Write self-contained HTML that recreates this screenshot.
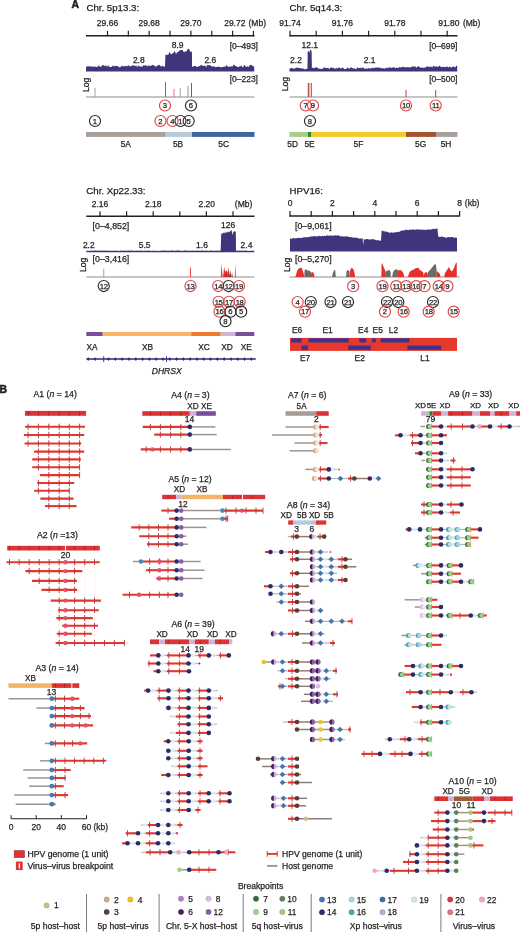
<!DOCTYPE html>
<html><head><meta charset="utf-8"><style>html,body{margin:0;padding:0;background:#fff;}svg{display:block;font-family:"Liberation Sans",Arial,Helvetica,sans-serif;}svg text{stroke:#231f20;stroke-width:0.25;}</style></head>
<body><svg width="520" height="932" viewBox="0 0 520 932" fill="#231f20">
<rect width="520" height="932" fill="#fff"/>
<text x="71.60" y="8.00" font-size="10.4" font-weight="bold" style="stroke-width:0.5px">A</text>
<text x="86.40" y="11.10" font-size="9.7">Chr. 5p13.3:</text>
<line x1="86.00" y1="35.80" x2="254.50" y2="35.80" stroke="#231f20" stroke-width="1.6"/>
<line x1="107.50" y1="30.80" x2="107.50" y2="36.40" stroke="#231f20" stroke-width="1.2"/>
<line x1="128.35" y1="30.80" x2="128.35" y2="36.40" stroke="#231f20" stroke-width="1.2"/>
<line x1="149.20" y1="30.80" x2="149.20" y2="36.40" stroke="#231f20" stroke-width="1.2"/>
<line x1="170.05" y1="30.80" x2="170.05" y2="36.40" stroke="#231f20" stroke-width="1.2"/>
<line x1="190.90" y1="30.80" x2="190.90" y2="36.40" stroke="#231f20" stroke-width="1.2"/>
<line x1="211.75" y1="30.80" x2="211.75" y2="36.40" stroke="#231f20" stroke-width="1.2"/>
<line x1="232.60" y1="30.80" x2="232.60" y2="36.40" stroke="#231f20" stroke-width="1.2"/>
<line x1="253.45" y1="30.80" x2="253.45" y2="36.40" stroke="#231f20" stroke-width="1.2"/>
<text x="107.50" y="26.20" font-size="8.5" text-anchor="middle">29.66</text>
<text x="149.20" y="26.20" font-size="8.5" text-anchor="middle">29.68</text>
<text x="190.90" y="26.20" font-size="8.5" text-anchor="middle">29.70</text>
<text x="234.80" y="26.20" font-size="8.5" text-anchor="middle">29.72</text>
<text x="248.50" y="26.20" font-size="8.5">(Mb)</text>
<text x="258.00" y="48.70" font-size="8.5" text-anchor="end">[0–493]</text>
<path d="M86.00,71.4 L86.00,66.46 L87.00,66.91 L88.00,65.61 L89.00,67.11 L90.00,65.91 L91.00,66.35 L92.00,67.15 L93.00,65.98 L94.00,67.20 L95.00,66.17 L96.00,67.12 L97.00,67.06 L98.00,66.20 L99.00,65.15 L100.00,66.98 L101.00,66.72 L102.00,65.67 L103.00,64.84 L104.00,65.80 L105.00,66.27 L106.00,64.76 L107.00,67.18 L108.00,65.07 L109.00,66.55 L110.00,66.92 L111.00,66.99 L112.00,66.50 L113.00,65.18 L114.00,66.83 L115.00,65.79 L116.00,65.64 L117.00,66.33 L118.00,65.88 L119.00,67.14 L120.00,67.15 L121.00,66.76 L122.00,65.53 L123.00,66.19 L124.00,66.48 L125.00,65.78 L126.00,66.12 L127.00,66.52 L128.00,65.23 L129.00,65.48 L130.00,66.67 L131.00,65.81 L132.00,65.93 L133.00,65.02 L134.00,65.40 L135.00,66.55 L136.00,64.75 L137.00,66.99 L138.00,66.21 L139.00,65.33 L140.00,66.90 L141.00,66.03 L142.00,67.20 L143.00,65.56 L144.00,65.31 L145.00,65.81 L146.00,65.02 L147.00,66.48 L148.00,65.49 L149.00,65.75 L150.00,65.79 L151.00,66.11 L152.00,65.12 L153.00,64.84 L154.00,66.07 L155.00,65.57 L156.00,67.14 L157.00,65.48 L158.00,65.62 L159.00,64.72 L160.00,65.16 L161.00,66.56 L162.00,66.30 L163.00,65.56 L164.00,67.24 L165.00,66.10 L165.40,55.50 L165.60,54.79 L166.90,54.85 L168.20,54.94 L169.50,51.81 L170.80,54.33 L172.10,53.68 L173.40,52.92 L174.70,50.75 L176.00,53.91 L177.30,52.21 L178.60,51.63 L179.90,50.07 L181.20,50.19 L182.50,49.84 L183.80,52.15 L185.10,51.42 L186.40,51.50 L187.70,49.13 L189.00,48.67 L190.30,51.90 L191.60,51.64 L191.90,50.50 L192.10,66.00 L192.20,66.70 L193.20,66.69 L194.20,66.04 L195.20,65.77 L196.20,66.62 L197.20,67.29 L198.20,66.21 L199.20,66.34 L200.20,65.83 L201.20,64.82 L202.20,65.50 L203.20,65.96 L204.20,65.69 L205.20,65.54 L206.20,67.16 L207.20,64.96 L208.20,65.27 L209.20,65.03 L210.20,65.23 L211.20,66.28 L212.20,66.26 L213.20,67.03 L214.20,65.65 L215.20,67.14 L216.20,67.12 L217.20,66.76 L218.20,66.88 L219.20,66.42 L220.20,67.16 L221.20,67.30 L222.20,66.91 L223.20,67.04 L224.20,66.35 L225.20,67.23 L226.20,65.03 L227.20,65.70 L228.20,66.91 L229.20,66.64 L230.20,66.40 L231.20,66.35 L232.20,66.98 L233.20,65.09 L234.20,64.72 L235.20,66.09 L236.20,66.04 L237.20,67.08 L238.20,67.03 L239.20,66.41 L240.20,66.61 L241.20,65.14 L242.20,66.88 L243.20,67.24 L244.20,64.83 L245.20,65.93 L246.20,66.92 L247.20,65.89 L248.20,67.23 L249.20,65.93 L250.20,64.76 L251.20,65.06 L252.20,65.49 L253.20,66.62 L254.20,66.35 L254.20,71.4 Z" fill="#3f357c"/>
<text x="138.80" y="62.50" font-size="8.5" text-anchor="middle">2.8</text>
<text x="177.70" y="47.70" font-size="8.5" text-anchor="middle">8.9</text>
<text x="210.30" y="62.50" font-size="8.5" text-anchor="middle">2.6</text>
<text x="258.00" y="82.00" font-size="8.5" text-anchor="end">[0–223]</text>
<text x="0.00" y="0.00" font-size="8.7" transform="translate(88.5,92.1) rotate(-90)">Log</text>
<line x1="86.00" y1="97.00" x2="254.50" y2="97.00" stroke="#8c8c8c" stroke-width="1.0"/>
<line x1="95.00" y1="88.00" x2="95.00" y2="97.00" stroke="#9a9a9a" stroke-width="0.9"/>
<line x1="165.50" y1="82.00" x2="165.50" y2="97.00" stroke="#e2312d" stroke-width="0.9"/>
<line x1="174.00" y1="89.00" x2="174.00" y2="97.00" stroke="#e86a6a" stroke-width="0.9"/>
<line x1="180.20" y1="88.00" x2="180.20" y2="97.00" stroke="#9a9a9a" stroke-width="0.9"/>
<line x1="188.00" y1="86.00" x2="188.00" y2="97.00" stroke="#8a8a8a" stroke-width="0.9"/>
<line x1="191.50" y1="83.00" x2="191.50" y2="97.00" stroke="#555" stroke-width="0.9"/>
<circle cx="165.00" cy="105.50" r="5.55" fill="none" stroke="#de4646" stroke-width="1.15"/>
<text x="165.00" y="108.25" font-size="7.7" text-anchor="middle">3</text>
<circle cx="191.00" cy="105.50" r="5.55" fill="none" stroke="#2a2a2a" stroke-width="1.15"/>
<text x="191.00" y="108.25" font-size="7.7" text-anchor="middle">6</text>
<circle cx="95.00" cy="121.00" r="5.55" fill="none" stroke="#2a2a2a" stroke-width="1.15"/>
<text x="95.00" y="123.75" font-size="7.7" text-anchor="middle">1</text>
<circle cx="160.50" cy="121.00" r="5.55" fill="none" stroke="#de4646" stroke-width="1.15"/>
<text x="160.50" y="123.75" font-size="7.7" text-anchor="middle">2</text>
<circle cx="172.50" cy="121.00" r="5.55" fill="none" stroke="#de4646" stroke-width="1.15"/>
<text x="172.50" y="123.75" font-size="7.7" text-anchor="middle">4</text>
<circle cx="180.50" cy="121.00" r="5.55" fill="none" stroke="#2a2a2a" stroke-width="1.15"/>
<text x="180.50" y="123.75" font-size="7.7" text-anchor="middle">1</text>
<circle cx="188.70" cy="121.00" r="5.55" fill="none" stroke="#2a2a2a" stroke-width="1.15"/>
<text x="188.70" y="123.75" font-size="7.7" text-anchor="middle">5</text>
<rect x="86.00" y="132.00" width="79.70" height="4.90" fill="#a89f9a"/>
<rect x="165.70" y="132.00" width="26.30" height="4.90" fill="#b9c9d8"/>
<rect x="192.00" y="132.00" width="62.50" height="4.90" fill="#41649e"/>
<text x="125.80" y="147.20" font-size="8.4" text-anchor="middle">5A</text>
<text x="178.00" y="147.20" font-size="8.4" text-anchor="middle">5B</text>
<text x="223.60" y="147.20" font-size="8.4" text-anchor="middle">5C</text>
<text x="289.50" y="11.10" font-size="9.7">Chr. 5q14.3:</text>
<line x1="289.50" y1="35.80" x2="457.50" y2="35.80" stroke="#231f20" stroke-width="1.6"/>
<line x1="290.00" y1="30.80" x2="290.00" y2="36.40" stroke="#231f20" stroke-width="1.2"/>
<line x1="316.20" y1="30.80" x2="316.20" y2="36.40" stroke="#231f20" stroke-width="1.2"/>
<line x1="342.40" y1="30.80" x2="342.40" y2="36.40" stroke="#231f20" stroke-width="1.2"/>
<line x1="368.60" y1="30.80" x2="368.60" y2="36.40" stroke="#231f20" stroke-width="1.2"/>
<line x1="394.80" y1="30.80" x2="394.80" y2="36.40" stroke="#231f20" stroke-width="1.2"/>
<line x1="421.00" y1="30.80" x2="421.00" y2="36.40" stroke="#231f20" stroke-width="1.2"/>
<line x1="447.20" y1="30.80" x2="447.20" y2="36.40" stroke="#231f20" stroke-width="1.2"/>
<text x="290.00" y="26.20" font-size="8.5" text-anchor="middle">91.74</text>
<text x="342.40" y="26.20" font-size="8.5" text-anchor="middle">91.76</text>
<text x="394.80" y="26.20" font-size="8.5" text-anchor="middle">91.78</text>
<text x="448.90" y="26.20" font-size="8.5" text-anchor="middle">91.80</text>
<text x="462.90" y="26.20" font-size="8.5">(Mb)</text>
<text x="457.50" y="48.70" font-size="8.5" text-anchor="end">[0–699]</text>
<path d="M289.50,71.4 L289.50,68.93 L290.50,67.96 L291.50,68.35 L292.50,67.95 L293.50,68.67 L294.50,68.84 L295.50,67.90 L296.50,67.62 L297.50,67.84 L298.50,67.91 L299.50,67.89 L300.50,68.02 L301.50,68.84 L302.50,68.37 L303.50,68.63 L304.50,69.15 L305.50,69.16 L306.50,68.75 L307.50,68.79 L307.70,52.00 L308.30,50.90 L309.20,51.50 L309.60,53.00 L310.10,50.00 L310.80,49.70 L311.60,51.00 L311.90,68.50 L312.20,67.91 L313.20,67.39 L314.20,68.41 L315.20,67.43 L316.20,67.32 L317.20,67.39 L318.20,68.57 L319.20,68.86 L320.20,68.85 L321.20,68.91 L322.20,68.89 L323.20,68.05 L324.20,67.50 L325.20,67.62 L326.20,68.34 L327.20,67.99 L328.20,67.70 L329.20,69.13 L330.20,67.98 L331.20,67.48 L332.20,67.74 L333.20,67.80 L334.20,68.34 L335.20,68.94 L336.20,67.72 L337.20,68.63 L338.20,67.70 L339.20,67.36 L340.20,68.51 L341.20,68.50 L342.20,67.41 L343.20,67.85 L344.20,68.96 L345.20,69.05 L346.20,69.00 L347.20,67.49 L348.20,67.69 L349.20,69.01 L350.20,67.65 L351.20,67.34 L352.20,67.99 L353.20,68.60 L354.20,68.20 L355.20,69.04 L356.20,69.27 L357.20,67.36 L358.20,68.00 L359.20,68.25 L360.20,67.43 L361.20,68.41 L362.20,67.51 L363.20,67.58 L364.20,68.79 L365.20,68.69 L366.20,68.59 L367.20,68.67 L368.20,67.96 L369.20,68.60 L370.20,68.26 L371.20,68.81 L372.20,67.24 L373.20,68.33 L374.20,68.10 L375.20,67.83 L376.20,67.17 L377.20,68.11 L378.20,67.10 L379.20,67.91 L380.20,67.83 L381.20,67.83 L382.20,68.82 L383.20,67.96 L384.20,68.45 L385.20,68.79 L386.20,67.18 L387.20,68.41 L388.20,67.79 L389.20,67.27 L390.20,67.58 L391.20,68.02 L392.20,67.62 L393.20,67.53 L394.20,67.05 L395.20,68.38 L396.20,67.46 L397.20,68.06 L398.20,67.98 L399.20,66.97 L400.20,67.48 L401.20,67.35 L402.20,66.94 L403.20,66.61 L404.20,67.53 L405.20,67.17 L406.20,67.36 L407.20,67.33 L408.20,66.95 L409.20,67.41 L410.20,67.23 L411.20,67.32 L412.20,66.37 L413.20,66.84 L414.20,66.46 L415.20,66.31 L416.20,67.66 L417.20,67.04 L418.20,66.25 L419.20,66.44 L420.20,67.82 L421.20,67.83 L422.20,67.17 L423.20,67.89 L424.20,67.53 L425.20,67.85 L426.20,66.64 L427.20,66.39 L428.20,66.14 L429.20,67.61 L430.20,66.46 L431.20,66.56 L432.20,67.57 L433.20,66.07 L434.20,65.88 L435.20,67.36 L436.20,65.87 L437.20,66.96 L438.20,66.76 L439.20,65.74 L440.20,66.04 L441.20,67.38 L442.20,66.84 L443.20,66.67 L444.20,67.02 L445.20,67.31 L446.20,67.06 L447.20,66.26 L448.20,67.66 L449.20,66.59 L450.20,66.82 L451.20,67.66 L452.20,67.04 L453.20,66.45 L454.20,66.68 L455.20,67.57 L456.20,65.73 L457.20,66.12 L457.20,71.4 Z" fill="#3f357c"/>
<text x="296.00" y="62.50" font-size="8.5" text-anchor="middle">2.2</text>
<text x="309.70" y="47.70" font-size="8.5" text-anchor="middle">12.1</text>
<text x="369.70" y="62.50" font-size="8.5" text-anchor="middle">2.1</text>
<text x="457.50" y="82.20" font-size="8.5" text-anchor="end">[0–500]</text>
<text x="0.00" y="0.00" font-size="8.7" transform="translate(287.7,91.3) rotate(-90)">Log</text>
<line x1="289.50" y1="97.00" x2="457.50" y2="97.00" stroke="#8c8c8c" stroke-width="1.0"/>
<line x1="308.60" y1="83.00" x2="308.60" y2="97.00" stroke="#b85048" stroke-width="1.6"/>
<line x1="311.30" y1="83.00" x2="311.30" y2="97.00" stroke="#d83a3a" stroke-width="1.1"/>
<line x1="406.00" y1="90.00" x2="406.00" y2="97.00" stroke="#e2312d" stroke-width="1.0"/>
<line x1="435.70" y1="90.00" x2="435.70" y2="97.00" stroke="#e2312d" stroke-width="1.0"/>
<circle cx="305.75" cy="105.50" r="5.55" fill="none" stroke="#de4646" stroke-width="1.15"/>
<text x="305.75" y="108.25" font-size="7.7" text-anchor="middle">7</text>
<circle cx="313.00" cy="105.50" r="5.55" fill="none" stroke="#de4646" stroke-width="1.15"/>
<text x="313.00" y="108.25" font-size="7.7" text-anchor="middle">9</text>
<circle cx="406.00" cy="105.50" r="5.55" fill="none" stroke="#de4646" stroke-width="1.15"/>
<text x="406.00" y="108.25" font-size="7.7" text-anchor="middle" letter-spacing="-0.35">10</text>
<circle cx="435.70" cy="105.50" r="5.55" fill="none" stroke="#de4646" stroke-width="1.15"/>
<text x="435.70" y="108.25" font-size="7.7" text-anchor="middle" letter-spacing="-0.35">11</text>
<circle cx="310.00" cy="121.00" r="5.55" fill="none" stroke="#2a2a2a" stroke-width="1.15"/>
<text x="310.00" y="123.75" font-size="7.7" text-anchor="middle">8</text>
<rect x="289.50" y="132.00" width="18.40" height="4.90" fill="#a9cf86"/>
<rect x="307.90" y="132.00" width="3.50" height="4.90" fill="#2f8a2f"/>
<rect x="311.40" y="132.00" width="94.60" height="4.90" fill="#f4cb2c"/>
<rect x="406.00" y="132.00" width="30.00" height="4.90" fill="#a4532c"/>
<rect x="436.00" y="132.00" width="21.50" height="4.90" fill="#a89f9a"/>
<text x="292.70" y="147.20" font-size="8.4" text-anchor="middle">5D</text>
<text x="309.50" y="147.20" font-size="8.4" text-anchor="middle">5E</text>
<text x="358.50" y="147.20" font-size="8.4" text-anchor="middle">5F</text>
<text x="420.70" y="147.20" font-size="8.4" text-anchor="middle">5G</text>
<text x="446.00" y="147.20" font-size="8.4" text-anchor="middle">5H</text>
<text x="86.30" y="194.00" font-size="9.7">Chr. Xp22.33:</text>
<line x1="86.30" y1="216.30" x2="254.50" y2="216.30" stroke="#231f20" stroke-width="1.6"/>
<line x1="100.00" y1="211.30" x2="100.00" y2="216.90" stroke="#231f20" stroke-width="1.2"/>
<line x1="126.60" y1="211.30" x2="126.60" y2="216.90" stroke="#231f20" stroke-width="1.2"/>
<line x1="153.20" y1="211.30" x2="153.20" y2="216.90" stroke="#231f20" stroke-width="1.2"/>
<line x1="179.80" y1="211.30" x2="179.80" y2="216.90" stroke="#231f20" stroke-width="1.2"/>
<line x1="206.40" y1="211.30" x2="206.40" y2="216.90" stroke="#231f20" stroke-width="1.2"/>
<line x1="233.00" y1="211.30" x2="233.00" y2="216.90" stroke="#231f20" stroke-width="1.2"/>
<text x="100.00" y="206.70" font-size="8.5" text-anchor="middle">2.16</text>
<text x="153.20" y="206.70" font-size="8.5" text-anchor="middle">2.18</text>
<text x="206.80" y="206.70" font-size="8.5" text-anchor="middle">2.20</text>
<text x="234.80" y="206.70" font-size="8.5">(Mb)</text>
<text x="92.60" y="229.30" font-size="8.8">[0–4,852]</text>
<path d="M86.30,252.2 L86.30,250.41 L87.00,250.85 L87.70,250.77 L88.40,250.88 L89.10,250.51 L89.80,250.76 L90.50,250.84 L91.20,250.69 L91.90,250.44 L92.60,250.49 L93.30,250.77 L94.00,250.83 L94.70,250.44 L95.40,250.61 L96.10,250.55 L96.80,250.86 L97.50,250.87 L98.20,250.56 L98.90,250.69 L99.60,250.86 L100.30,250.43 L101.00,250.58 L101.70,250.50 L102.40,250.86 L103.10,250.47 L103.80,250.87 L104.50,250.47 L105.20,250.67 L105.90,250.73 L106.60,250.62 L107.30,250.44 L108.00,250.77 L108.70,250.84 L109.40,250.64 L110.10,250.78 L110.80,250.85 L111.50,250.82 L112.20,250.87 L112.90,250.80 L113.60,250.74 L114.30,250.75 L115.00,250.52 L115.70,250.76 L116.40,250.65 L117.10,250.81 L117.80,250.73 L118.50,250.89 L119.20,250.77 L119.90,250.89 L120.60,250.53 L121.30,250.62 L122.00,250.81 L122.70,250.66 L123.40,250.43 L124.10,250.85 L124.80,250.49 L125.50,250.68 L126.20,250.65 L126.90,250.48 L127.60,250.70 L128.30,250.65 L129.00,250.56 L129.70,250.41 L130.40,250.73 L131.10,250.48 L131.80,250.55 L132.50,250.58 L133.20,250.70 L133.90,250.73 L134.60,250.87 L135.30,250.84 L136.00,250.86 L136.70,250.53 L137.40,250.77 L138.10,250.82 L138.80,250.86 L139.50,250.48 L140.20,250.46 L140.90,250.56 L141.60,250.76 L142.30,250.78 L143.00,250.75 L143.70,250.67 L144.40,250.82 L145.10,250.68 L145.80,250.77 L146.50,250.42 L147.20,250.41 L147.90,250.63 L148.60,250.78 L149.30,250.42 L150.00,250.75 L150.70,250.72 L151.40,250.90 L152.10,250.71 L152.80,250.66 L153.50,250.65 L154.20,250.80 L154.90,250.65 L155.60,250.90 L156.30,250.77 L157.00,250.86 L157.70,250.70 L158.40,250.88 L159.10,250.89 L159.80,250.75 L160.50,250.78 L161.20,250.61 L161.90,250.64 L162.60,250.52 L163.30,250.57 L164.00,250.54 L164.70,250.46 L165.40,250.71 L166.10,250.74 L166.80,250.41 L167.50,250.83 L168.20,250.54 L168.90,250.58 L169.60,250.88 L170.30,250.48 L171.00,250.45 L171.70,250.59 L172.40,250.53 L173.10,250.49 L173.80,250.83 L174.50,250.64 L175.20,250.65 L175.90,250.48 L176.60,250.50 L177.30,250.49 L178.00,250.61 L178.70,250.45 L179.40,250.56 L180.10,250.55 L180.80,250.79 L181.50,250.88 L182.20,250.83 L182.90,250.72 L183.60,250.85 L184.30,250.48 L185.00,250.62 L185.70,250.59 L186.40,250.59 L187.10,250.56 L187.80,250.66 L188.50,250.90 L189.20,250.50 L189.90,250.53 L190.60,250.65 L191.30,250.63 L192.00,250.57 L192.70,250.87 L193.40,250.53 L194.10,250.77 L194.80,250.86 L195.50,250.77 L196.20,250.54 L196.90,250.80 L197.60,250.53 L198.30,250.41 L199.00,250.65 L199.70,250.71 L200.40,250.66 L201.10,250.56 L201.80,250.52 L202.50,250.59 L203.20,250.58 L203.90,250.86 L204.60,250.83 L205.30,250.77 L206.00,250.53 L206.70,250.75 L207.40,250.62 L208.10,250.89 L208.80,250.87 L209.50,250.77 L210.20,250.56 L210.90,250.55 L211.60,250.56 L212.30,250.75 L213.00,250.64 L213.70,250.67 L214.40,250.67 L215.10,250.84 L215.80,250.45 L216.50,250.80 L217.20,250.41 L217.90,250.43 L218.60,250.89 L219.30,250.67 L220.00,250.49 L220.70,250.42 L221.20,234.00 L221.80,233.20 L222.60,233.80 L223.40,232.60 L224.20,233.40 L225.00,232.00 L225.80,233.00 L226.60,232.40 L227.40,231.60 L228.20,232.80 L229.00,231.20 L229.80,232.00 L230.60,231.00 L231.40,229.80 L232.00,232.00 L232.70,235.20 L233.30,232.00 L234.20,231.30 L235.00,231.60 L235.80,231.80 L236.00,250.68 L236.70,250.77 L237.40,250.80 L238.10,250.43 L238.80,250.79 L239.50,250.61 L240.20,250.83 L240.90,250.64 L241.60,250.42 L242.30,250.83 L243.00,250.49 L243.70,250.65 L244.40,250.46 L245.10,250.55 L245.80,250.78 L246.50,250.45 L247.20,250.66 L247.90,250.89 L248.60,250.90 L249.30,250.65 L250.00,250.67 L250.70,250.75 L251.40,250.83 L252.10,250.73 L252.80,250.74 L253.50,250.48 L254.20,250.90 L254.20,252.2 Z" fill="#3f357c"/>
<text x="88.80" y="247.50" font-size="8.5" text-anchor="middle">2.2</text>
<text x="144.60" y="247.50" font-size="8.5" text-anchor="middle">5.5</text>
<text x="202.00" y="247.50" font-size="8.5" text-anchor="middle">1.6</text>
<text x="228.20" y="228.20" font-size="8.5" text-anchor="middle">126</text>
<text x="246.50" y="247.50" font-size="8.5" text-anchor="middle">2.4</text>
<text x="92.60" y="262.30" font-size="8.8">[0–3,416]</text>
<text x="0.00" y="0.00" font-size="8.7" transform="translate(86.0,272.1) rotate(-90)">Log</text>
<line x1="86.30" y1="277.00" x2="254.50" y2="277.00" stroke="#8c8c8c" stroke-width="1.0"/>
<line x1="103.75" y1="268.70" x2="103.75" y2="277.00" stroke="#9a9a9a" stroke-width="0.9"/>
<line x1="190.50" y1="267.50" x2="190.50" y2="277.00" stroke="#e2312d" stroke-width="0.9"/>
<path d="M220.80,277.00 L221.50,263.00 L222.60,277.00Z" fill="#e2312d"/>
<path d="M223.00,277.00 L224.20,267.00 L226.00,277.00Z" fill="#e2312d"/>
<path d="M224.60,277.00 L225.50,271.00 L226.50,270.50 L227.50,272.00 L228.00,277.00Z" fill="#e41e1e"/>
<path d="M227.50,277.00 L228.50,267.30 L229.80,277.00Z" fill="#b03030"/>
<path d="M229.40,277.00 L230.20,270.00 L231.10,277.00Z" fill="#6a2a2a"/>
<path d="M231.30,277.00 L232.00,272.00 L232.80,277.00Z" fill="#e2312d"/>
<path d="M234.70,277.00 L235.40,263.80 L236.20,277.00Z" fill="#e86060"/>
<circle cx="103.75" cy="286.00" r="5.55" fill="none" stroke="#2a2a2a" stroke-width="1.15"/>
<text x="103.75" y="288.75" font-size="7.7" text-anchor="middle" letter-spacing="-0.35">12</text>
<circle cx="190.50" cy="286.00" r="5.55" fill="none" stroke="#de4646" stroke-width="1.15"/>
<text x="190.50" y="288.75" font-size="7.7" text-anchor="middle" letter-spacing="-0.35">13</text>
<circle cx="218.20" cy="286.00" r="5.55" fill="none" stroke="#de4646" stroke-width="1.15"/>
<text x="218.20" y="288.75" font-size="7.7" text-anchor="middle" letter-spacing="-0.35">14</text>
<circle cx="228.60" cy="286.00" r="5.55" fill="none" stroke="#2a2a2a" stroke-width="1.15"/>
<text x="228.60" y="288.75" font-size="7.7" text-anchor="middle" letter-spacing="-0.35">12</text>
<circle cx="239.00" cy="286.00" r="5.55" fill="none" stroke="#de4646" stroke-width="1.15"/>
<text x="239.00" y="288.75" font-size="7.7" text-anchor="middle" letter-spacing="-0.35">19</text>
<circle cx="218.60" cy="301.80" r="5.55" fill="none" stroke="#de4646" stroke-width="1.15"/>
<text x="218.60" y="304.55" font-size="7.7" text-anchor="middle" letter-spacing="-0.35">15</text>
<circle cx="229.00" cy="301.80" r="5.55" fill="none" stroke="#de4646" stroke-width="1.15"/>
<text x="229.00" y="304.55" font-size="7.7" text-anchor="middle" letter-spacing="-0.35">17</text>
<circle cx="239.60" cy="301.80" r="5.55" fill="none" stroke="#de4646" stroke-width="1.15"/>
<text x="239.60" y="304.55" font-size="7.7" text-anchor="middle" letter-spacing="-0.35">18</text>
<circle cx="219.50" cy="311.70" r="5.55" fill="none" stroke="#de4646" stroke-width="1.15"/>
<text x="219.50" y="314.45" font-size="7.7" text-anchor="middle" letter-spacing="-0.35">16</text>
<circle cx="230.50" cy="311.70" r="5.55" fill="none" stroke="#2a2a2a" stroke-width="1.15"/>
<text x="230.50" y="314.45" font-size="7.7" text-anchor="middle">6</text>
<circle cx="241.20" cy="311.70" r="5.55" fill="none" stroke="#2a2a2a" stroke-width="1.15"/>
<text x="241.20" y="314.45" font-size="7.7" text-anchor="middle">5</text>
<circle cx="225.50" cy="321.20" r="5.55" fill="none" stroke="#2a2a2a" stroke-width="1.15"/>
<text x="225.50" y="323.95" font-size="7.7" text-anchor="middle">8</text>
<rect x="86.30" y="332.00" width="16.40" height="4.00" fill="#7c4c9c"/>
<rect x="102.70" y="332.00" width="88.50" height="4.00" fill="#f6b466"/>
<rect x="191.20" y="332.00" width="29.50" height="4.00" fill="#ee7c2c"/>
<rect x="220.70" y="332.00" width="14.70" height="4.00" fill="#cdb5d8"/>
<rect x="235.40" y="332.00" width="18.90" height="4.00" fill="#7c4c9c"/>
<text x="92.00" y="349.80" font-size="8.4" text-anchor="middle">XA</text>
<text x="147.50" y="349.80" font-size="8.4" text-anchor="middle">XB</text>
<text x="204.00" y="349.80" font-size="8.4" text-anchor="middle">XC</text>
<text x="227.00" y="349.80" font-size="8.4" text-anchor="middle">XD</text>
<text x="246.30" y="349.80" font-size="8.4" text-anchor="middle">XE</text>
<line x1="86.50" y1="359.10" x2="255.80" y2="359.10" stroke="#2d2a7c" stroke-width="1.5"/>
<path d="M86.60,359.1 L88.30,357.30 L89.50,359.1 L88.30,360.90Z" fill="#2d2a7c"/>
<path d="M93.40,359.1 L95.10,357.30 L96.30,359.1 L95.10,360.90Z" fill="#2d2a7c"/>
<path d="M107.00,359.1 L108.70,357.30 L109.90,359.1 L108.70,360.90Z" fill="#2d2a7c"/>
<path d="M113.80,359.1 L115.50,357.30 L116.70,359.1 L115.50,360.90Z" fill="#2d2a7c"/>
<path d="M120.60,359.1 L122.30,357.30 L123.50,359.1 L122.30,360.90Z" fill="#2d2a7c"/>
<path d="M127.40,359.1 L129.10,357.30 L130.30,359.1 L129.10,360.90Z" fill="#2d2a7c"/>
<path d="M134.20,359.1 L135.90,357.30 L137.10,359.1 L135.90,360.90Z" fill="#2d2a7c"/>
<path d="M141.00,359.1 L142.70,357.30 L143.90,359.1 L142.70,360.90Z" fill="#2d2a7c"/>
<path d="M147.80,359.1 L149.50,357.30 L150.70,359.1 L149.50,360.90Z" fill="#2d2a7c"/>
<path d="M154.60,359.1 L156.30,357.30 L157.50,359.1 L156.30,360.90Z" fill="#2d2a7c"/>
<path d="M161.40,359.1 L163.10,357.30 L164.30,359.1 L163.10,360.90Z" fill="#2d2a7c"/>
<path d="M168.20,359.1 L169.90,357.30 L171.10,359.1 L169.90,360.90Z" fill="#2d2a7c"/>
<path d="M175.00,359.1 L176.70,357.30 L177.90,359.1 L176.70,360.90Z" fill="#2d2a7c"/>
<path d="M181.80,359.1 L183.50,357.30 L184.70,359.1 L183.50,360.90Z" fill="#2d2a7c"/>
<path d="M188.60,359.1 L190.30,357.30 L191.50,359.1 L190.30,360.90Z" fill="#2d2a7c"/>
<path d="M195.40,359.1 L197.10,357.30 L198.30,359.1 L197.10,360.90Z" fill="#2d2a7c"/>
<path d="M202.20,359.1 L203.90,357.30 L205.10,359.1 L203.90,360.90Z" fill="#2d2a7c"/>
<path d="M209.00,359.1 L210.70,357.30 L211.90,359.1 L210.70,360.90Z" fill="#2d2a7c"/>
<path d="M215.80,359.1 L217.50,357.30 L218.70,359.1 L217.50,360.90Z" fill="#2d2a7c"/>
<path d="M222.60,359.1 L224.30,357.30 L225.50,359.1 L224.30,360.90Z" fill="#2d2a7c"/>
<path d="M229.40,359.1 L231.10,357.30 L232.30,359.1 L231.10,360.90Z" fill="#2d2a7c"/>
<path d="M236.20,359.1 L237.90,357.30 L239.10,359.1 L237.90,360.90Z" fill="#2d2a7c"/>
<path d="M243.00,359.1 L244.70,357.30 L245.90,359.1 L244.70,360.90Z" fill="#2d2a7c"/>
<path d="M249.80,359.1 L251.50,357.30 L252.70,359.1 L251.50,360.90Z" fill="#2d2a7c"/>
<line x1="103.70" y1="356.20" x2="103.70" y2="362.00" stroke="#2d2a7c" stroke-width="0.9"/>
<line x1="166.50" y1="356.20" x2="166.50" y2="362.00" stroke="#2d2a7c" stroke-width="0.9"/>
<text x="151.70" y="373.50" font-size="8.6" font-style="italic">DHRSX</text>
<text x="289.50" y="194.00" font-size="9.7">HPV16:</text>
<line x1="289.50" y1="216.00" x2="459.60" y2="216.00" stroke="#231f20" stroke-width="1.6"/>
<line x1="290.00" y1="211.00" x2="290.00" y2="216.60" stroke="#231f20" stroke-width="1.2"/>
<line x1="311.20" y1="211.00" x2="311.20" y2="216.60" stroke="#231f20" stroke-width="1.2"/>
<line x1="332.40" y1="211.00" x2="332.40" y2="216.60" stroke="#231f20" stroke-width="1.2"/>
<line x1="353.60" y1="211.00" x2="353.60" y2="216.60" stroke="#231f20" stroke-width="1.2"/>
<line x1="374.80" y1="211.00" x2="374.80" y2="216.60" stroke="#231f20" stroke-width="1.2"/>
<line x1="396.00" y1="211.00" x2="396.00" y2="216.60" stroke="#231f20" stroke-width="1.2"/>
<line x1="417.20" y1="211.00" x2="417.20" y2="216.60" stroke="#231f20" stroke-width="1.2"/>
<line x1="438.40" y1="211.00" x2="438.40" y2="216.60" stroke="#231f20" stroke-width="1.2"/>
<line x1="459.60" y1="211.00" x2="459.60" y2="216.60" stroke="#231f20" stroke-width="1.2"/>
<text x="290.00" y="206.40" font-size="8.5" text-anchor="middle">0</text>
<text x="332.40" y="206.40" font-size="8.5" text-anchor="middle">2</text>
<text x="374.80" y="206.40" font-size="8.5" text-anchor="middle">4</text>
<text x="417.20" y="206.40" font-size="8.5" text-anchor="middle">6</text>
<text x="459.50" y="206.40" font-size="8.5" text-anchor="middle">8</text>
<text x="464.80" y="206.40" font-size="8.5">(kb)</text>
<text x="295.00" y="229.30" font-size="8.8">[0–9,061]</text>
<path d="M290.00,251.6 L290.00,238.60 L290.83,238.45 L291.67,238.94 L292.50,238.21 L293.33,238.30 L294.17,238.06 L295.00,238.47 L295.83,238.32 L296.67,238.22 L297.50,237.65 L298.33,237.90 L299.17,237.99 L300.00,237.86 L300.83,237.90 L301.67,237.99 L302.50,237.87 L303.33,237.20 L304.17,237.55 L305.00,236.95 L305.83,237.42 L306.67,237.32 L307.50,237.04 L308.33,237.21 L309.17,236.98 L310.00,236.44 L310.83,236.43 L311.67,236.42 L312.50,236.50 L313.33,236.20 L314.17,236.11 L315.00,236.36 L315.83,236.16 L316.67,236.63 L317.50,236.01 L318.33,236.17 L319.17,235.86 L320.00,235.88 L320.83,236.14 L321.67,236.29 L322.50,235.56 L323.33,236.16 L324.17,235.86 L325.00,235.93 L325.83,235.93 L326.67,235.54 L327.50,235.32 L328.33,235.86 L329.17,235.51 L330.00,235.76 L330.83,235.52 L331.67,235.62 L332.50,235.77 L333.33,235.74 L334.17,235.67 L335.00,235.08 L335.83,235.49 L336.67,235.79 L337.50,235.32 L338.33,235.34 L339.17,235.86 L340.00,236.19 L340.83,236.23 L341.67,236.39 L342.50,236.28 L343.33,236.56 L344.17,236.53 L345.00,236.59 L345.83,236.43 L346.67,236.26 L347.50,236.45 L348.33,236.80 L349.17,236.89 L350.00,236.88 L350.83,237.12 L351.67,237.28 L352.50,237.63 L353.33,237.58 L354.17,237.15 L355.00,237.95 L355.83,237.77 L356.67,237.80 L357.50,237.73 L358.33,238.38 L359.17,238.46 L360.00,238.60 L360.87,238.55 L361.73,238.58 L362.60,238.24 L363.20,245.32 L363.80,238.80 L364.66,239.52 L365.52,239.55 L366.38,239.05 L367.25,238.94 L368.11,239.31 L368.97,239.26 L369.83,239.77 L370.69,239.49 L371.55,239.10 L372.42,239.22 L373.28,239.24 L374.14,239.18 L375.00,239.80 L375.86,240.13 L376.71,240.31 L377.57,240.22 L378.43,240.31 L379.29,240.32 L380.14,240.71 L381.00,240.98 L381.60,230.39 L382.44,230.83 L383.28,230.96 L384.12,231.57 L384.96,231.17 L385.80,231.81 L386.64,231.46 L387.48,231.88 L388.32,232.36 L389.16,232.70 L390.00,232.80 L390.88,232.43 L391.75,232.32 L392.62,232.72 L393.50,232.69 L394.38,232.27 L395.25,232.16 L396.12,232.25 L397.00,232.32 L397.80,231.81 L398.60,232.07 L399.40,231.63 L400.20,231.29 L401.00,230.68 L401.80,230.72 L402.60,230.32 L403.40,230.44 L404.20,230.42 L405.00,230.20 L405.83,229.58 L406.67,229.74 L407.50,230.00 L408.33,230.18 L409.17,229.75 L410.00,229.56 L410.83,229.71 L411.67,229.79 L412.50,229.42 L413.33,229.16 L414.17,229.67 L415.00,229.77 L415.83,229.56 L416.67,229.53 L417.50,229.35 L418.33,229.77 L419.17,229.33 L420.00,229.41 L420.83,229.63 L421.67,229.90 L422.50,229.32 L423.33,229.88 L424.17,229.51 L425.00,230.02 L425.88,229.95 L426.75,229.44 L427.62,229.74 L428.50,229.14 L429.38,229.43 L430.25,229.60 L431.12,229.50 L432.00,229.27 L432.90,228.95 L433.80,228.61 L434.70,229.13 L435.60,228.82 L436.50,228.85 L437.40,228.12 L438.20,236.49 L439.05,236.73 L439.90,236.90 L440.75,236.81 L441.60,236.58 L442.45,236.77 L443.30,237.06 L444.15,237.03 L445.00,237.25 L445.88,237.65 L446.75,237.68 L447.62,236.99 L448.50,237.05 L449.38,237.54 L450.25,236.94 L451.12,237.08 L452.00,237.00 L452.83,237.15 L453.67,237.40 L454.50,237.65 L455.33,237.54 L456.17,237.60 L457.00,238.00 L457.00,251.6 Z" fill="#3f357c"/>
<text x="295.00" y="262.30" font-size="8.8">[0–5,270]</text>
<text x="0.00" y="0.00" font-size="8.7" transform="translate(289.5,272.1) rotate(-90)">Log</text>
<line x1="289.50" y1="277.00" x2="459.60" y2="277.00" stroke="#8c8c8c" stroke-width="1.0"/>
<path d="M295.40,277.00 L296.50,273.00 L297.50,270.00 L299.00,268.50 L300.50,267.60 L301.50,268.00 L302.50,270.00 L303.50,273.00 L304.30,277.00Z" fill="#e2312d"/>
<path d="M304.30,277.00 L304.60,270.00 L305.50,269.20 L307.00,270.20 L308.50,270.50 L310.00,271.00 L311.50,273.00 L312.50,277.00Z" fill="#6f6a64"/>
<path d="M310.90,277.00 L311.50,272.50 L313.00,272.00 L314.00,274.00 L314.60,277.00Z" fill="#e2312d"/>
<path d="M332.10,277.00 L332.80,273.00 L334.00,270.50 L335.20,269.70 L335.80,277.00Z" fill="#6f6a64"/>
<path d="M346.00,277.00 L346.60,271.00 L348.00,270.00 L349.30,271.00 L349.50,277.00Z" fill="#6f6a64"/>
<path d="M349.20,277.00 L350.00,271.00 L351.00,268.50 L352.00,267.70 L353.50,269.50 L354.50,273.00 L355.20,277.00Z" fill="#e2312d"/>
<path d="M381.30,277.00 L381.60,264.00 L382.00,263.00 L383.00,265.50 L384.50,269.00 L385.60,271.50 L386.00,277.00Z" fill="#e2312d"/>
<path d="M385.50,277.00 L385.70,271.50 L387.50,270.50 L389.50,270.00 L390.60,272.00 L390.80,277.00Z" fill="#6f6a64"/>
<path d="M392.20,277.00 L393.00,272.00 L394.50,270.00 L396.50,269.20 L398.10,270.00 L398.30,277.00Z" fill="#6f6a64"/>
<path d="M398.00,277.00 L398.20,270.50 L400.00,270.00 L402.00,271.00 L403.50,273.50 L404.20,277.00Z" fill="#e2312d"/>
<path d="M408.00,277.00 L409.00,273.00 L411.00,270.50 L413.00,270.00 L415.00,268.50 L417.00,268.00 L418.50,267.50 L419.50,270.00 L421.00,270.50 L423.30,272.50 L424.00,277.00Z" fill="#e2312d"/>
<path d="M423.50,277.00 L424.50,273.00 L426.00,272.00 L427.50,273.00 L428.00,277.00Z" fill="#e2312d"/>
<path d="M427.40,277.00 L428.00,272.00 L430.00,270.00 L432.00,267.50 L434.00,265.00 L435.00,263.70 L436.00,265.00 L436.60,270.00 L436.80,277.00Z" fill="#6f6a64"/>
<path d="M436.60,277.00 L436.80,271.00 L438.50,272.50 L440.00,274.00 L440.50,277.00Z" fill="#e2312d"/>
<path d="M444.10,277.00 L445.00,273.00 L447.00,270.00 L449.00,267.00 L450.50,270.00 L452.00,271.50 L454.00,268.00 L456.00,262.50 L456.80,263.00 L456.80,277.00Z" fill="#e2312d"/>
<circle cx="353.20" cy="286.20" r="5.55" fill="none" stroke="#de4646" stroke-width="1.15"/>
<text x="353.20" y="288.95" font-size="7.7" text-anchor="middle">3</text>
<circle cx="382.50" cy="286.20" r="5.55" fill="none" stroke="#de4646" stroke-width="1.15"/>
<text x="382.50" y="288.95" font-size="7.7" text-anchor="middle" letter-spacing="-0.35">19</text>
<circle cx="396.20" cy="286.20" r="5.55" fill="none" stroke="#de4646" stroke-width="1.15"/>
<text x="396.20" y="288.95" font-size="7.7" text-anchor="middle" letter-spacing="-0.35">11</text>
<circle cx="406.20" cy="286.20" r="5.55" fill="none" stroke="#de4646" stroke-width="1.15"/>
<text x="406.20" y="288.95" font-size="7.7" text-anchor="middle" letter-spacing="-0.35">13</text>
<circle cx="416.20" cy="286.20" r="5.55" fill="none" stroke="#de4646" stroke-width="1.15"/>
<text x="416.20" y="288.95" font-size="7.7" text-anchor="middle" letter-spacing="-0.35">10</text>
<circle cx="424.50" cy="286.20" r="5.55" fill="none" stroke="#de4646" stroke-width="1.15"/>
<text x="424.50" y="288.95" font-size="7.7" text-anchor="middle">7</text>
<circle cx="438.70" cy="286.20" r="5.55" fill="none" stroke="#de4646" stroke-width="1.15"/>
<text x="438.70" y="288.95" font-size="7.7" text-anchor="middle" letter-spacing="-0.35">14</text>
<circle cx="447.50" cy="286.20" r="5.55" fill="none" stroke="#de4646" stroke-width="1.15"/>
<text x="447.50" y="288.95" font-size="7.7" text-anchor="middle">9</text>
<circle cx="297.60" cy="302.00" r="5.55" fill="none" stroke="#de4646" stroke-width="1.15"/>
<text x="297.60" y="304.75" font-size="7.7" text-anchor="middle">4</text>
<circle cx="310.80" cy="302.00" r="5.55" fill="none" stroke="#2a2a2a" stroke-width="1.15"/>
<text x="310.80" y="304.75" font-size="7.7" text-anchor="middle" letter-spacing="-0.35">20</text>
<circle cx="330.50" cy="302.00" r="5.55" fill="none" stroke="#2a2a2a" stroke-width="1.15"/>
<text x="330.50" y="304.75" font-size="7.7" text-anchor="middle" letter-spacing="-0.35">21</text>
<circle cx="348.00" cy="302.00" r="5.55" fill="none" stroke="#2a2a2a" stroke-width="1.15"/>
<text x="348.00" y="304.75" font-size="7.7" text-anchor="middle" letter-spacing="-0.35">21</text>
<circle cx="387.00" cy="302.00" r="5.55" fill="none" stroke="#2a2a2a" stroke-width="1.15"/>
<text x="387.00" y="304.75" font-size="7.7" text-anchor="middle" letter-spacing="-0.35">22</text>
<circle cx="398.30" cy="302.00" r="5.55" fill="none" stroke="#2a2a2a" stroke-width="1.15"/>
<text x="398.30" y="304.75" font-size="7.7" text-anchor="middle" letter-spacing="-0.35">20</text>
<circle cx="433.00" cy="302.00" r="5.55" fill="none" stroke="#2a2a2a" stroke-width="1.15"/>
<text x="433.00" y="304.75" font-size="7.7" text-anchor="middle" letter-spacing="-0.35">22</text>
<circle cx="305.00" cy="311.70" r="5.55" fill="none" stroke="#de4646" stroke-width="1.15"/>
<text x="305.00" y="314.45" font-size="7.7" text-anchor="middle" letter-spacing="-0.35">17</text>
<circle cx="385.00" cy="311.70" r="5.55" fill="none" stroke="#de4646" stroke-width="1.15"/>
<text x="385.00" y="314.45" font-size="7.7" text-anchor="middle">2</text>
<circle cx="403.70" cy="311.70" r="5.55" fill="none" stroke="#de4646" stroke-width="1.15"/>
<text x="403.70" y="314.45" font-size="7.7" text-anchor="middle" letter-spacing="-0.35">16</text>
<circle cx="428.70" cy="311.70" r="5.55" fill="none" stroke="#de4646" stroke-width="1.15"/>
<text x="428.70" y="314.45" font-size="7.7" text-anchor="middle" letter-spacing="-0.35">18</text>
<circle cx="453.70" cy="311.70" r="5.55" fill="none" stroke="#de4646" stroke-width="1.15"/>
<text x="453.70" y="314.45" font-size="7.7" text-anchor="middle" letter-spacing="-0.35">15</text>
<rect x="290.00" y="337.90" width="167.00" height="13.00" fill="#e6392c"/>
<rect x="291.00" y="338.30" width="10.50" height="4.20" fill="#40328a"/>
<rect x="308.50" y="338.30" width="40.30" height="4.20" fill="#40328a"/>
<rect x="359.20" y="338.30" width="7.00" height="4.20" fill="#40328a"/>
<rect x="372.00" y="338.30" width="3.80" height="4.20" fill="#40328a"/>
<rect x="380.60" y="338.30" width="28.80" height="4.20" fill="#40328a"/>
<rect x="301.50" y="345.50" width="6.40" height="4.40" fill="#40328a"/>
<rect x="348.30" y="345.50" width="22.50" height="4.40" fill="#40328a"/>
<rect x="407.50" y="345.50" width="33.70" height="4.40" fill="#40328a"/>
<text x="297.00" y="333.30" font-size="8.4" text-anchor="middle">E6</text>
<text x="327.50" y="333.30" font-size="8.4" text-anchor="middle">E1</text>
<text x="363.20" y="333.30" font-size="8.4" text-anchor="middle">E4</text>
<text x="377.70" y="333.30" font-size="8.4" text-anchor="middle">E5</text>
<text x="393.50" y="333.30" font-size="8.4" text-anchor="middle">L2</text>
<text x="305.00" y="361.00" font-size="8.4" text-anchor="middle">E7</text>
<text x="359.70" y="361.00" font-size="8.4" text-anchor="middle">E2</text>
<text x="425.00" y="361.00" font-size="8.4" text-anchor="middle">L1</text>
<text x="-0.60" y="392.90" font-size="10.4" font-weight="bold" style="stroke-width:0.5px">B</text>
<text x="55.20" y="397.30" font-size="8.7" text-anchor="middle">A1 (<tspan font-style="italic">n</tspan> = 14)</text>
<rect x="25.00" y="410.90" width="61.10" height="4.90" fill="#dc3434"/>
<line x1="28.40" y1="411.10" x2="28.40" y2="415.60" stroke="#a01c1c" stroke-width="0.7"/>
<line x1="38.50" y1="411.10" x2="38.50" y2="415.60" stroke="#a01c1c" stroke-width="0.7"/>
<line x1="48.70" y1="411.10" x2="48.70" y2="415.60" stroke="#a01c1c" stroke-width="0.7"/>
<line x1="59.10" y1="411.10" x2="59.10" y2="415.60" stroke="#a01c1c" stroke-width="0.7"/>
<line x1="69.30" y1="411.10" x2="69.30" y2="415.60" stroke="#a01c1c" stroke-width="0.7"/>
<line x1="79.50" y1="411.10" x2="79.50" y2="415.60" stroke="#a01c1c" stroke-width="0.7"/>
<line x1="28.10" y1="423.80" x2="28.10" y2="446.50" stroke="#f2d2d7" stroke-width="0.6" stroke-dasharray="1.2 1.2"/>
<line x1="38.40" y1="423.80" x2="38.40" y2="493.80" stroke="#f2d2d7" stroke-width="0.6" stroke-dasharray="1.2 1.2"/>
<line x1="48.80" y1="423.80" x2="48.80" y2="509.10" stroke="#f2d2d7" stroke-width="0.6" stroke-dasharray="1.2 1.2"/>
<line x1="59.20" y1="423.80" x2="59.20" y2="509.10" stroke="#f2d2d7" stroke-width="0.6" stroke-dasharray="1.2 1.2"/>
<line x1="69.30" y1="423.80" x2="69.30" y2="509.10" stroke="#f2d2d7" stroke-width="0.6" stroke-dasharray="1.2 1.2"/>
<line x1="79.60" y1="423.80" x2="79.60" y2="478.10" stroke="#f2d2d7" stroke-width="0.6" stroke-dasharray="1.2 1.2"/>
<line x1="25.00" y1="426.80" x2="85.00" y2="426.80" stroke="#df382c" stroke-width="2.1"/>
<line x1="28.10" y1="423.70" x2="28.10" y2="429.90" stroke="#b8323f" stroke-width="0.9"/>
<line x1="38.40" y1="423.70" x2="38.40" y2="429.90" stroke="#b8323f" stroke-width="0.9"/>
<line x1="48.80" y1="423.70" x2="48.80" y2="429.90" stroke="#b8323f" stroke-width="0.9"/>
<line x1="59.20" y1="423.70" x2="59.20" y2="429.90" stroke="#b8323f" stroke-width="0.9"/>
<line x1="69.30" y1="423.70" x2="69.30" y2="429.90" stroke="#b8323f" stroke-width="0.9"/>
<line x1="79.60" y1="423.70" x2="79.60" y2="429.90" stroke="#b8323f" stroke-width="0.9"/>
<line x1="23.90" y1="435.00" x2="84.20" y2="435.00" stroke="#df382c" stroke-width="2.1"/>
<line x1="28.10" y1="431.90" x2="28.10" y2="438.10" stroke="#b8323f" stroke-width="0.9"/>
<line x1="38.40" y1="431.90" x2="38.40" y2="438.10" stroke="#b8323f" stroke-width="0.9"/>
<line x1="48.80" y1="431.90" x2="48.80" y2="438.10" stroke="#b8323f" stroke-width="0.9"/>
<line x1="59.20" y1="431.90" x2="59.20" y2="438.10" stroke="#b8323f" stroke-width="0.9"/>
<line x1="69.30" y1="431.90" x2="69.30" y2="438.10" stroke="#b8323f" stroke-width="0.9"/>
<line x1="79.60" y1="431.90" x2="79.60" y2="438.10" stroke="#b8323f" stroke-width="0.9"/>
<line x1="24.50" y1="443.50" x2="81.20" y2="443.50" stroke="#df382c" stroke-width="2.1"/>
<line x1="28.10" y1="440.40" x2="28.10" y2="446.60" stroke="#b8323f" stroke-width="0.9"/>
<line x1="38.40" y1="440.40" x2="38.40" y2="446.60" stroke="#b8323f" stroke-width="0.9"/>
<line x1="48.80" y1="440.40" x2="48.80" y2="446.60" stroke="#b8323f" stroke-width="0.9"/>
<line x1="59.20" y1="440.40" x2="59.20" y2="446.60" stroke="#b8323f" stroke-width="0.9"/>
<line x1="69.30" y1="440.40" x2="69.30" y2="446.60" stroke="#b8323f" stroke-width="0.9"/>
<line x1="79.60" y1="440.40" x2="79.60" y2="446.60" stroke="#b8323f" stroke-width="0.9"/>
<line x1="34.20" y1="451.60" x2="84.20" y2="451.60" stroke="#df382c" stroke-width="2.1"/>
<line x1="38.40" y1="448.50" x2="38.40" y2="454.70" stroke="#b8323f" stroke-width="0.9"/>
<line x1="48.80" y1="448.50" x2="48.80" y2="454.70" stroke="#b8323f" stroke-width="0.9"/>
<line x1="59.20" y1="448.50" x2="59.20" y2="454.70" stroke="#b8323f" stroke-width="0.9"/>
<line x1="69.30" y1="448.50" x2="69.30" y2="454.70" stroke="#b8323f" stroke-width="0.9"/>
<line x1="79.60" y1="448.50" x2="79.60" y2="454.70" stroke="#b8323f" stroke-width="0.9"/>
<line x1="32.20" y1="459.40" x2="80.80" y2="459.40" stroke="#df382c" stroke-width="2.1"/>
<line x1="38.40" y1="456.30" x2="38.40" y2="462.50" stroke="#b8323f" stroke-width="0.9"/>
<line x1="48.80" y1="456.30" x2="48.80" y2="462.50" stroke="#b8323f" stroke-width="0.9"/>
<line x1="59.20" y1="456.30" x2="59.20" y2="462.50" stroke="#b8323f" stroke-width="0.9"/>
<line x1="69.30" y1="456.30" x2="69.30" y2="462.50" stroke="#b8323f" stroke-width="0.9"/>
<line x1="79.60" y1="456.30" x2="79.60" y2="462.50" stroke="#b8323f" stroke-width="0.9"/>
<line x1="32.20" y1="467.20" x2="79.60" y2="467.20" stroke="#df382c" stroke-width="2.1"/>
<line x1="38.40" y1="464.10" x2="38.40" y2="470.30" stroke="#b8323f" stroke-width="0.9"/>
<line x1="48.80" y1="464.10" x2="48.80" y2="470.30" stroke="#b8323f" stroke-width="0.9"/>
<line x1="59.20" y1="464.10" x2="59.20" y2="470.30" stroke="#b8323f" stroke-width="0.9"/>
<line x1="69.30" y1="464.10" x2="69.30" y2="470.30" stroke="#b8323f" stroke-width="0.9"/>
<line x1="79.60" y1="464.10" x2="79.60" y2="470.30" stroke="#b8323f" stroke-width="0.9"/>
<line x1="39.90" y1="475.10" x2="79.60" y2="475.10" stroke="#df382c" stroke-width="2.1"/>
<line x1="48.80" y1="472.00" x2="48.80" y2="478.20" stroke="#b8323f" stroke-width="0.9"/>
<line x1="59.20" y1="472.00" x2="59.20" y2="478.20" stroke="#b8323f" stroke-width="0.9"/>
<line x1="69.30" y1="472.00" x2="69.30" y2="478.20" stroke="#b8323f" stroke-width="0.9"/>
<line x1="79.60" y1="472.00" x2="79.60" y2="478.20" stroke="#b8323f" stroke-width="0.9"/>
<line x1="37.30" y1="483.00" x2="74.20" y2="483.00" stroke="#df382c" stroke-width="2.1"/>
<line x1="38.40" y1="479.90" x2="38.40" y2="486.10" stroke="#b8323f" stroke-width="0.9"/>
<line x1="48.80" y1="479.90" x2="48.80" y2="486.10" stroke="#b8323f" stroke-width="0.9"/>
<line x1="59.20" y1="479.90" x2="59.20" y2="486.10" stroke="#b8323f" stroke-width="0.9"/>
<line x1="69.30" y1="479.90" x2="69.30" y2="486.10" stroke="#b8323f" stroke-width="0.9"/>
<line x1="34.20" y1="490.80" x2="69.60" y2="490.80" stroke="#df382c" stroke-width="2.1"/>
<line x1="38.40" y1="487.70" x2="38.40" y2="493.90" stroke="#b8323f" stroke-width="0.9"/>
<line x1="48.80" y1="487.70" x2="48.80" y2="493.90" stroke="#b8323f" stroke-width="0.9"/>
<line x1="59.20" y1="487.70" x2="59.20" y2="493.90" stroke="#b8323f" stroke-width="0.9"/>
<line x1="69.30" y1="487.70" x2="69.30" y2="493.90" stroke="#b8323f" stroke-width="0.9"/>
<line x1="40.40" y1="498.60" x2="73.50" y2="498.60" stroke="#df382c" stroke-width="2.1"/>
<line x1="48.80" y1="495.50" x2="48.80" y2="501.70" stroke="#b8323f" stroke-width="0.9"/>
<line x1="59.20" y1="495.50" x2="59.20" y2="501.70" stroke="#b8323f" stroke-width="0.9"/>
<line x1="69.30" y1="495.50" x2="69.30" y2="501.70" stroke="#b8323f" stroke-width="0.9"/>
<line x1="45.00" y1="506.10" x2="76.50" y2="506.10" stroke="#df382c" stroke-width="2.1"/>
<line x1="48.80" y1="503.00" x2="48.80" y2="509.20" stroke="#b8323f" stroke-width="0.9"/>
<line x1="59.20" y1="503.00" x2="59.20" y2="509.20" stroke="#b8323f" stroke-width="0.9"/>
<line x1="69.30" y1="503.00" x2="69.30" y2="509.20" stroke="#b8323f" stroke-width="0.9"/>
<text x="57.50" y="538.00" font-size="8.7" text-anchor="middle">A2 (<tspan font-style="italic">n</tspan> =13)</text>
<rect x="7.20" y="545.80" width="57.80" height="4.70" fill="#dc3434"/>
<rect x="65.90" y="545.80" width="33.90" height="4.70" fill="#dc3434"/>
<line x1="9.50" y1="546.00" x2="9.50" y2="550.30" stroke="#a01c1c" stroke-width="0.7"/>
<line x1="19.20" y1="546.00" x2="19.20" y2="550.30" stroke="#a01c1c" stroke-width="0.7"/>
<line x1="29.20" y1="546.00" x2="29.20" y2="550.30" stroke="#a01c1c" stroke-width="0.7"/>
<line x1="39.20" y1="546.00" x2="39.20" y2="550.30" stroke="#a01c1c" stroke-width="0.7"/>
<line x1="49.20" y1="546.00" x2="49.20" y2="550.30" stroke="#a01c1c" stroke-width="0.7"/>
<line x1="59.20" y1="546.00" x2="59.20" y2="550.30" stroke="#a01c1c" stroke-width="0.7"/>
<line x1="74.60" y1="546.00" x2="74.60" y2="550.30" stroke="#a01c1c" stroke-width="0.7"/>
<line x1="84.70" y1="546.00" x2="84.70" y2="550.30" stroke="#a01c1c" stroke-width="0.7"/>
<line x1="94.50" y1="546.00" x2="94.50" y2="550.30" stroke="#a01c1c" stroke-width="0.7"/>
<text x="65.50" y="557.60" font-size="8.5" text-anchor="middle">20</text>
<line x1="29.20" y1="559.20" x2="29.20" y2="574.10" stroke="#f2d2d7" stroke-width="0.6" stroke-dasharray="1.2 1.2"/>
<line x1="39.20" y1="559.20" x2="39.20" y2="583.90" stroke="#f2d2d7" stroke-width="0.6" stroke-dasharray="1.2 1.2"/>
<line x1="49.20" y1="559.20" x2="49.20" y2="592.90" stroke="#f2d2d7" stroke-width="0.6" stroke-dasharray="1.2 1.2"/>
<line x1="59.20" y1="559.20" x2="59.20" y2="646.00" stroke="#f2d2d7" stroke-width="0.6" stroke-dasharray="1.2 1.2"/>
<line x1="74.60" y1="559.20" x2="74.60" y2="646.00" stroke="#f2d2d7" stroke-width="0.6" stroke-dasharray="1.2 1.2"/>
<line x1="84.70" y1="559.20" x2="84.70" y2="646.00" stroke="#f2d2d7" stroke-width="0.6" stroke-dasharray="1.2 1.2"/>
<line x1="94.50" y1="559.20" x2="94.50" y2="646.00" stroke="#f2d2d7" stroke-width="0.6" stroke-dasharray="1.2 1.2"/>
<line x1="6.50" y1="562.20" x2="99.70" y2="562.20" stroke="#df382c" stroke-width="2.1"/>
<line x1="9.50" y1="559.10" x2="9.50" y2="565.30" stroke="#b8323f" stroke-width="0.9"/>
<line x1="19.20" y1="559.10" x2="19.20" y2="565.30" stroke="#b8323f" stroke-width="0.9"/>
<line x1="29.20" y1="559.10" x2="29.20" y2="565.30" stroke="#b8323f" stroke-width="0.9"/>
<line x1="39.20" y1="559.10" x2="39.20" y2="565.30" stroke="#b8323f" stroke-width="0.9"/>
<line x1="49.20" y1="559.10" x2="49.20" y2="565.30" stroke="#b8323f" stroke-width="0.9"/>
<line x1="59.20" y1="559.10" x2="59.20" y2="565.30" stroke="#b8323f" stroke-width="0.9"/>
<line x1="74.60" y1="559.10" x2="74.60" y2="565.30" stroke="#b8323f" stroke-width="0.9"/>
<line x1="84.70" y1="559.10" x2="84.70" y2="565.30" stroke="#b8323f" stroke-width="0.9"/>
<line x1="94.50" y1="559.10" x2="94.50" y2="565.30" stroke="#b8323f" stroke-width="0.9"/>
<circle cx="65.50" cy="562.20" r="2.2" fill="#e2506a"/>
<line x1="25.40" y1="571.10" x2="82.40" y2="571.10" stroke="#df382c" stroke-width="2.1"/>
<line x1="29.20" y1="568.00" x2="29.20" y2="574.20" stroke="#b8323f" stroke-width="0.9"/>
<line x1="39.20" y1="568.00" x2="39.20" y2="574.20" stroke="#b8323f" stroke-width="0.9"/>
<line x1="49.20" y1="568.00" x2="49.20" y2="574.20" stroke="#b8323f" stroke-width="0.9"/>
<line x1="59.20" y1="568.00" x2="59.20" y2="574.20" stroke="#b8323f" stroke-width="0.9"/>
<line x1="74.60" y1="568.00" x2="74.60" y2="574.20" stroke="#b8323f" stroke-width="0.9"/>
<circle cx="65.50" cy="571.10" r="2.2" fill="#e2506a"/>
<line x1="32.00" y1="580.90" x2="76.90" y2="580.90" stroke="#df382c" stroke-width="2.1"/>
<line x1="39.20" y1="577.80" x2="39.20" y2="584.00" stroke="#b8323f" stroke-width="0.9"/>
<line x1="49.20" y1="577.80" x2="49.20" y2="584.00" stroke="#b8323f" stroke-width="0.9"/>
<line x1="59.20" y1="577.80" x2="59.20" y2="584.00" stroke="#b8323f" stroke-width="0.9"/>
<line x1="74.60" y1="577.80" x2="74.60" y2="584.00" stroke="#b8323f" stroke-width="0.9"/>
<circle cx="65.50" cy="580.90" r="2.2" fill="#e2506a"/>
<line x1="41.40" y1="589.90" x2="77.20" y2="589.90" stroke="#df382c" stroke-width="2.1"/>
<line x1="49.20" y1="586.80" x2="49.20" y2="593.00" stroke="#b8323f" stroke-width="0.9"/>
<line x1="59.20" y1="586.80" x2="59.20" y2="593.00" stroke="#b8323f" stroke-width="0.9"/>
<line x1="74.60" y1="586.80" x2="74.60" y2="593.00" stroke="#b8323f" stroke-width="0.9"/>
<circle cx="65.50" cy="589.90" r="2.2" fill="#e2506a"/>
<line x1="50.70" y1="600.60" x2="100.90" y2="600.60" stroke="#df382c" stroke-width="2.1"/>
<line x1="59.20" y1="597.50" x2="59.20" y2="603.70" stroke="#b8323f" stroke-width="0.9"/>
<line x1="74.60" y1="597.50" x2="74.60" y2="603.70" stroke="#b8323f" stroke-width="0.9"/>
<line x1="84.70" y1="597.50" x2="84.70" y2="603.70" stroke="#b8323f" stroke-width="0.9"/>
<line x1="94.50" y1="597.50" x2="94.50" y2="603.70" stroke="#b8323f" stroke-width="0.9"/>
<circle cx="65.50" cy="600.60" r="2.2" fill="#e2506a"/>
<line x1="58.20" y1="610.20" x2="98.80" y2="610.20" stroke="#df382c" stroke-width="2.1"/>
<line x1="59.20" y1="607.10" x2="59.20" y2="613.30" stroke="#b8323f" stroke-width="0.9"/>
<line x1="74.60" y1="607.10" x2="74.60" y2="613.30" stroke="#b8323f" stroke-width="0.9"/>
<line x1="84.70" y1="607.10" x2="84.70" y2="613.30" stroke="#b8323f" stroke-width="0.9"/>
<line x1="94.50" y1="607.10" x2="94.50" y2="613.30" stroke="#b8323f" stroke-width="0.9"/>
<circle cx="65.50" cy="610.20" r="2.2" fill="#e2506a"/>
<line x1="56.40" y1="618.10" x2="92.80" y2="618.10" stroke="#df382c" stroke-width="2.1"/>
<line x1="59.20" y1="615.00" x2="59.20" y2="621.20" stroke="#b8323f" stroke-width="0.9"/>
<line x1="74.60" y1="615.00" x2="74.60" y2="621.20" stroke="#b8323f" stroke-width="0.9"/>
<line x1="84.70" y1="615.00" x2="84.70" y2="621.20" stroke="#b8323f" stroke-width="0.9"/>
<circle cx="65.50" cy="618.10" r="2.2" fill="#e2506a"/>
<line x1="62.20" y1="625.80" x2="98.00" y2="625.80" stroke="#df382c" stroke-width="2.1"/>
<line x1="74.60" y1="622.70" x2="74.60" y2="628.90" stroke="#b8323f" stroke-width="0.9"/>
<line x1="84.70" y1="622.70" x2="84.70" y2="628.90" stroke="#b8323f" stroke-width="0.9"/>
<line x1="94.50" y1="622.70" x2="94.50" y2="628.90" stroke="#b8323f" stroke-width="0.9"/>
<circle cx="65.50" cy="625.80" r="2.2" fill="#e2506a"/>
<line x1="56.80" y1="633.70" x2="91.90" y2="633.70" stroke="#df382c" stroke-width="2.1"/>
<line x1="59.20" y1="630.60" x2="59.20" y2="636.80" stroke="#b8323f" stroke-width="0.9"/>
<line x1="74.60" y1="630.60" x2="74.60" y2="636.80" stroke="#b8323f" stroke-width="0.9"/>
<line x1="84.70" y1="630.60" x2="84.70" y2="636.80" stroke="#b8323f" stroke-width="0.9"/>
<circle cx="65.50" cy="633.70" r="2.2" fill="#e2506a"/>
<line x1="55.60" y1="643.00" x2="124.80" y2="643.00" stroke="#df382c" stroke-width="2.1"/>
<line x1="59.20" y1="639.90" x2="59.20" y2="646.10" stroke="#b8323f" stroke-width="0.9"/>
<line x1="74.60" y1="639.90" x2="74.60" y2="646.10" stroke="#b8323f" stroke-width="0.9"/>
<line x1="84.70" y1="639.90" x2="84.70" y2="646.10" stroke="#b8323f" stroke-width="0.9"/>
<line x1="94.50" y1="639.90" x2="94.50" y2="646.10" stroke="#b8323f" stroke-width="0.9"/>
<line x1="104.50" y1="639.90" x2="104.50" y2="646.10" stroke="#b8323f" stroke-width="0.9"/>
<line x1="114.40" y1="639.90" x2="114.40" y2="646.10" stroke="#b8323f" stroke-width="0.9"/>
<line x1="124.40" y1="639.90" x2="124.40" y2="646.10" stroke="#b8323f" stroke-width="0.9"/>
<circle cx="65.50" cy="643.00" r="2.2" fill="#e2506a"/>
<text x="57.10" y="670.60" font-size="8.7" text-anchor="middle">A3 (<tspan font-style="italic">n</tspan> = 14)</text>
<text x="30.50" y="680.70" font-size="8.2" text-anchor="middle">XB</text>
<rect x="8.50" y="683.30" width="43.30" height="4.60" fill="#f3b46a"/>
<rect x="51.80" y="683.30" width="19.60" height="4.60" fill="#dc3434"/>
<rect x="72.30" y="683.30" width="7.00" height="4.60" fill="#dc3434"/>
<line x1="55.40" y1="683.50" x2="55.40" y2="687.70" stroke="#a01c1c" stroke-width="0.7"/>
<line x1="64.50" y1="683.50" x2="64.50" y2="687.70" stroke="#a01c1c" stroke-width="0.7"/>
<text x="51.60" y="694.80" font-size="8.5" text-anchor="middle">13</text>
<line x1="8.50" y1="698.70" x2="51.80" y2="698.70" stroke="#9d9590" stroke-width="1.5"/>
<line x1="51.80" y1="698.70" x2="79.30" y2="698.70" stroke="#df382c" stroke-width="2.1"/>
<line x1="55.40" y1="695.60" x2="55.40" y2="701.80" stroke="#b8323f" stroke-width="0.9"/>
<line x1="64.50" y1="695.60" x2="64.50" y2="701.80" stroke="#b8323f" stroke-width="0.9"/>
<circle cx="72.30" cy="698.70" r="2.2" fill="#e2506a"/>
<circle cx="51.80" cy="698.70" r="2.4" fill="#3d7fb0"/>
<line x1="36.40" y1="708.10" x2="51.80" y2="708.10" stroke="#9d9590" stroke-width="1.5"/>
<line x1="51.80" y1="708.10" x2="84.60" y2="708.10" stroke="#df382c" stroke-width="2.1"/>
<line x1="55.40" y1="705.00" x2="55.40" y2="711.20" stroke="#b8323f" stroke-width="0.9"/>
<line x1="64.50" y1="705.00" x2="64.50" y2="711.20" stroke="#b8323f" stroke-width="0.9"/>
<line x1="80.40" y1="705.00" x2="80.40" y2="711.20" stroke="#b8323f" stroke-width="0.9"/>
<circle cx="72.30" cy="708.10" r="2.2" fill="#e2506a"/>
<circle cx="51.80" cy="708.10" r="2.4" fill="#3d7fb0"/>
<line x1="51.80" y1="716.10" x2="91.00" y2="716.10" stroke="#df382c" stroke-width="2.1"/>
<line x1="55.40" y1="713.00" x2="55.40" y2="719.20" stroke="#b8323f" stroke-width="0.9"/>
<line x1="64.50" y1="713.00" x2="64.50" y2="719.20" stroke="#b8323f" stroke-width="0.9"/>
<line x1="80.40" y1="713.00" x2="80.40" y2="719.20" stroke="#b8323f" stroke-width="0.9"/>
<line x1="89.00" y1="713.00" x2="89.00" y2="719.20" stroke="#b8323f" stroke-width="0.9"/>
<circle cx="72.30" cy="716.10" r="2.2" fill="#e2506a"/>
<circle cx="51.80" cy="716.10" r="2.4" fill="#3d7fb0"/>
<line x1="51.80" y1="725.40" x2="93.00" y2="725.40" stroke="#df382c" stroke-width="2.1"/>
<line x1="55.40" y1="722.30" x2="55.40" y2="728.50" stroke="#b8323f" stroke-width="0.9"/>
<line x1="64.50" y1="722.30" x2="64.50" y2="728.50" stroke="#b8323f" stroke-width="0.9"/>
<line x1="79.50" y1="722.30" x2="79.50" y2="728.50" stroke="#b8323f" stroke-width="0.9"/>
<circle cx="72.30" cy="725.40" r="2.2" fill="#e2506a"/>
<circle cx="85.70" cy="725.40" r="2.2" fill="#e2506a"/>
<circle cx="51.80" cy="725.40" r="2.4" fill="#3d7fb0"/>
<line x1="44.80" y1="743.40" x2="51.80" y2="743.40" stroke="#9d9590" stroke-width="1.5"/>
<line x1="51.80" y1="743.40" x2="87.20" y2="743.40" stroke="#df382c" stroke-width="2.1"/>
<line x1="55.40" y1="740.30" x2="55.40" y2="746.50" stroke="#b8323f" stroke-width="0.9"/>
<line x1="64.50" y1="740.30" x2="64.50" y2="746.50" stroke="#b8323f" stroke-width="0.9"/>
<line x1="72.50" y1="740.30" x2="72.50" y2="746.50" stroke="#b8323f" stroke-width="0.9"/>
<circle cx="80.40" cy="743.40" r="2.2" fill="#e2506a"/>
<circle cx="51.80" cy="743.40" r="2.4" fill="#3d7fb0"/>
<line x1="40.00" y1="760.80" x2="51.80" y2="760.80" stroke="#9d9590" stroke-width="1.5"/>
<line x1="51.80" y1="760.80" x2="106.20" y2="760.80" stroke="#df382c" stroke-width="2.1"/>
<line x1="55.40" y1="757.70" x2="55.40" y2="763.90" stroke="#b8323f" stroke-width="0.9"/>
<line x1="65.00" y1="757.70" x2="65.00" y2="763.90" stroke="#b8323f" stroke-width="0.9"/>
<line x1="74.60" y1="757.70" x2="74.60" y2="763.90" stroke="#b8323f" stroke-width="0.9"/>
<line x1="84.20" y1="757.70" x2="84.20" y2="763.90" stroke="#b8323f" stroke-width="0.9"/>
<line x1="93.80" y1="757.70" x2="93.80" y2="763.90" stroke="#b8323f" stroke-width="0.9"/>
<line x1="103.40" y1="757.70" x2="103.40" y2="763.90" stroke="#b8323f" stroke-width="0.9"/>
<circle cx="51.80" cy="760.80" r="2.4" fill="#3d7fb0"/>
<line x1="23.20" y1="770.00" x2="51.80" y2="770.00" stroke="#9d9590" stroke-width="1.5"/>
<line x1="51.80" y1="770.00" x2="70.70" y2="770.00" stroke="#df382c" stroke-width="2.1"/>
<line x1="55.40" y1="766.90" x2="55.40" y2="773.10" stroke="#b8323f" stroke-width="0.9"/>
<line x1="65.00" y1="766.90" x2="65.00" y2="773.10" stroke="#b8323f" stroke-width="0.9"/>
<circle cx="51.80" cy="770.00" r="2.4" fill="#3d7fb0"/>
<line x1="27.50" y1="778.00" x2="51.80" y2="778.00" stroke="#9d9590" stroke-width="1.5"/>
<line x1="51.80" y1="778.00" x2="65.70" y2="778.00" stroke="#df382c" stroke-width="2.1"/>
<line x1="55.40" y1="774.90" x2="55.40" y2="781.10" stroke="#b8323f" stroke-width="0.9"/>
<line x1="65.00" y1="774.90" x2="65.00" y2="781.10" stroke="#b8323f" stroke-width="0.9"/>
<circle cx="51.80" cy="778.00" r="2.4" fill="#3d7fb0"/>
<line x1="29.20" y1="786.20" x2="51.80" y2="786.20" stroke="#9d9590" stroke-width="1.5"/>
<line x1="51.80" y1="786.20" x2="63.70" y2="786.20" stroke="#df382c" stroke-width="2.1"/>
<line x1="55.40" y1="783.10" x2="55.40" y2="789.30" stroke="#b8323f" stroke-width="0.9"/>
<circle cx="51.80" cy="786.20" r="2.4" fill="#3d7fb0"/>
<line x1="14.30" y1="795.10" x2="51.80" y2="795.10" stroke="#9d9590" stroke-width="1.5"/>
<line x1="51.80" y1="795.10" x2="68.10" y2="795.10" stroke="#df382c" stroke-width="2.1"/>
<line x1="55.40" y1="792.00" x2="55.40" y2="798.20" stroke="#b8323f" stroke-width="0.9"/>
<line x1="65.00" y1="792.00" x2="65.00" y2="798.20" stroke="#b8323f" stroke-width="0.9"/>
<circle cx="51.80" cy="795.10" r="2.4" fill="#3d7fb0"/>
<line x1="15.70" y1="804.20" x2="51.80" y2="804.20" stroke="#9d9590" stroke-width="1.5"/>
<line x1="51.80" y1="804.20" x2="55.40" y2="804.20" stroke="#df382c" stroke-width="2.1"/>
<circle cx="51.80" cy="804.20" r="2.4" fill="#3d7fb0"/>
<line x1="11.10" y1="818.80" x2="86.50" y2="818.80" stroke="#231f20" stroke-width="1.1"/>
<line x1="11.10" y1="815.20" x2="11.10" y2="818.80" stroke="#231f20" stroke-width="1.0"/>
<line x1="36.20" y1="815.20" x2="36.20" y2="818.80" stroke="#231f20" stroke-width="1.0"/>
<line x1="61.30" y1="815.20" x2="61.30" y2="818.80" stroke="#231f20" stroke-width="1.0"/>
<line x1="86.50" y1="815.20" x2="86.50" y2="818.80" stroke="#231f20" stroke-width="1.0"/>
<text x="11.10" y="830.40" font-size="8.5" text-anchor="middle">0</text>
<text x="36.20" y="830.40" font-size="8.5" text-anchor="middle">20</text>
<text x="61.30" y="830.40" font-size="8.5" text-anchor="middle">40</text>
<text x="86.50" y="830.40" font-size="8.5" text-anchor="middle">60</text>
<text x="93.40" y="830.40" font-size="8.5">(kb)</text>
<rect x="14.2" y="850.7" width="10.2" height="6.8" fill="#dc3434" stroke="#9a2a2a" stroke-width="0.6"/>
<text x="27.40" y="857.40" font-size="8.7">HPV genome (1 unit)</text>
<rect x="15.90" y="861.60" width="6.80" height="8.40" fill="#dc3434"/>
<line x1="19.30" y1="863.20" x2="19.30" y2="868.60" stroke="#fff" stroke-width="1.3"/>
<text x="27.40" y="869.40" font-size="8.7">Virus–virus breakpoint</text>
<text x="190.40" y="397.50" font-size="8.7" text-anchor="middle">A4 (<tspan font-style="italic">n</tspan> = 3)</text>
<text x="192.90" y="408.70" font-size="8.2" text-anchor="middle">XD</text>
<text x="206.40" y="408.70" font-size="8.2" text-anchor="middle">XE</text>
<rect x="142.30" y="411.20" width="47.50" height="4.60" fill="#dc3434"/>
<rect x="189.80" y="411.20" width="6.40" height="4.60" fill="#cdb5d8"/>
<rect x="196.20" y="411.20" width="19.60" height="4.60" fill="#7c4c9c"/>
<line x1="150.40" y1="411.40" x2="150.40" y2="415.60" stroke="#a01c1c" stroke-width="0.7"/>
<line x1="160.40" y1="411.40" x2="160.40" y2="415.60" stroke="#a01c1c" stroke-width="0.7"/>
<line x1="170.60" y1="411.40" x2="170.60" y2="415.60" stroke="#a01c1c" stroke-width="0.7"/>
<line x1="180.80" y1="411.40" x2="180.80" y2="415.60" stroke="#a01c1c" stroke-width="0.7"/>
<text x="189.50" y="422.20" font-size="8.5" text-anchor="middle">14</text>
<line x1="142.70" y1="426.90" x2="189.80" y2="426.90" stroke="#df382c" stroke-width="2.1"/>
<line x1="189.80" y1="426.90" x2="215.40" y2="426.90" stroke="#9d9590" stroke-width="1.5"/>
<line x1="150.40" y1="423.80" x2="150.40" y2="430.00" stroke="#b8323f" stroke-width="0.9"/>
<line x1="160.40" y1="423.80" x2="160.40" y2="430.00" stroke="#b8323f" stroke-width="0.9"/>
<line x1="170.60" y1="423.80" x2="170.60" y2="430.00" stroke="#b8323f" stroke-width="0.9"/>
<line x1="180.80" y1="423.80" x2="180.80" y2="430.00" stroke="#b8323f" stroke-width="0.9"/>
<circle cx="189.80" cy="426.90" r="2.3" fill="#2a2d68"/>
<line x1="154.20" y1="434.60" x2="189.80" y2="434.60" stroke="#df382c" stroke-width="2.1"/>
<line x1="189.80" y1="434.60" x2="216.70" y2="434.60" stroke="#9d9590" stroke-width="1.5"/>
<line x1="160.40" y1="431.50" x2="160.40" y2="437.70" stroke="#b8323f" stroke-width="0.9"/>
<line x1="170.60" y1="431.50" x2="170.60" y2="437.70" stroke="#b8323f" stroke-width="0.9"/>
<line x1="180.80" y1="431.50" x2="180.80" y2="437.70" stroke="#b8323f" stroke-width="0.9"/>
<circle cx="189.80" cy="434.60" r="2.3" fill="#2a2d68"/>
<line x1="140.80" y1="449.40" x2="189.80" y2="449.40" stroke="#df382c" stroke-width="2.1"/>
<line x1="189.80" y1="449.40" x2="230.80" y2="449.40" stroke="#9d9590" stroke-width="1.5"/>
<line x1="146.20" y1="446.30" x2="146.20" y2="452.50" stroke="#b8323f" stroke-width="0.9"/>
<line x1="160.40" y1="446.30" x2="160.40" y2="452.50" stroke="#b8323f" stroke-width="0.9"/>
<line x1="170.60" y1="446.30" x2="170.60" y2="452.50" stroke="#b8323f" stroke-width="0.9"/>
<line x1="180.80" y1="446.30" x2="180.80" y2="452.50" stroke="#b8323f" stroke-width="0.9"/>
<circle cx="152.30" cy="449.40" r="2.2" fill="#e2506a"/>
<circle cx="189.80" cy="449.40" r="2.3" fill="#2a2d68"/>
<text x="190.00" y="482.00" font-size="8.7" text-anchor="middle">A5 (<tspan font-style="italic">n</tspan> = 12)</text>
<text x="179.40" y="492.40" font-size="8.2" text-anchor="middle">XD</text>
<text x="201.90" y="492.40" font-size="8.2" text-anchor="middle">XB</text>
<rect x="162.20" y="494.80" width="14.00" height="4.40" fill="#dc3434"/>
<rect x="176.20" y="494.80" width="5.30" height="4.40" fill="#cdb5d8"/>
<rect x="181.50" y="494.80" width="41.50" height="4.40" fill="#f3b46a"/>
<rect x="223.00" y="494.80" width="19.00" height="4.40" fill="#dc3434"/>
<rect x="243.00" y="494.80" width="22.20" height="4.40" fill="#dc3434"/>
<line x1="168.00" y1="495.00" x2="168.00" y2="499.00" stroke="#a01c1c" stroke-width="0.7"/>
<line x1="232.50" y1="495.00" x2="232.50" y2="499.00" stroke="#a01c1c" stroke-width="0.7"/>
<line x1="252.50" y1="495.00" x2="252.50" y2="499.00" stroke="#a01c1c" stroke-width="0.7"/>
<text x="183.00" y="507.20" font-size="8.5" text-anchor="middle">12</text>
<line x1="161.30" y1="510.60" x2="176.70" y2="510.60" stroke="#df382c" stroke-width="2.1"/>
<line x1="181.20" y1="510.60" x2="222.50" y2="510.60" stroke="#9d9590" stroke-width="1.5"/>
<line x1="222.50" y1="510.60" x2="263.00" y2="510.60" stroke="#df382c" stroke-width="2.1"/>
<line x1="168.00" y1="507.50" x2="168.00" y2="513.70" stroke="#b8323f" stroke-width="0.9"/>
<line x1="226.00" y1="507.50" x2="226.00" y2="513.70" stroke="#b8323f" stroke-width="0.9"/>
<line x1="236.00" y1="507.50" x2="236.00" y2="513.70" stroke="#b8323f" stroke-width="0.9"/>
<line x1="246.00" y1="507.50" x2="246.00" y2="513.70" stroke="#b8323f" stroke-width="0.9"/>
<line x1="256.00" y1="507.50" x2="256.00" y2="513.70" stroke="#b8323f" stroke-width="0.9"/>
<line x1="263.00" y1="507.50" x2="263.00" y2="513.70" stroke="#b8323f" stroke-width="0.9"/>
<circle cx="242.00" cy="510.60" r="2.2" fill="#e2506a"/>
<circle cx="222.50" cy="510.60" r="2.3" fill="#4a8ab0"/>
<circle cx="176.70" cy="510.60" r="2.3" fill="#2a2d68"/>
<circle cx="181.20" cy="510.60" r="2.3" fill="#8d5aa6"/>
<line x1="169.00" y1="518.70" x2="176.70" y2="518.70" stroke="#df382c" stroke-width="2.1"/>
<line x1="181.20" y1="518.70" x2="222.50" y2="518.70" stroke="#9d9590" stroke-width="1.5"/>
<line x1="222.50" y1="518.70" x2="227.70" y2="518.70" stroke="#df382c" stroke-width="2.1"/>
<line x1="226.00" y1="515.60" x2="226.00" y2="521.80" stroke="#b8323f" stroke-width="0.9"/>
<line x1="227.70" y1="515.60" x2="227.70" y2="521.80" stroke="#b8323f" stroke-width="0.9"/>
<circle cx="222.50" cy="518.70" r="2.3" fill="#4a8ab0"/>
<circle cx="176.70" cy="518.70" r="2.3" fill="#2a2d68"/>
<circle cx="181.20" cy="518.70" r="2.3" fill="#8d5aa6"/>
<line x1="131.20" y1="527.40" x2="176.70" y2="527.40" stroke="#df382c" stroke-width="2.1"/>
<line x1="181.20" y1="527.40" x2="206.50" y2="527.40" stroke="#9d9590" stroke-width="1.5"/>
<line x1="139.20" y1="524.30" x2="139.20" y2="530.50" stroke="#b8323f" stroke-width="0.9"/>
<line x1="148.80" y1="524.30" x2="148.80" y2="530.50" stroke="#b8323f" stroke-width="0.9"/>
<line x1="158.50" y1="524.30" x2="158.50" y2="530.50" stroke="#b8323f" stroke-width="0.9"/>
<line x1="168.00" y1="524.30" x2="168.00" y2="530.50" stroke="#b8323f" stroke-width="0.9"/>
<circle cx="176.70" cy="527.40" r="2.3" fill="#2a2d68"/>
<circle cx="181.20" cy="527.40" r="2.3" fill="#8d5aa6"/>
<line x1="139.20" y1="536.20" x2="176.70" y2="536.20" stroke="#df382c" stroke-width="2.1"/>
<line x1="181.20" y1="536.20" x2="186.30" y2="536.20" stroke="#9d9590" stroke-width="1.5"/>
<line x1="148.80" y1="533.10" x2="148.80" y2="539.30" stroke="#b8323f" stroke-width="0.9"/>
<line x1="158.50" y1="533.10" x2="158.50" y2="539.30" stroke="#b8323f" stroke-width="0.9"/>
<line x1="168.00" y1="533.10" x2="168.00" y2="539.30" stroke="#b8323f" stroke-width="0.9"/>
<circle cx="176.70" cy="536.20" r="2.3" fill="#2a2d68"/>
<circle cx="181.20" cy="536.20" r="2.3" fill="#8d5aa6"/>
<line x1="147.00" y1="544.20" x2="176.70" y2="544.20" stroke="#df382c" stroke-width="2.1"/>
<line x1="181.20" y1="544.20" x2="188.30" y2="544.20" stroke="#9d9590" stroke-width="1.5"/>
<line x1="148.80" y1="541.10" x2="148.80" y2="547.30" stroke="#b8323f" stroke-width="0.9"/>
<line x1="158.50" y1="541.10" x2="158.50" y2="547.30" stroke="#b8323f" stroke-width="0.9"/>
<line x1="168.00" y1="541.10" x2="168.00" y2="547.30" stroke="#b8323f" stroke-width="0.9"/>
<circle cx="176.70" cy="544.20" r="2.3" fill="#2a2d68"/>
<circle cx="181.20" cy="544.20" r="2.3" fill="#8d5aa6"/>
<line x1="133.00" y1="561.50" x2="141.00" y2="561.50" stroke="#9d9590" stroke-width="1.5"/>
<line x1="141.00" y1="561.50" x2="176.70" y2="561.50" stroke="#df382c" stroke-width="2.1"/>
<line x1="181.20" y1="561.50" x2="200.60" y2="561.50" stroke="#9d9590" stroke-width="1.5"/>
<line x1="149.60" y1="558.40" x2="149.60" y2="564.60" stroke="#b8323f" stroke-width="0.9"/>
<line x1="159.40" y1="558.40" x2="159.40" y2="564.60" stroke="#b8323f" stroke-width="0.9"/>
<line x1="168.00" y1="558.40" x2="168.00" y2="564.60" stroke="#b8323f" stroke-width="0.9"/>
<circle cx="159.40" cy="561.50" r="2.2" fill="#e2506a"/>
<circle cx="141.00" cy="561.50" r="2.3" fill="#4a8ab0"/>
<circle cx="176.70" cy="561.50" r="2.3" fill="#2a2d68"/>
<circle cx="181.20" cy="561.50" r="2.3" fill="#8d5aa6"/>
<line x1="146.00" y1="570.20" x2="176.70" y2="570.20" stroke="#df382c" stroke-width="2.1"/>
<line x1="181.20" y1="570.20" x2="204.60" y2="570.20" stroke="#9d9590" stroke-width="1.5"/>
<line x1="149.60" y1="567.10" x2="149.60" y2="573.30" stroke="#b8323f" stroke-width="0.9"/>
<line x1="168.00" y1="567.10" x2="168.00" y2="573.30" stroke="#b8323f" stroke-width="0.9"/>
<circle cx="159.40" cy="570.20" r="2.2" fill="#e2506a"/>
<circle cx="176.70" cy="570.20" r="2.3" fill="#2a2d68"/>
<circle cx="181.20" cy="570.20" r="2.3" fill="#8d5aa6"/>
<line x1="156.30" y1="578.50" x2="176.70" y2="578.50" stroke="#df382c" stroke-width="2.1"/>
<line x1="181.20" y1="578.50" x2="202.50" y2="578.50" stroke="#9d9590" stroke-width="1.5"/>
<line x1="168.00" y1="575.40" x2="168.00" y2="581.60" stroke="#b8323f" stroke-width="0.9"/>
<circle cx="159.20" cy="578.50" r="2.2" fill="#e2506a"/>
<circle cx="176.70" cy="578.50" r="2.3" fill="#2a2d68"/>
<circle cx="181.20" cy="578.50" r="2.3" fill="#8d5aa6"/>
<line x1="122.50" y1="594.80" x2="176.70" y2="594.80" stroke="#df382c" stroke-width="2.1"/>
<line x1="129.50" y1="591.70" x2="129.50" y2="597.90" stroke="#b8323f" stroke-width="0.9"/>
<line x1="149.60" y1="591.70" x2="149.60" y2="597.90" stroke="#b8323f" stroke-width="0.9"/>
<line x1="159.40" y1="591.70" x2="159.40" y2="597.90" stroke="#b8323f" stroke-width="0.9"/>
<line x1="168.00" y1="591.70" x2="168.00" y2="597.90" stroke="#b8323f" stroke-width="0.9"/>
<circle cx="139.00" cy="594.80" r="2.2" fill="#e2506a"/>
<circle cx="176.70" cy="594.80" r="2.3" fill="#2a2d68"/>
<circle cx="181.20" cy="594.80" r="2.3" fill="#8d5aa6"/>
<text x="193.00" y="627.00" font-size="8.7" text-anchor="middle">A6 (<tspan font-style="italic">n</tspan> = 39)</text>
<text x="162.10" y="636.90" font-size="8.2" text-anchor="middle">XD</text>
<text x="192.40" y="636.90" font-size="8.2" text-anchor="middle">XD</text>
<text x="212.60" y="636.90" font-size="8.2" text-anchor="middle">XD</text>
<text x="230.90" y="636.90" font-size="8.2" text-anchor="middle">XD</text>
<rect x="150.00" y="639.40" width="9.20" height="4.80" fill="#dc3434"/>
<rect x="159.20" y="639.40" width="5.80" height="4.80" fill="#cdb5d8"/>
<rect x="165.00" y="639.40" width="24.00" height="4.80" fill="#dc3434"/>
<rect x="189.00" y="639.40" width="5.80" height="4.80" fill="#cdb5d8"/>
<rect x="194.80" y="639.40" width="14.00" height="4.80" fill="#dc3434"/>
<rect x="208.80" y="639.40" width="6.20" height="4.80" fill="#cdb5d8"/>
<rect x="215.00" y="639.40" width="14.40" height="4.80" fill="#dc3434"/>
<rect x="229.40" y="639.40" width="2.90" height="4.80" fill="#cdb5d8"/>
<line x1="168.80" y1="639.60" x2="168.80" y2="644.00" stroke="#a01c1c" stroke-width="0.7"/>
<line x1="179.40" y1="639.60" x2="179.40" y2="644.00" stroke="#a01c1c" stroke-width="0.7"/>
<line x1="200.00" y1="639.60" x2="200.00" y2="644.00" stroke="#a01c1c" stroke-width="0.7"/>
<line x1="220.40" y1="639.60" x2="220.40" y2="644.00" stroke="#a01c1c" stroke-width="0.7"/>
<text x="185.20" y="651.50" font-size="8.5" text-anchor="middle">14</text>
<text x="199.20" y="651.50" font-size="8.5" text-anchor="middle">19</text>
<line x1="150.00" y1="655.40" x2="158.30" y2="655.40" stroke="#df382c" stroke-width="2.1"/>
<line x1="158.30" y1="655.40" x2="166.90" y2="655.40" stroke="#b9b6b4" stroke-width="1.2"/>
<line x1="166.90" y1="655.40" x2="188.50" y2="655.40" stroke="#df382c" stroke-width="2.1"/>
<line x1="188.50" y1="655.40" x2="197.70" y2="655.40" stroke="#b9b6b4" stroke-width="1.2"/>
<line x1="197.70" y1="655.40" x2="208.80" y2="655.40" stroke="#df382c" stroke-width="2.1"/>
<line x1="208.80" y1="655.40" x2="218.80" y2="655.40" stroke="#b9b6b4" stroke-width="1.2"/>
<line x1="218.80" y1="655.40" x2="228.80" y2="655.40" stroke="#df382c" stroke-width="2.1"/>
<circle cx="162.60" cy="655.40" r="1.8" fill="#dcecf1"/>
<circle cx="193.10" cy="655.40" r="1.8" fill="#dcecf1"/>
<circle cx="213.80" cy="655.40" r="1.8" fill="#dcecf1"/>
<line x1="168.80" y1="652.30" x2="168.80" y2="658.50" stroke="#b8323f" stroke-width="0.9"/>
<line x1="179.40" y1="652.30" x2="179.40" y2="658.50" stroke="#b8323f" stroke-width="0.9"/>
<line x1="200.00" y1="652.30" x2="200.00" y2="658.50" stroke="#b8323f" stroke-width="0.9"/>
<line x1="220.40" y1="652.30" x2="220.40" y2="658.50" stroke="#b8323f" stroke-width="0.9"/>
<circle cx="158.30" cy="655.40" r="2.3" fill="#2a2d68"/>
<circle cx="188.50" cy="655.40" r="2.3" fill="#2a2d68"/>
<circle cx="208.80" cy="655.40" r="2.3" fill="#2a2d68"/>
<circle cx="228.80" cy="655.40" r="2.3" fill="#2a2d68"/>
<line x1="147.70" y1="663.50" x2="158.30" y2="663.50" stroke="#df382c" stroke-width="2.1"/>
<line x1="158.30" y1="663.50" x2="166.90" y2="663.50" stroke="#b9b6b4" stroke-width="1.2"/>
<line x1="166.90" y1="663.50" x2="188.50" y2="663.50" stroke="#df382c" stroke-width="2.1"/>
<line x1="188.50" y1="663.50" x2="198.70" y2="663.50" stroke="#b9b6b4" stroke-width="1.2"/>
<circle cx="162.60" cy="663.50" r="1.8" fill="#dcecf1"/>
<circle cx="193.60" cy="663.50" r="1.8" fill="#dcecf1"/>
<line x1="149.00" y1="660.40" x2="149.00" y2="666.60" stroke="#b8323f" stroke-width="0.9"/>
<line x1="168.80" y1="660.40" x2="168.80" y2="666.60" stroke="#b8323f" stroke-width="0.9"/>
<line x1="179.40" y1="660.40" x2="179.40" y2="666.60" stroke="#b8323f" stroke-width="0.9"/>
<circle cx="158.30" cy="663.50" r="2.3" fill="#2a2d68"/>
<circle cx="188.50" cy="663.50" r="2.3" fill="#2a2d68"/>
<circle cx="199.50" cy="663.50" r="0.9" fill="#553333"/>
<line x1="153.50" y1="671.20" x2="158.30" y2="671.20" stroke="#df382c" stroke-width="2.1"/>
<line x1="158.30" y1="671.20" x2="166.90" y2="671.20" stroke="#b9b6b4" stroke-width="1.2"/>
<line x1="166.90" y1="671.20" x2="189.00" y2="671.20" stroke="#df382c" stroke-width="2.1"/>
<circle cx="162.60" cy="671.20" r="1.8" fill="#dcecf1"/>
<line x1="168.80" y1="668.10" x2="168.80" y2="674.30" stroke="#b8323f" stroke-width="0.9"/>
<line x1="179.40" y1="668.10" x2="179.40" y2="674.30" stroke="#b8323f" stroke-width="0.9"/>
<circle cx="158.30" cy="671.20" r="2.3" fill="#2a2d68"/>
<circle cx="189.00" cy="671.20" r="2.3" fill="#2a2d68"/>
<line x1="144.20" y1="690.60" x2="148.10" y2="690.60" stroke="#df382c" stroke-width="2.1"/>
<line x1="148.10" y1="690.60" x2="157.30" y2="690.60" stroke="#b9b6b4" stroke-width="1.2"/>
<line x1="157.30" y1="690.60" x2="168.50" y2="690.60" stroke="#df382c" stroke-width="2.1"/>
<line x1="168.50" y1="690.60" x2="177.50" y2="690.60" stroke="#b9b6b4" stroke-width="1.2"/>
<line x1="177.50" y1="690.60" x2="188.50" y2="690.60" stroke="#df382c" stroke-width="2.1"/>
<line x1="188.50" y1="690.60" x2="198.00" y2="690.60" stroke="#b9b6b4" stroke-width="1.2"/>
<line x1="198.00" y1="690.60" x2="208.80" y2="690.60" stroke="#df382c" stroke-width="2.1"/>
<line x1="208.80" y1="690.60" x2="217.90" y2="690.60" stroke="#b9b6b4" stroke-width="1.2"/>
<circle cx="152.70" cy="690.60" r="1.8" fill="#dcecf1"/>
<circle cx="173.00" cy="690.60" r="1.8" fill="#dcecf1"/>
<circle cx="193.25" cy="690.60" r="1.8" fill="#dcecf1"/>
<circle cx="213.35" cy="690.60" r="1.8" fill="#dcecf1"/>
<line x1="159.20" y1="687.50" x2="159.20" y2="693.70" stroke="#b8323f" stroke-width="0.9"/>
<line x1="179.40" y1="687.50" x2="179.40" y2="693.70" stroke="#b8323f" stroke-width="0.9"/>
<line x1="199.60" y1="687.50" x2="199.60" y2="693.70" stroke="#b8323f" stroke-width="0.9"/>
<circle cx="148.10" cy="690.60" r="2.3" fill="#2a2d68"/>
<circle cx="168.50" cy="690.60" r="2.3" fill="#2a2d68"/>
<circle cx="188.50" cy="690.60" r="2.3" fill="#2a2d68"/>
<circle cx="208.80" cy="690.60" r="2.3" fill="#2a2d68"/>
<line x1="157.30" y1="698.30" x2="168.50" y2="698.30" stroke="#df382c" stroke-width="2.1"/>
<line x1="168.50" y1="698.30" x2="177.50" y2="698.30" stroke="#b9b6b4" stroke-width="1.2"/>
<line x1="177.50" y1="698.30" x2="188.50" y2="698.30" stroke="#df382c" stroke-width="2.1"/>
<line x1="188.50" y1="698.30" x2="198.00" y2="698.30" stroke="#b9b6b4" stroke-width="1.2"/>
<line x1="198.00" y1="698.30" x2="208.80" y2="698.30" stroke="#df382c" stroke-width="2.1"/>
<line x1="208.80" y1="698.30" x2="217.00" y2="698.30" stroke="#b9b6b4" stroke-width="1.2"/>
<line x1="217.80" y1="698.30" x2="223.00" y2="698.30" stroke="#df382c" stroke-width="2.1"/>
<circle cx="173.00" cy="698.30" r="1.8" fill="#dcecf1"/>
<circle cx="193.25" cy="698.30" r="1.8" fill="#dcecf1"/>
<circle cx="212.90" cy="698.30" r="1.8" fill="#dcecf1"/>
<line x1="159.20" y1="695.20" x2="159.20" y2="701.40" stroke="#b8323f" stroke-width="0.9"/>
<line x1="179.40" y1="695.20" x2="179.40" y2="701.40" stroke="#b8323f" stroke-width="0.9"/>
<line x1="199.60" y1="695.20" x2="199.60" y2="701.40" stroke="#b8323f" stroke-width="0.9"/>
<line x1="220.40" y1="695.20" x2="220.40" y2="701.40" stroke="#b8323f" stroke-width="0.9"/>
<circle cx="168.50" cy="698.30" r="2.3" fill="#2a2d68"/>
<circle cx="188.50" cy="698.30" r="2.3" fill="#2a2d68"/>
<circle cx="208.80" cy="698.30" r="2.3" fill="#2a2d68"/>
<line x1="165.00" y1="707.90" x2="177.50" y2="707.90" stroke="#b9b6b4" stroke-width="1.2"/>
<line x1="177.50" y1="707.90" x2="188.50" y2="707.90" stroke="#df382c" stroke-width="2.1"/>
<line x1="188.50" y1="707.90" x2="198.00" y2="707.90" stroke="#b9b6b4" stroke-width="1.2"/>
<line x1="198.00" y1="707.90" x2="208.80" y2="707.90" stroke="#df382c" stroke-width="2.1"/>
<line x1="208.80" y1="707.90" x2="217.00" y2="707.90" stroke="#b9b6b4" stroke-width="1.2"/>
<circle cx="171.25" cy="707.90" r="1.8" fill="#dcecf1"/>
<circle cx="193.25" cy="707.90" r="1.8" fill="#dcecf1"/>
<circle cx="212.90" cy="707.90" r="1.8" fill="#dcecf1"/>
<line x1="179.40" y1="704.80" x2="179.40" y2="711.00" stroke="#b8323f" stroke-width="0.9"/>
<line x1="199.60" y1="704.80" x2="199.60" y2="711.00" stroke="#b8323f" stroke-width="0.9"/>
<circle cx="168.50" cy="707.90" r="2.3" fill="#2a2d68"/>
<circle cx="188.50" cy="707.90" r="2.3" fill="#2a2d68"/>
<circle cx="208.80" cy="707.90" r="2.3" fill="#2a2d68"/>
<line x1="169.80" y1="716.50" x2="176.00" y2="716.50" stroke="#b9b6b4" stroke-width="1.2"/>
<line x1="176.00" y1="716.50" x2="188.50" y2="716.50" stroke="#df382c" stroke-width="2.1"/>
<line x1="188.50" y1="716.50" x2="198.00" y2="716.50" stroke="#b9b6b4" stroke-width="1.2"/>
<line x1="198.00" y1="716.50" x2="208.80" y2="716.50" stroke="#df382c" stroke-width="2.1"/>
<circle cx="172.90" cy="716.50" r="1.8" fill="#dcecf1"/>
<circle cx="193.25" cy="716.50" r="1.8" fill="#dcecf1"/>
<line x1="179.40" y1="713.40" x2="179.40" y2="719.60" stroke="#b8323f" stroke-width="0.9"/>
<line x1="199.60" y1="713.40" x2="199.60" y2="719.60" stroke="#b8323f" stroke-width="0.9"/>
<circle cx="188.50" cy="716.50" r="2.3" fill="#2a2d68"/>
<circle cx="208.80" cy="716.50" r="2.3" fill="#2a2d68"/>
<line x1="177.50" y1="724.20" x2="188.50" y2="724.20" stroke="#df382c" stroke-width="2.1"/>
<line x1="188.50" y1="724.20" x2="198.00" y2="724.20" stroke="#b9b6b4" stroke-width="1.2"/>
<line x1="198.00" y1="724.20" x2="208.80" y2="724.20" stroke="#df382c" stroke-width="2.1"/>
<line x1="208.80" y1="724.20" x2="217.00" y2="724.20" stroke="#b9b6b4" stroke-width="1.2"/>
<circle cx="193.25" cy="724.20" r="1.8" fill="#dcecf1"/>
<circle cx="212.90" cy="724.20" r="1.8" fill="#dcecf1"/>
<line x1="179.40" y1="721.10" x2="179.40" y2="727.30" stroke="#b8323f" stroke-width="0.9"/>
<line x1="199.60" y1="721.10" x2="199.60" y2="727.30" stroke="#b8323f" stroke-width="0.9"/>
<circle cx="188.50" cy="724.20" r="2.3" fill="#2a2d68"/>
<circle cx="208.80" cy="724.20" r="2.3" fill="#2a2d68"/>
<line x1="169.80" y1="732.90" x2="176.00" y2="732.90" stroke="#b9b6b4" stroke-width="1.2"/>
<line x1="176.00" y1="732.90" x2="188.50" y2="732.90" stroke="#df382c" stroke-width="2.1"/>
<line x1="188.50" y1="732.90" x2="198.00" y2="732.90" stroke="#b9b6b4" stroke-width="1.2"/>
<line x1="198.00" y1="732.90" x2="208.80" y2="732.90" stroke="#df382c" stroke-width="2.1"/>
<circle cx="172.90" cy="732.90" r="1.8" fill="#dcecf1"/>
<circle cx="193.25" cy="732.90" r="1.8" fill="#dcecf1"/>
<line x1="179.40" y1="729.80" x2="179.40" y2="736.00" stroke="#b8323f" stroke-width="0.9"/>
<line x1="199.60" y1="729.80" x2="199.60" y2="736.00" stroke="#b8323f" stroke-width="0.9"/>
<circle cx="188.50" cy="732.90" r="2.3" fill="#2a2d68"/>
<circle cx="208.80" cy="732.90" r="2.3" fill="#2a2d68"/>
<line x1="163.70" y1="741.30" x2="168.30" y2="741.30" stroke="#df382c" stroke-width="2.1"/>
<line x1="168.30" y1="741.30" x2="177.50" y2="741.30" stroke="#b9b6b4" stroke-width="1.2"/>
<line x1="177.50" y1="741.30" x2="188.70" y2="741.30" stroke="#df382c" stroke-width="2.1"/>
<line x1="188.70" y1="741.30" x2="198.00" y2="741.30" stroke="#b9b6b4" stroke-width="1.2"/>
<line x1="197.40" y1="741.30" x2="202.60" y2="741.30" stroke="#df382c" stroke-width="2.1"/>
<circle cx="172.90" cy="741.30" r="1.8" fill="#dcecf1"/>
<circle cx="193.35" cy="741.30" r="1.8" fill="#dcecf1"/>
<line x1="179.40" y1="738.20" x2="179.40" y2="744.40" stroke="#b8323f" stroke-width="0.9"/>
<line x1="200.00" y1="738.20" x2="200.00" y2="744.40" stroke="#b8323f" stroke-width="0.9"/>
<circle cx="168.30" cy="741.30" r="2.3" fill="#2a2d68"/>
<circle cx="188.70" cy="741.30" r="2.3" fill="#2a2d68"/>
<line x1="168.30" y1="750.80" x2="177.50" y2="750.80" stroke="#b9b6b4" stroke-width="1.2"/>
<line x1="177.50" y1="750.80" x2="188.70" y2="750.80" stroke="#df382c" stroke-width="2.1"/>
<line x1="188.70" y1="750.80" x2="198.00" y2="750.80" stroke="#b9b6b4" stroke-width="1.2"/>
<line x1="197.40" y1="750.80" x2="202.60" y2="750.80" stroke="#df382c" stroke-width="2.1"/>
<circle cx="172.90" cy="750.80" r="1.8" fill="#dcecf1"/>
<circle cx="193.35" cy="750.80" r="1.8" fill="#dcecf1"/>
<line x1="179.40" y1="747.70" x2="179.40" y2="753.90" stroke="#b8323f" stroke-width="0.9"/>
<line x1="200.00" y1="747.70" x2="200.00" y2="753.90" stroke="#b8323f" stroke-width="0.9"/>
<circle cx="168.30" cy="750.80" r="2.3" fill="#2a2d68"/>
<circle cx="188.70" cy="750.80" r="2.3" fill="#2a2d68"/>
<line x1="168.30" y1="758.30" x2="177.50" y2="758.30" stroke="#b9b6b4" stroke-width="1.2"/>
<line x1="177.50" y1="758.30" x2="188.70" y2="758.30" stroke="#df382c" stroke-width="2.1"/>
<line x1="188.70" y1="758.30" x2="198.00" y2="758.30" stroke="#b9b6b4" stroke-width="1.2"/>
<line x1="197.40" y1="758.30" x2="202.60" y2="758.30" stroke="#df382c" stroke-width="2.1"/>
<circle cx="172.90" cy="758.30" r="1.8" fill="#dcecf1"/>
<circle cx="193.35" cy="758.30" r="1.8" fill="#dcecf1"/>
<line x1="179.40" y1="755.20" x2="179.40" y2="761.40" stroke="#b8323f" stroke-width="0.9"/>
<line x1="200.00" y1="755.20" x2="200.00" y2="761.40" stroke="#b8323f" stroke-width="0.9"/>
<circle cx="168.30" cy="758.30" r="2.3" fill="#2a2d68"/>
<circle cx="188.70" cy="758.30" r="2.3" fill="#2a2d68"/>
<line x1="171.20" y1="766.30" x2="177.50" y2="766.30" stroke="#b9b6b4" stroke-width="1.2"/>
<line x1="177.50" y1="766.30" x2="188.70" y2="766.30" stroke="#df382c" stroke-width="2.1"/>
<line x1="188.70" y1="766.30" x2="198.00" y2="766.30" stroke="#b9b6b4" stroke-width="1.2"/>
<line x1="198.00" y1="766.30" x2="207.50" y2="766.30" stroke="#df382c" stroke-width="2.1"/>
<circle cx="174.35" cy="766.30" r="1.8" fill="#dcecf1"/>
<circle cx="193.35" cy="766.30" r="1.8" fill="#dcecf1"/>
<line x1="179.40" y1="763.20" x2="179.40" y2="769.40" stroke="#b8323f" stroke-width="0.9"/>
<line x1="200.00" y1="763.20" x2="200.00" y2="769.40" stroke="#b8323f" stroke-width="0.9"/>
<circle cx="188.70" cy="766.30" r="2.3" fill="#2a2d68"/>
<line x1="161.20" y1="775.00" x2="168.30" y2="775.00" stroke="#df382c" stroke-width="2.1"/>
<line x1="168.30" y1="775.00" x2="177.50" y2="775.00" stroke="#b9b6b4" stroke-width="1.2"/>
<line x1="177.50" y1="775.00" x2="188.70" y2="775.00" stroke="#df382c" stroke-width="2.1"/>
<line x1="188.70" y1="775.00" x2="198.00" y2="775.00" stroke="#b9b6b4" stroke-width="1.2"/>
<line x1="197.40" y1="775.00" x2="202.60" y2="775.00" stroke="#df382c" stroke-width="2.1"/>
<circle cx="172.90" cy="775.00" r="1.8" fill="#dcecf1"/>
<circle cx="193.35" cy="775.00" r="1.8" fill="#dcecf1"/>
<line x1="179.40" y1="771.90" x2="179.40" y2="778.10" stroke="#b8323f" stroke-width="0.9"/>
<line x1="200.00" y1="771.90" x2="200.00" y2="778.10" stroke="#b8323f" stroke-width="0.9"/>
<circle cx="168.30" cy="775.00" r="2.3" fill="#2a2d68"/>
<circle cx="188.70" cy="775.00" r="2.3" fill="#2a2d68"/>
<line x1="160.00" y1="793.30" x2="168.30" y2="793.30" stroke="#b9b6b4" stroke-width="1.2"/>
<line x1="168.30" y1="793.30" x2="177.50" y2="793.30" stroke="#b9b6b4" stroke-width="1.2"/>
<line x1="177.50" y1="793.30" x2="188.70" y2="793.30" stroke="#df382c" stroke-width="2.1"/>
<line x1="188.70" y1="793.30" x2="198.00" y2="793.30" stroke="#b9b6b4" stroke-width="1.2"/>
<line x1="198.00" y1="793.30" x2="208.70" y2="793.30" stroke="#df382c" stroke-width="2.1"/>
<line x1="208.70" y1="793.30" x2="218.50" y2="793.30" stroke="#b9b6b4" stroke-width="1.2"/>
<line x1="218.50" y1="793.30" x2="229.50" y2="793.30" stroke="#df382c" stroke-width="2.1"/>
<circle cx="164.15" cy="793.30" r="1.8" fill="#dcecf1"/>
<circle cx="172.90" cy="793.30" r="1.8" fill="#dcecf1"/>
<circle cx="193.35" cy="793.30" r="1.8" fill="#dcecf1"/>
<circle cx="213.60" cy="793.30" r="1.8" fill="#dcecf1"/>
<line x1="179.40" y1="790.20" x2="179.40" y2="796.40" stroke="#b8323f" stroke-width="0.9"/>
<line x1="200.00" y1="790.20" x2="200.00" y2="796.40" stroke="#b8323f" stroke-width="0.9"/>
<line x1="220.00" y1="790.20" x2="220.00" y2="796.40" stroke="#b8323f" stroke-width="0.9"/>
<circle cx="168.30" cy="793.30" r="2.3" fill="#2a2d68"/>
<circle cx="188.70" cy="793.30" r="2.3" fill="#2a2d68"/>
<circle cx="208.70" cy="793.30" r="2.3" fill="#2a2d68"/>
<circle cx="229.50" cy="793.30" r="2.3" fill="#2a2d68"/>
<line x1="160.00" y1="801.30" x2="168.30" y2="801.30" stroke="#b9b6b4" stroke-width="1.2"/>
<line x1="168.30" y1="801.30" x2="177.50" y2="801.30" stroke="#b9b6b4" stroke-width="1.2"/>
<line x1="177.50" y1="801.30" x2="188.70" y2="801.30" stroke="#df382c" stroke-width="2.1"/>
<line x1="188.70" y1="801.30" x2="198.00" y2="801.30" stroke="#b9b6b4" stroke-width="1.2"/>
<line x1="198.00" y1="801.30" x2="208.70" y2="801.30" stroke="#df382c" stroke-width="2.1"/>
<line x1="208.70" y1="801.30" x2="218.50" y2="801.30" stroke="#b9b6b4" stroke-width="1.2"/>
<line x1="218.50" y1="801.30" x2="229.50" y2="801.30" stroke="#df382c" stroke-width="2.1"/>
<circle cx="164.15" cy="801.30" r="1.8" fill="#dcecf1"/>
<circle cx="172.90" cy="801.30" r="1.8" fill="#dcecf1"/>
<circle cx="193.35" cy="801.30" r="1.8" fill="#dcecf1"/>
<circle cx="213.60" cy="801.30" r="1.8" fill="#dcecf1"/>
<line x1="179.40" y1="798.20" x2="179.40" y2="804.40" stroke="#b8323f" stroke-width="0.9"/>
<line x1="200.00" y1="798.20" x2="200.00" y2="804.40" stroke="#b8323f" stroke-width="0.9"/>
<line x1="220.00" y1="798.20" x2="220.00" y2="804.40" stroke="#b8323f" stroke-width="0.9"/>
<circle cx="168.30" cy="801.30" r="2.3" fill="#2a2d68"/>
<circle cx="188.70" cy="801.30" r="2.3" fill="#2a2d68"/>
<circle cx="208.70" cy="801.30" r="2.3" fill="#2a2d68"/>
<circle cx="229.50" cy="801.30" r="2.3" fill="#2a2d68"/>
<line x1="160.00" y1="810.00" x2="168.30" y2="810.00" stroke="#b9b6b4" stroke-width="1.2"/>
<line x1="168.30" y1="810.00" x2="177.50" y2="810.00" stroke="#b9b6b4" stroke-width="1.2"/>
<line x1="177.50" y1="810.00" x2="188.70" y2="810.00" stroke="#df382c" stroke-width="2.1"/>
<line x1="188.70" y1="810.00" x2="197.00" y2="810.00" stroke="#b9b6b4" stroke-width="1.2"/>
<line x1="195.40" y1="810.00" x2="200.60" y2="810.00" stroke="#df382c" stroke-width="2.1"/>
<circle cx="164.15" cy="810.00" r="1.8" fill="#dcecf1"/>
<circle cx="172.90" cy="810.00" r="1.8" fill="#dcecf1"/>
<circle cx="192.85" cy="810.00" r="1.8" fill="#dcecf1"/>
<line x1="179.40" y1="806.90" x2="179.40" y2="813.10" stroke="#b8323f" stroke-width="0.9"/>
<line x1="198.00" y1="806.90" x2="198.00" y2="813.10" stroke="#b8323f" stroke-width="0.9"/>
<circle cx="168.30" cy="810.00" r="2.3" fill="#2a2d68"/>
<circle cx="188.70" cy="810.00" r="2.3" fill="#2a2d68"/>
<line x1="141.20" y1="825.00" x2="148.00" y2="825.00" stroke="#b9b6b4" stroke-width="1.2"/>
<line x1="148.00" y1="825.00" x2="158.00" y2="825.00" stroke="#df382c" stroke-width="2.1"/>
<line x1="158.00" y1="825.00" x2="168.30" y2="825.00" stroke="#b9b6b4" stroke-width="1.2"/>
<line x1="168.30" y1="825.00" x2="178.00" y2="825.00" stroke="#b9b6b4" stroke-width="1.2"/>
<line x1="177.40" y1="825.00" x2="182.60" y2="825.00" stroke="#df382c" stroke-width="2.1"/>
<circle cx="144.60" cy="825.00" r="1.8" fill="#dcecf1"/>
<circle cx="163.15" cy="825.00" r="1.8" fill="#dcecf1"/>
<circle cx="173.15" cy="825.00" r="1.8" fill="#dcecf1"/>
<line x1="149.60" y1="821.90" x2="149.60" y2="828.10" stroke="#b8323f" stroke-width="0.9"/>
<line x1="180.00" y1="821.90" x2="180.00" y2="828.10" stroke="#b8323f" stroke-width="0.9"/>
<circle cx="158.00" cy="825.00" r="2.3" fill="#2a2d68"/>
<circle cx="168.30" cy="825.00" r="2.3" fill="#2a2d68"/>
<line x1="125.50" y1="833.30" x2="138.00" y2="833.30" stroke="#df382c" stroke-width="2.1"/>
<line x1="138.00" y1="833.30" x2="146.00" y2="833.30" stroke="#b9b6b4" stroke-width="1.2"/>
<line x1="146.00" y1="833.30" x2="158.00" y2="833.30" stroke="#df382c" stroke-width="2.1"/>
<line x1="158.00" y1="833.30" x2="168.30" y2="833.30" stroke="#b9b6b4" stroke-width="1.2"/>
<line x1="168.30" y1="833.30" x2="176.00" y2="833.30" stroke="#b9b6b4" stroke-width="1.2"/>
<line x1="176.00" y1="833.30" x2="178.00" y2="833.30" stroke="#df382c" stroke-width="2.1"/>
<circle cx="142.00" cy="833.30" r="1.8" fill="#dcecf1"/>
<circle cx="163.15" cy="833.30" r="1.8" fill="#dcecf1"/>
<circle cx="172.15" cy="833.30" r="1.8" fill="#dcecf1"/>
<line x1="127.50" y1="830.20" x2="127.50" y2="836.40" stroke="#b8323f" stroke-width="0.9"/>
<line x1="149.60" y1="830.20" x2="149.60" y2="836.40" stroke="#b8323f" stroke-width="0.9"/>
<circle cx="138.00" cy="833.30" r="2.3" fill="#2a2d68"/>
<circle cx="158.00" cy="833.30" r="2.3" fill="#2a2d68"/>
<circle cx="168.30" cy="833.30" r="2.3" fill="#2a2d68"/>
<line x1="122.00" y1="843.30" x2="127.50" y2="843.30" stroke="#df382c" stroke-width="2.1"/>
<line x1="127.50" y1="843.30" x2="138.00" y2="843.30" stroke="#b9b6b4" stroke-width="1.2"/>
<line x1="138.00" y1="843.30" x2="146.00" y2="843.30" stroke="#b9b6b4" stroke-width="1.2"/>
<line x1="146.00" y1="843.30" x2="158.00" y2="843.30" stroke="#df382c" stroke-width="2.1"/>
<line x1="158.00" y1="843.30" x2="168.30" y2="843.30" stroke="#b9b6b4" stroke-width="1.2"/>
<line x1="168.30" y1="843.30" x2="175.00" y2="843.30" stroke="#b9b6b4" stroke-width="1.2"/>
<circle cx="132.75" cy="843.30" r="1.8" fill="#dcecf1"/>
<circle cx="142.00" cy="843.30" r="1.8" fill="#dcecf1"/>
<circle cx="163.15" cy="843.30" r="1.8" fill="#dcecf1"/>
<circle cx="171.65" cy="843.30" r="1.8" fill="#dcecf1"/>
<line x1="149.60" y1="840.20" x2="149.60" y2="846.40" stroke="#b8323f" stroke-width="0.9"/>
<circle cx="127.50" cy="843.30" r="2.3" fill="#2a2d68"/>
<circle cx="138.00" cy="843.30" r="2.3" fill="#2a2d68"/>
<circle cx="158.00" cy="843.30" r="2.3" fill="#2a2d68"/>
<circle cx="168.30" cy="843.30" r="2.3" fill="#2a2d68"/>
<line x1="141.50" y1="852.30" x2="146.00" y2="852.30" stroke="#b9b6b4" stroke-width="1.2"/>
<line x1="146.00" y1="852.30" x2="170.20" y2="852.30" stroke="#df382c" stroke-width="2.1"/>
<line x1="170.20" y1="852.30" x2="189.20" y2="852.30" stroke="#b9b6b4" stroke-width="1.2"/>
<line x1="189.20" y1="852.30" x2="218.50" y2="852.30" stroke="#df382c" stroke-width="2.1"/>
<line x1="218.50" y1="852.30" x2="235.40" y2="852.30" stroke="#df382c" stroke-width="2.1"/>
<circle cx="179.70" cy="852.30" r="1.8" fill="#dcecf1"/>
<line x1="150.00" y1="849.20" x2="150.00" y2="855.40" stroke="#b8323f" stroke-width="0.9"/>
<line x1="160.00" y1="849.20" x2="160.00" y2="855.40" stroke="#b8323f" stroke-width="0.9"/>
<line x1="199.00" y1="849.20" x2="199.00" y2="855.40" stroke="#b8323f" stroke-width="0.9"/>
<line x1="209.00" y1="849.20" x2="209.00" y2="855.40" stroke="#b8323f" stroke-width="0.9"/>
<line x1="228.00" y1="849.20" x2="228.00" y2="855.40" stroke="#b8323f" stroke-width="0.9"/>
<rect x="176.70" y="850.10" width="3.60" height="4.40" fill="#f4a9b0"/>
<rect x="224.40" y="850.10" width="3.60" height="4.40" fill="#f4a9b0"/>
<circle cx="170.20" cy="852.30" r="2.3" fill="#2a2d68"/>
<circle cx="189.20" cy="852.30" r="2.3" fill="#2a2d68"/>
<circle cx="218.50" cy="852.30" r="2.3" fill="#2a2d68"/>
<line x1="179.40" y1="869.80" x2="189.20" y2="869.80" stroke="#9d9590" stroke-width="1.5"/>
<line x1="189.20" y1="869.80" x2="216.30" y2="869.80" stroke="#df382c" stroke-width="2.1"/>
<line x1="199.00" y1="866.70" x2="199.00" y2="872.90" stroke="#b8323f" stroke-width="0.9"/>
<line x1="209.00" y1="866.70" x2="209.00" y2="872.90" stroke="#b8323f" stroke-width="0.9"/>
<circle cx="179.40" cy="869.80" r="2.3" fill="#99d28c"/>
<circle cx="189.20" cy="869.80" r="2.3" fill="#2a2d68"/>
<text x="307.30" y="397.50" font-size="8.7" text-anchor="middle">A7 (<tspan font-style="italic">n</tspan> = 6)</text>
<text x="301.60" y="408.70" font-size="8.2" text-anchor="middle">5A</text>
<rect x="285.50" y="411.20" width="30.70" height="4.60" fill="#a89d96"/>
<rect x="316.20" y="411.20" width="12.50" height="4.60" fill="#dc3434"/>
<text x="316.30" y="422.20" font-size="8.5" text-anchor="middle">2</text>
<line x1="285.50" y1="427.00" x2="316.20" y2="427.00" stroke="#9d9590" stroke-width="1.5"/>
<line x1="316.20" y1="427.00" x2="328.70" y2="427.00" stroke="#df382c" stroke-width="2.1"/>
<line x1="320.20" y1="423.90" x2="320.20" y2="430.10" stroke="#b8323f" stroke-width="0.9"/>
<circle cx="315.50" cy="427.00" r="2.5" fill="#d5a982"/>
<circle cx="317.20" cy="427.00" r="2.2" fill="#f3e2d6"/>
<line x1="272.00" y1="435.00" x2="316.20" y2="435.00" stroke="#9d9590" stroke-width="1.5"/>
<line x1="316.20" y1="435.00" x2="322.00" y2="435.00" stroke="#df382c" stroke-width="2.1"/>
<line x1="320.20" y1="431.90" x2="320.20" y2="438.10" stroke="#b8323f" stroke-width="0.9"/>
<circle cx="315.50" cy="435.00" r="2.5" fill="#d5a982"/>
<circle cx="317.20" cy="435.00" r="2.2" fill="#f3e2d6"/>
<line x1="294.50" y1="443.00" x2="316.20" y2="443.00" stroke="#9d9590" stroke-width="1.5"/>
<line x1="316.20" y1="443.00" x2="327.50" y2="443.00" stroke="#df382c" stroke-width="2.1"/>
<line x1="320.20" y1="439.90" x2="320.20" y2="446.10" stroke="#b8323f" stroke-width="0.9"/>
<circle cx="315.50" cy="443.00" r="2.5" fill="#d5a982"/>
<circle cx="317.20" cy="443.00" r="2.2" fill="#f3e2d6"/>
<line x1="289.50" y1="450.80" x2="316.20" y2="450.80" stroke="#9d9590" stroke-width="1.5"/>
<circle cx="315.50" cy="450.80" r="2.5" fill="#d5a982"/>
<circle cx="317.20" cy="450.80" r="2.2" fill="#f3e2d6"/>
<line x1="305.40" y1="469.40" x2="316.00" y2="469.40" stroke="#9d9590" stroke-width="1.5"/>
<line x1="316.00" y1="469.40" x2="328.80" y2="469.40" stroke="#df382c" stroke-width="2.1"/>
<line x1="328.80" y1="469.40" x2="337.00" y2="469.40" stroke="#b9b6b4" stroke-width="1.2"/>
<circle cx="332.90" cy="469.40" r="1.8" fill="#dcecf1"/>
<line x1="320.40" y1="466.30" x2="320.40" y2="472.50" stroke="#b8323f" stroke-width="0.9"/>
<circle cx="339.00" cy="469.40" r="1.0" fill="#e05050"/>
<circle cx="315.30" cy="469.40" r="2.5" fill="#d5a982"/>
<circle cx="317.00" cy="469.40" r="2.2" fill="#f3e2d6"/>
<circle cx="328.80" cy="469.40" r="2.3" fill="#2a2d68"/>
<line x1="315.00" y1="478.50" x2="328.80" y2="478.50" stroke="#df382c" stroke-width="2.1"/>
<line x1="328.80" y1="478.50" x2="350.00" y2="478.50" stroke="#b9b6b4" stroke-width="1.2"/>
<line x1="348.00" y1="478.50" x2="354.40" y2="478.50" stroke="#df382c" stroke-width="2.1"/>
<line x1="354.40" y1="478.50" x2="369.80" y2="478.50" stroke="#8e7d76" stroke-width="1.5"/>
<line x1="369.80" y1="478.50" x2="378.50" y2="478.50" stroke="#b9b6b4" stroke-width="1.2"/>
<circle cx="339.40" cy="478.50" r="1.8" fill="#dcecf1"/>
<circle cx="374.15" cy="478.50" r="1.8" fill="#dcecf1"/>
<line x1="320.40" y1="475.40" x2="320.40" y2="481.60" stroke="#b8323f" stroke-width="0.9"/>
<line x1="350.60" y1="475.40" x2="350.60" y2="481.60" stroke="#b8323f" stroke-width="0.9"/>
<circle cx="314.30" cy="478.50" r="2.5" fill="#d5a982"/>
<circle cx="316.00" cy="478.50" r="2.2" fill="#f3e2d6"/>
<circle cx="328.80" cy="478.50" r="2.3" fill="#2a2d68"/>
<path d="M337.60,478.50 L340.40,475.70 L343.20,478.50 L340.40,481.30Z" fill="#4474aa"/>
<circle cx="354.40" cy="478.50" r="2.3" fill="#5a3d33"/>
<circle cx="369.80" cy="478.50" r="2.3" fill="#4b1d5c"/>
<path d="M375.70,478.50 L378.50,475.70 L381.30,478.50 L378.50,481.30Z" fill="#4474aa"/>
<text x="308.50" y="507.50" font-size="8.7" text-anchor="middle">A8 (<tspan font-style="italic">n</tspan> = 34)</text>
<text x="286.30" y="517.60" font-size="8.2" text-anchor="middle">XD</text>
<text x="301.90" y="517.60" font-size="8.2" text-anchor="middle">5B</text>
<text x="314.60" y="517.60" font-size="8.2" text-anchor="middle">XD</text>
<text x="328.80" y="517.60" font-size="8.2" text-anchor="middle">5B</text>
<rect x="288.20" y="520.40" width="4.80" height="4.30" fill="#dc3434"/>
<rect x="293.00" y="520.40" width="3.00" height="4.30" fill="#cdb5d8"/>
<rect x="296.00" y="520.40" width="17.00" height="4.30" fill="#b3cde0"/>
<rect x="313.00" y="520.40" width="3.00" height="4.30" fill="#cdb5d8"/>
<rect x="316.00" y="520.40" width="10.20" height="4.30" fill="#dc3434"/>
<text x="296.60" y="532.20" font-size="8.5" text-anchor="middle">3</text>
<text x="311.80" y="532.20" font-size="8.5" text-anchor="middle">6</text>
<line x1="287.70" y1="536.60" x2="292.50" y2="536.60" stroke="#b9b6b4" stroke-width="1.2"/>
<line x1="290.80" y1="536.60" x2="296.00" y2="536.60" stroke="#df382c" stroke-width="2.1"/>
<line x1="297.00" y1="536.60" x2="311.80" y2="536.60" stroke="#8e7d76" stroke-width="1.5"/>
<line x1="311.80" y1="536.60" x2="318.00" y2="536.60" stroke="#b9b6b4" stroke-width="1.2"/>
<line x1="317.40" y1="536.60" x2="322.60" y2="536.60" stroke="#df382c" stroke-width="2.1"/>
<circle cx="314.90" cy="536.60" r="1.8" fill="#dcecf1"/>
<line x1="293.40" y1="533.50" x2="293.40" y2="539.70" stroke="#b8323f" stroke-width="0.9"/>
<line x1="320.00" y1="533.50" x2="320.00" y2="539.70" stroke="#b8323f" stroke-width="0.9"/>
<circle cx="296.90" cy="536.60" r="2.3" fill="#5a3d33"/>
<path d="M311.80,533.90 A2.7,2.7 0 0 1 311.80,539.30Z" fill="#c4b2d6"/>
<path d="M311.80,533.90 A2.7,2.7 0 0 0 311.80,539.30Z" fill="#4b1d5c"/>
<circle cx="324.20" cy="536.60" r="2.3" fill="#5a3d33"/>
<line x1="265.00" y1="552.00" x2="270.50" y2="552.00" stroke="#df382c" stroke-width="2.1"/>
<line x1="270.50" y1="552.00" x2="288.00" y2="552.00" stroke="#b9b6b4" stroke-width="1.2"/>
<line x1="288.00" y1="552.00" x2="297.00" y2="552.00" stroke="#df382c" stroke-width="2.1"/>
<line x1="297.00" y1="552.00" x2="312.50" y2="552.00" stroke="#8e7d76" stroke-width="1.5"/>
<line x1="312.50" y1="552.00" x2="328.00" y2="552.00" stroke="#b9b6b4" stroke-width="1.2"/>
<circle cx="279.25" cy="552.00" r="1.8" fill="#dcecf1"/>
<circle cx="320.25" cy="552.00" r="1.8" fill="#dcecf1"/>
<line x1="292.50" y1="548.90" x2="292.50" y2="555.10" stroke="#b8323f" stroke-width="0.9"/>
<circle cx="330.50" cy="552.00" r="1.0" fill="#e05050"/>
<circle cx="270.50" cy="552.00" r="2.3" fill="#2a2d68"/>
<circle cx="281.30" cy="552.00" r="2.3" fill="#2a2d68"/>
<circle cx="297.00" cy="552.00" r="2.3" fill="#5a3d33"/>
<path d="M312.50,549.30 A2.7,2.7 0 0 1 312.50,554.70Z" fill="#c4b2d6"/>
<path d="M312.50,549.30 A2.7,2.7 0 0 0 312.50,554.70Z" fill="#4b1d5c"/>
<path d="M317.70,552.00 L320.50,549.20 L323.30,552.00 L320.50,554.80Z" fill="#4474aa"/>
<line x1="289.90" y1="559.30" x2="295.10" y2="559.30" stroke="#df382c" stroke-width="2.1"/>
<line x1="297.00" y1="559.30" x2="312.50" y2="559.30" stroke="#8e7d76" stroke-width="1.5"/>
<line x1="312.50" y1="559.30" x2="338.00" y2="559.30" stroke="#b9b6b4" stroke-width="1.2"/>
<line x1="338.00" y1="559.30" x2="345.50" y2="559.30" stroke="#df382c" stroke-width="2.1"/>
<line x1="345.50" y1="559.30" x2="352.00" y2="559.30" stroke="#8e7d76" stroke-width="1.5"/>
<circle cx="325.25" cy="559.30" r="1.8" fill="#dcecf1"/>
<line x1="292.50" y1="556.20" x2="292.50" y2="562.40" stroke="#b8323f" stroke-width="0.9"/>
<line x1="342.00" y1="556.20" x2="342.00" y2="562.40" stroke="#b8323f" stroke-width="0.9"/>
<circle cx="297.00" cy="559.30" r="2.3" fill="#5a3d33"/>
<path d="M312.50,556.60 A2.7,2.7 0 0 1 312.50,562.00Z" fill="#c4b2d6"/>
<path d="M312.50,556.60 A2.7,2.7 0 0 0 312.50,562.00Z" fill="#4b1d5c"/>
<path d="M317.70,559.30 L320.50,556.50 L323.30,559.30 L320.50,562.10Z" fill="#4474aa"/>
<path d="M328.50,559.30 L331.30,556.50 L334.10,559.30 L331.30,562.10Z" fill="#4474aa"/>
<circle cx="345.50" cy="559.30" r="2.3" fill="#5a3d33"/>
<line x1="312.50" y1="566.80" x2="338.00" y2="566.80" stroke="#b9b6b4" stroke-width="1.2"/>
<line x1="338.00" y1="566.80" x2="345.50" y2="566.80" stroke="#df382c" stroke-width="2.1"/>
<line x1="345.50" y1="566.80" x2="356.30" y2="566.80" stroke="#8e7d76" stroke-width="1.5"/>
<circle cx="325.25" cy="566.80" r="1.8" fill="#dcecf1"/>
<line x1="342.00" y1="563.70" x2="342.00" y2="569.90" stroke="#b8323f" stroke-width="0.9"/>
<path d="M312.50,564.10 A2.7,2.7 0 0 1 312.50,569.50Z" fill="#c4b2d6"/>
<path d="M312.50,564.10 A2.7,2.7 0 0 0 312.50,569.50Z" fill="#4b1d5c"/>
<path d="M317.70,566.80 L320.50,564.00 L323.30,566.80 L320.50,569.60Z" fill="#4474aa"/>
<path d="M328.50,566.80 L331.30,564.00 L334.10,566.80 L331.30,569.60Z" fill="#4474aa"/>
<circle cx="345.50" cy="566.80" r="2.3" fill="#5a3d33"/>
<line x1="289.90" y1="573.30" x2="295.10" y2="573.30" stroke="#df382c" stroke-width="2.1"/>
<line x1="297.00" y1="573.30" x2="312.50" y2="573.30" stroke="#8e7d76" stroke-width="1.5"/>
<line x1="312.50" y1="573.30" x2="337.00" y2="573.30" stroke="#b9b6b4" stroke-width="1.2"/>
<circle cx="324.75" cy="573.30" r="1.8" fill="#dcecf1"/>
<line x1="292.50" y1="570.20" x2="292.50" y2="576.40" stroke="#b8323f" stroke-width="0.9"/>
<circle cx="297.00" cy="573.30" r="2.3" fill="#5a3d33"/>
<path d="M312.50,570.60 A2.7,2.7 0 0 1 312.50,576.00Z" fill="#c4b2d6"/>
<path d="M312.50,570.60 A2.7,2.7 0 0 0 312.50,576.00Z" fill="#4b1d5c"/>
<path d="M317.70,573.30 L320.50,570.50 L323.30,573.30 L320.50,576.10Z" fill="#4474aa"/>
<path d="M328.50,573.30 L331.30,570.50 L334.10,573.30 L331.30,576.10Z" fill="#4474aa"/>
<line x1="312.50" y1="580.00" x2="338.00" y2="580.00" stroke="#b9b6b4" stroke-width="1.2"/>
<line x1="338.00" y1="580.00" x2="345.50" y2="580.00" stroke="#df382c" stroke-width="2.1"/>
<circle cx="325.25" cy="580.00" r="1.8" fill="#dcecf1"/>
<line x1="342.00" y1="576.90" x2="342.00" y2="583.10" stroke="#b8323f" stroke-width="0.9"/>
<path d="M312.50,577.30 A2.7,2.7 0 0 1 312.50,582.70Z" fill="#c4b2d6"/>
<path d="M312.50,577.30 A2.7,2.7 0 0 0 312.50,582.70Z" fill="#4b1d5c"/>
<path d="M317.70,580.00 L320.50,577.20 L323.30,580.00 L320.50,582.80Z" fill="#4474aa"/>
<path d="M328.50,580.00 L331.30,577.20 L334.10,580.00 L331.30,582.80Z" fill="#4474aa"/>
<circle cx="345.50" cy="580.00" r="2.3" fill="#5a3d33"/>
<line x1="264.00" y1="586.30" x2="270.50" y2="586.30" stroke="#df382c" stroke-width="2.1"/>
<line x1="270.50" y1="586.30" x2="288.00" y2="586.30" stroke="#b9b6b4" stroke-width="1.2"/>
<line x1="288.00" y1="586.30" x2="297.00" y2="586.30" stroke="#df382c" stroke-width="2.1"/>
<line x1="297.00" y1="586.30" x2="309.00" y2="586.30" stroke="#8e7d76" stroke-width="1.5"/>
<circle cx="279.25" cy="586.30" r="1.8" fill="#dcecf1"/>
<line x1="292.50" y1="583.20" x2="292.50" y2="589.40" stroke="#b8323f" stroke-width="0.9"/>
<circle cx="270.50" cy="586.30" r="2.3" fill="#2a2d68"/>
<path d="M278.50,586.30 L281.30,583.50 L284.10,586.30 L281.30,589.10Z" fill="#4474aa"/>
<circle cx="297.00" cy="586.30" r="2.3" fill="#5a3d33"/>
<line x1="270.50" y1="593.80" x2="288.00" y2="593.80" stroke="#b9b6b4" stroke-width="1.2"/>
<line x1="288.00" y1="593.80" x2="297.00" y2="593.80" stroke="#df382c" stroke-width="2.1"/>
<line x1="297.00" y1="593.80" x2="301.00" y2="593.80" stroke="#8e7d76" stroke-width="1.5"/>
<circle cx="279.25" cy="593.80" r="1.8" fill="#dcecf1"/>
<line x1="292.50" y1="590.70" x2="292.50" y2="596.90" stroke="#b8323f" stroke-width="0.9"/>
<circle cx="270.50" cy="593.80" r="2.3" fill="#2a2d68"/>
<path d="M278.50,593.80 L281.30,591.00 L284.10,593.80 L281.30,596.60Z" fill="#4474aa"/>
<circle cx="297.00" cy="593.80" r="2.3" fill="#5a3d33"/>
<line x1="276.00" y1="602.00" x2="288.00" y2="602.00" stroke="#b9b6b4" stroke-width="1.2"/>
<line x1="288.00" y1="602.00" x2="297.00" y2="602.00" stroke="#df382c" stroke-width="2.1"/>
<line x1="297.00" y1="602.00" x2="312.50" y2="602.00" stroke="#8e7d76" stroke-width="1.5"/>
<circle cx="282.00" cy="602.00" r="1.8" fill="#dcecf1"/>
<line x1="292.50" y1="598.90" x2="292.50" y2="605.10" stroke="#b8323f" stroke-width="0.9"/>
<path d="M278.50,602.00 L281.30,599.20 L284.10,602.00 L281.30,604.80Z" fill="#4474aa"/>
<circle cx="297.00" cy="602.00" r="2.3" fill="#5a3d33"/>
<path d="M312.50,599.30 A2.7,2.7 0 0 1 312.50,604.70Z" fill="#c4b2d6"/>
<path d="M312.50,599.30 A2.7,2.7 0 0 0 312.50,604.70Z" fill="#4b1d5c"/>
<line x1="288.00" y1="610.50" x2="297.00" y2="610.50" stroke="#df382c" stroke-width="2.1"/>
<line x1="297.00" y1="610.50" x2="312.50" y2="610.50" stroke="#8e7d76" stroke-width="1.5"/>
<line x1="312.50" y1="610.50" x2="322.00" y2="610.50" stroke="#b9b6b4" stroke-width="1.2"/>
<circle cx="317.25" cy="610.50" r="1.8" fill="#dcecf1"/>
<line x1="292.50" y1="607.40" x2="292.50" y2="613.60" stroke="#b8323f" stroke-width="0.9"/>
<circle cx="297.00" cy="610.50" r="2.3" fill="#5a3d33"/>
<path d="M312.50,607.80 A2.7,2.7 0 0 1 312.50,613.20Z" fill="#c4b2d6"/>
<path d="M312.50,607.80 A2.7,2.7 0 0 0 312.50,613.20Z" fill="#4b1d5c"/>
<path d="M317.70,610.50 L320.50,607.70 L323.30,610.50 L320.50,613.30Z" fill="#4474aa"/>
<line x1="305.00" y1="621.30" x2="312.50" y2="621.30" stroke="#8e7d76" stroke-width="1.5"/>
<line x1="312.50" y1="621.30" x2="348.00" y2="621.30" stroke="#b9b6b4" stroke-width="1.2"/>
<line x1="348.00" y1="621.30" x2="352.00" y2="621.30" stroke="#df382c" stroke-width="2.1"/>
<circle cx="330.25" cy="621.30" r="1.8" fill="#dcecf1"/>
<line x1="352.00" y1="618.20" x2="352.00" y2="624.40" stroke="#b8323f" stroke-width="0.9"/>
<path d="M312.50,618.60 A2.7,2.7 0 0 1 312.50,624.00Z" fill="#c4b2d6"/>
<path d="M312.50,618.60 A2.7,2.7 0 0 0 312.50,624.00Z" fill="#4b1d5c"/>
<path d="M317.70,621.30 L320.50,618.50 L323.30,621.30 L320.50,624.10Z" fill="#4474aa"/>
<path d="M328.50,621.30 L331.30,618.50 L334.10,621.30 L331.30,624.10Z" fill="#4474aa"/>
<path d="M339.20,621.30 L342.00,618.50 L344.80,621.30 L342.00,624.10Z" fill="#4474aa"/>
<line x1="273.50" y1="633.80" x2="288.00" y2="633.80" stroke="#b9b6b4" stroke-width="1.2"/>
<line x1="288.00" y1="633.80" x2="297.00" y2="633.80" stroke="#df382c" stroke-width="2.1"/>
<line x1="297.00" y1="633.80" x2="312.50" y2="633.80" stroke="#8e7d76" stroke-width="1.5"/>
<line x1="312.50" y1="633.80" x2="325.00" y2="633.80" stroke="#b9b6b4" stroke-width="1.2"/>
<circle cx="280.75" cy="633.80" r="1.8" fill="#dcecf1"/>
<circle cx="318.75" cy="633.80" r="1.8" fill="#dcecf1"/>
<line x1="292.50" y1="630.70" x2="292.50" y2="636.90" stroke="#b8323f" stroke-width="0.9"/>
<path d="M273.50,631.10 A2.7,2.7 0 0 1 273.50,636.50Z" fill="#c4b2d6"/>
<path d="M273.50,631.10 A2.7,2.7 0 0 0 273.50,636.50Z" fill="#4b1d5c"/>
<path d="M278.50,633.80 L281.30,631.00 L284.10,633.80 L281.30,636.60Z" fill="#4474aa"/>
<circle cx="297.00" cy="633.80" r="2.3" fill="#5a3d33"/>
<path d="M312.50,631.10 A2.7,2.7 0 0 1 312.50,636.50Z" fill="#c4b2d6"/>
<path d="M312.50,631.10 A2.7,2.7 0 0 0 312.50,636.50Z" fill="#4b1d5c"/>
<path d="M317.70,633.80 L320.50,631.00 L323.30,633.80 L320.50,636.60Z" fill="#4474aa"/>
<line x1="302.00" y1="643.00" x2="312.50" y2="643.00" stroke="#8e7d76" stroke-width="1.5"/>
<line x1="312.50" y1="643.00" x2="330.00" y2="643.00" stroke="#b9b6b4" stroke-width="1.2"/>
<line x1="330.00" y1="643.00" x2="335.00" y2="643.00" stroke="#df382c" stroke-width="2.1"/>
<circle cx="321.25" cy="643.00" r="1.8" fill="#dcecf1"/>
<line x1="333.00" y1="639.90" x2="333.00" y2="646.10" stroke="#b8323f" stroke-width="0.9"/>
<path d="M312.50,640.30 A2.7,2.7 0 0 1 312.50,645.70Z" fill="#c4b2d6"/>
<path d="M312.50,640.30 A2.7,2.7 0 0 0 312.50,645.70Z" fill="#4b1d5c"/>
<path d="M317.70,643.00 L320.50,640.20 L323.30,643.00 L320.50,645.80Z" fill="#4474aa"/>
<line x1="263.80" y1="662.00" x2="273.80" y2="662.00" stroke="#9d9590" stroke-width="1.5"/>
<line x1="273.80" y1="662.00" x2="288.00" y2="662.00" stroke="#b9b6b4" stroke-width="1.2"/>
<line x1="288.00" y1="662.00" x2="297.00" y2="662.00" stroke="#df382c" stroke-width="2.1"/>
<line x1="297.00" y1="662.00" x2="312.50" y2="662.00" stroke="#8e7d76" stroke-width="1.5"/>
<circle cx="280.90" cy="662.00" r="1.8" fill="#dcecf1"/>
<line x1="292.00" y1="658.90" x2="292.00" y2="665.10" stroke="#b8323f" stroke-width="0.9"/>
<circle cx="263.80" cy="662.00" r="2.3" fill="#f2c21e"/>
<path d="M273.80,659.30 A2.7,2.7 0 0 1 273.80,664.70Z" fill="#c4b2d6"/>
<path d="M273.80,659.30 A2.7,2.7 0 0 0 273.80,664.70Z" fill="#4b1d5c"/>
<path d="M279.70,662.00 L282.50,659.20 L285.30,662.00 L282.50,664.80Z" fill="#4474aa"/>
<circle cx="297.00" cy="662.00" r="2.3" fill="#5a3d33"/>
<path d="M312.50,659.30 A2.7,2.7 0 0 1 312.50,664.70Z" fill="#8f68a6"/>
<path d="M312.50,659.30 A2.7,2.7 0 0 0 312.50,664.70Z" fill="#4b1d5c"/>
<path d="M318.00,659.30 A2.7,2.7 0 0 1 318.00,664.70Z" fill="#8f68a6"/>
<path d="M318.00,659.30 A2.7,2.7 0 0 0 318.00,664.70Z" fill="#4b1d5c"/>
<line x1="277.50" y1="670.80" x2="288.00" y2="670.80" stroke="#b9b6b4" stroke-width="1.2"/>
<line x1="288.00" y1="670.80" x2="297.00" y2="670.80" stroke="#df382c" stroke-width="2.1"/>
<line x1="297.00" y1="670.80" x2="312.50" y2="670.80" stroke="#8e7d76" stroke-width="1.5"/>
<line x1="312.50" y1="670.80" x2="333.00" y2="670.80" stroke="#b9b6b4" stroke-width="1.2"/>
<line x1="333.00" y1="670.80" x2="337.00" y2="670.80" stroke="#df382c" stroke-width="2.1"/>
<circle cx="282.75" cy="670.80" r="1.8" fill="#dcecf1"/>
<circle cx="322.75" cy="670.80" r="1.8" fill="#dcecf1"/>
<line x1="292.00" y1="667.70" x2="292.00" y2="673.90" stroke="#b8323f" stroke-width="0.9"/>
<line x1="336.00" y1="667.70" x2="336.00" y2="673.90" stroke="#b8323f" stroke-width="0.9"/>
<path d="M279.70,670.80 L282.50,668.00 L285.30,670.80 L282.50,673.60Z" fill="#4474aa"/>
<circle cx="297.00" cy="670.80" r="2.3" fill="#5a3d33"/>
<path d="M312.50,668.10 A2.7,2.7 0 0 1 312.50,673.50Z" fill="#8f68a6"/>
<path d="M312.50,668.10 A2.7,2.7 0 0 0 312.50,673.50Z" fill="#4b1d5c"/>
<path d="M318.00,668.10 A2.7,2.7 0 0 1 318.00,673.50Z" fill="#8f68a6"/>
<path d="M318.00,668.10 A2.7,2.7 0 0 0 318.00,673.50Z" fill="#4b1d5c"/>
<path d="M323.50,670.80 L326.30,668.00 L329.10,670.80 L326.30,673.60Z" fill="#4474aa"/>
<line x1="285.00" y1="678.80" x2="288.00" y2="678.80" stroke="#b9b6b4" stroke-width="1.2"/>
<line x1="288.00" y1="678.80" x2="297.00" y2="678.80" stroke="#df382c" stroke-width="2.1"/>
<line x1="297.00" y1="678.80" x2="312.50" y2="678.80" stroke="#8e7d76" stroke-width="1.5"/>
<line x1="312.50" y1="678.80" x2="331.00" y2="678.80" stroke="#b9b6b4" stroke-width="1.2"/>
<circle cx="321.75" cy="678.80" r="1.8" fill="#dcecf1"/>
<line x1="292.00" y1="675.70" x2="292.00" y2="681.90" stroke="#b8323f" stroke-width="0.9"/>
<circle cx="297.00" cy="678.80" r="2.3" fill="#5a3d33"/>
<path d="M312.50,676.10 A2.7,2.7 0 0 1 312.50,681.50Z" fill="#8f68a6"/>
<path d="M312.50,676.10 A2.7,2.7 0 0 0 312.50,681.50Z" fill="#4b1d5c"/>
<path d="M318.00,676.10 A2.7,2.7 0 0 1 318.00,681.50Z" fill="#8f68a6"/>
<path d="M318.00,676.10 A2.7,2.7 0 0 0 318.00,681.50Z" fill="#4b1d5c"/>
<path d="M323.50,678.80 L326.30,676.00 L329.10,678.80 L326.30,681.60Z" fill="#4474aa"/>
<line x1="278.00" y1="686.30" x2="282.50" y2="686.30" stroke="#df382c" stroke-width="2.1"/>
<line x1="282.50" y1="686.30" x2="288.00" y2="686.30" stroke="#b9b6b4" stroke-width="1.2"/>
<line x1="288.00" y1="686.30" x2="297.00" y2="686.30" stroke="#df382c" stroke-width="2.1"/>
<line x1="297.00" y1="686.30" x2="312.50" y2="686.30" stroke="#8e7d76" stroke-width="1.5"/>
<line x1="280.00" y1="683.20" x2="280.00" y2="689.40" stroke="#b8323f" stroke-width="0.9"/>
<line x1="292.00" y1="683.20" x2="292.00" y2="689.40" stroke="#b8323f" stroke-width="0.9"/>
<path d="M279.70,686.30 L282.50,683.50 L285.30,686.30 L282.50,689.10Z" fill="#4474aa"/>
<circle cx="297.00" cy="686.30" r="2.3" fill="#5a3d33"/>
<path d="M312.50,683.60 A2.7,2.7 0 0 1 312.50,689.00Z" fill="#8f68a6"/>
<path d="M312.50,683.60 A2.7,2.7 0 0 0 312.50,689.00Z" fill="#4b1d5c"/>
<circle cx="318.00" cy="686.30" r="2.3" fill="#d9bde0"/>
<line x1="304.00" y1="694.30" x2="312.50" y2="694.30" stroke="#8e7d76" stroke-width="1.5"/>
<line x1="312.50" y1="694.30" x2="333.00" y2="694.30" stroke="#b9b6b4" stroke-width="1.2"/>
<line x1="333.00" y1="694.30" x2="338.00" y2="694.30" stroke="#df382c" stroke-width="2.1"/>
<circle cx="322.75" cy="694.30" r="1.8" fill="#dcecf1"/>
<line x1="337.00" y1="691.20" x2="337.00" y2="697.40" stroke="#b8323f" stroke-width="0.9"/>
<path d="M312.50,691.60 A2.7,2.7 0 0 1 312.50,697.00Z" fill="#8f68a6"/>
<path d="M312.50,691.60 A2.7,2.7 0 0 0 312.50,697.00Z" fill="#4b1d5c"/>
<path d="M318.00,691.60 A2.7,2.7 0 0 1 318.00,697.00Z" fill="#8f68a6"/>
<path d="M318.00,691.60 A2.7,2.7 0 0 0 318.00,697.00Z" fill="#4b1d5c"/>
<path d="M323.50,694.30 L326.30,691.50 L329.10,694.30 L326.30,697.10Z" fill="#4474aa"/>
<line x1="301.00" y1="701.30" x2="312.50" y2="701.30" stroke="#8e7d76" stroke-width="1.5"/>
<line x1="312.50" y1="701.30" x2="333.00" y2="701.30" stroke="#b9b6b4" stroke-width="1.2"/>
<circle cx="322.75" cy="701.30" r="1.8" fill="#dcecf1"/>
<path d="M312.50,698.60 A2.7,2.7 0 0 1 312.50,704.00Z" fill="#8f68a6"/>
<path d="M312.50,698.60 A2.7,2.7 0 0 0 312.50,704.00Z" fill="#4b1d5c"/>
<path d="M318.00,698.60 A2.7,2.7 0 0 1 318.00,704.00Z" fill="#8f68a6"/>
<path d="M318.00,698.60 A2.7,2.7 0 0 0 318.00,704.00Z" fill="#4b1d5c"/>
<path d="M323.50,701.30 L326.30,698.50 L329.10,701.30 L326.30,704.10Z" fill="#4474aa"/>
<line x1="283.00" y1="722.00" x2="288.00" y2="722.00" stroke="#b9b6b4" stroke-width="1.2"/>
<line x1="288.00" y1="722.00" x2="297.00" y2="722.00" stroke="#df382c" stroke-width="2.1"/>
<line x1="297.00" y1="722.00" x2="312.50" y2="722.00" stroke="#8e7d76" stroke-width="1.5"/>
<line x1="312.50" y1="722.00" x2="332.00" y2="722.00" stroke="#9d9590" stroke-width="1.5"/>
<line x1="292.00" y1="718.90" x2="292.00" y2="725.10" stroke="#b8323f" stroke-width="0.9"/>
<circle cx="297.00" cy="722.00" r="2.3" fill="#5a3d33"/>
<path d="M312.50,719.30 A2.7,2.7 0 0 1 312.50,724.70Z" fill="#8f68a6"/>
<path d="M312.50,719.30 A2.7,2.7 0 0 0 312.50,724.70Z" fill="#4b1d5c"/>
<circle cx="320.50" cy="722.00" r="2.3" fill="#f2c21e"/>
<path d="M332.00,719.30 A2.7,2.7 0 0 1 332.00,724.70Z" fill="#8f68a6"/>
<path d="M332.00,719.30 A2.7,2.7 0 0 0 332.00,724.70Z" fill="#4b1d5c"/>
<line x1="297.00" y1="729.50" x2="312.50" y2="729.50" stroke="#8e7d76" stroke-width="1.5"/>
<line x1="312.50" y1="729.50" x2="332.00" y2="729.50" stroke="#9d9590" stroke-width="1.5"/>
<line x1="332.00" y1="729.50" x2="348.00" y2="729.50" stroke="#b9b6b4" stroke-width="1.2"/>
<line x1="348.00" y1="729.50" x2="351.00" y2="729.50" stroke="#df382c" stroke-width="2.1"/>
<circle cx="340.00" cy="729.50" r="1.8" fill="#dcecf1"/>
<line x1="350.00" y1="726.40" x2="350.00" y2="732.60" stroke="#b8323f" stroke-width="0.9"/>
<circle cx="297.00" cy="729.50" r="2.3" fill="#5a3d33"/>
<path d="M312.50,726.80 A2.7,2.7 0 0 1 312.50,732.20Z" fill="#8f68a6"/>
<path d="M312.50,726.80 A2.7,2.7 0 0 0 312.50,732.20Z" fill="#4b1d5c"/>
<circle cx="320.50" cy="729.50" r="2.3" fill="#f2c21e"/>
<path d="M332.00,726.80 A2.7,2.7 0 0 1 332.00,732.20Z" fill="#8f68a6"/>
<path d="M332.00,726.80 A2.7,2.7 0 0 0 332.00,732.20Z" fill="#4b1d5c"/>
<path d="M337.20,729.50 L340.00,726.70 L342.80,729.50 L340.00,732.30Z" fill="#4474aa"/>
<line x1="312.50" y1="739.50" x2="332.00" y2="739.50" stroke="#9d9590" stroke-width="1.5"/>
<line x1="332.00" y1="739.50" x2="345.00" y2="739.50" stroke="#b9b6b4" stroke-width="1.2"/>
<circle cx="338.50" cy="739.50" r="1.8" fill="#dcecf1"/>
<path d="M312.50,736.80 A2.7,2.7 0 0 1 312.50,742.20Z" fill="#8f68a6"/>
<path d="M312.50,736.80 A2.7,2.7 0 0 0 312.50,742.20Z" fill="#4b1d5c"/>
<circle cx="320.50" cy="739.50" r="2.3" fill="#f2c21e"/>
<path d="M332.00,736.80 A2.7,2.7 0 0 1 332.00,742.20Z" fill="#8f68a6"/>
<path d="M332.00,736.80 A2.7,2.7 0 0 0 332.00,742.20Z" fill="#4b1d5c"/>
<path d="M337.20,739.50 L340.00,736.70 L342.80,739.50 L340.00,742.30Z" fill="#4474aa"/>
<line x1="258.00" y1="758.80" x2="273.80" y2="758.80" stroke="#8e7d76" stroke-width="1.5"/>
<line x1="273.80" y1="758.80" x2="288.00" y2="758.80" stroke="#b9b6b4" stroke-width="1.2"/>
<line x1="288.00" y1="758.80" x2="297.00" y2="758.80" stroke="#df382c" stroke-width="2.1"/>
<circle cx="280.90" cy="758.80" r="1.8" fill="#dcecf1"/>
<line x1="292.00" y1="755.70" x2="292.00" y2="761.90" stroke="#b8323f" stroke-width="0.9"/>
<circle cx="258.00" cy="758.80" r="2.3" fill="#5a3d33"/>
<path d="M273.80,756.10 A2.7,2.7 0 0 1 273.80,761.50Z" fill="#c4b2d6"/>
<path d="M273.80,756.10 A2.7,2.7 0 0 0 273.80,761.50Z" fill="#4b1d5c"/>
<path d="M279.70,758.80 L282.50,756.00 L285.30,758.80 L282.50,761.60Z" fill="#4474aa"/>
<circle cx="297.00" cy="758.80" r="2.3" fill="#5a3d33"/>
<line x1="262.00" y1="766.50" x2="273.80" y2="766.50" stroke="#8e7d76" stroke-width="1.5"/>
<line x1="273.80" y1="766.50" x2="288.00" y2="766.50" stroke="#b9b6b4" stroke-width="1.2"/>
<line x1="288.00" y1="766.50" x2="297.00" y2="766.50" stroke="#df382c" stroke-width="2.1"/>
<circle cx="280.90" cy="766.50" r="1.8" fill="#dcecf1"/>
<line x1="292.00" y1="763.40" x2="292.00" y2="769.60" stroke="#b8323f" stroke-width="0.9"/>
<path d="M273.80,763.80 A2.7,2.7 0 0 1 273.80,769.20Z" fill="#c4b2d6"/>
<path d="M273.80,763.80 A2.7,2.7 0 0 0 273.80,769.20Z" fill="#4b1d5c"/>
<path d="M279.70,766.50 L282.50,763.70 L285.30,766.50 L282.50,769.30Z" fill="#4474aa"/>
<circle cx="297.00" cy="766.50" r="2.3" fill="#5a3d33"/>
<line x1="270.00" y1="774.50" x2="273.80" y2="774.50" stroke="#8e7d76" stroke-width="1.5"/>
<line x1="273.80" y1="774.50" x2="288.00" y2="774.50" stroke="#b9b6b4" stroke-width="1.2"/>
<line x1="288.00" y1="774.50" x2="297.00" y2="774.50" stroke="#df382c" stroke-width="2.1"/>
<line x1="297.00" y1="774.50" x2="301.00" y2="774.50" stroke="#8e7d76" stroke-width="1.5"/>
<circle cx="280.90" cy="774.50" r="1.8" fill="#dcecf1"/>
<line x1="292.00" y1="771.40" x2="292.00" y2="777.60" stroke="#b8323f" stroke-width="0.9"/>
<path d="M273.80,771.80 A2.7,2.7 0 0 1 273.80,777.20Z" fill="#c4b2d6"/>
<path d="M273.80,771.80 A2.7,2.7 0 0 0 273.80,777.20Z" fill="#4b1d5c"/>
<path d="M279.70,774.50 L282.50,771.70 L285.30,774.50 L282.50,777.30Z" fill="#4474aa"/>
<circle cx="297.00" cy="774.50" r="2.3" fill="#5a3d33"/>
<line x1="282.50" y1="782.50" x2="288.00" y2="782.50" stroke="#b9b6b4" stroke-width="1.2"/>
<line x1="288.00" y1="782.50" x2="297.00" y2="782.50" stroke="#df382c" stroke-width="2.1"/>
<line x1="297.00" y1="782.50" x2="312.00" y2="782.50" stroke="#8e7d76" stroke-width="1.5"/>
<line x1="292.00" y1="779.40" x2="292.00" y2="785.60" stroke="#b8323f" stroke-width="0.9"/>
<path d="M279.70,782.50 L282.50,779.70 L285.30,782.50 L282.50,785.30Z" fill="#4474aa"/>
<circle cx="297.00" cy="782.50" r="2.3" fill="#5a3d33"/>
<line x1="273.80" y1="798.30" x2="288.00" y2="798.30" stroke="#b9b6b4" stroke-width="1.2"/>
<line x1="288.00" y1="798.30" x2="297.00" y2="798.30" stroke="#df382c" stroke-width="2.1"/>
<line x1="297.00" y1="798.30" x2="307.00" y2="798.30" stroke="#8e7d76" stroke-width="1.5"/>
<circle cx="280.90" cy="798.30" r="1.8" fill="#dcecf1"/>
<line x1="292.00" y1="795.20" x2="292.00" y2="801.40" stroke="#b8323f" stroke-width="0.9"/>
<path d="M273.80,795.60 A2.7,2.7 0 0 1 273.80,801.00Z" fill="#c4b2d6"/>
<path d="M273.80,795.60 A2.7,2.7 0 0 0 273.80,801.00Z" fill="#4b1d5c"/>
<path d="M280.70,798.30 L283.50,795.50 L286.30,798.30 L283.50,801.10Z" fill="#4474aa"/>
<circle cx="297.00" cy="798.30" r="2.3" fill="#5a3d33"/>
<line x1="273.80" y1="805.80" x2="288.00" y2="805.80" stroke="#b9b6b4" stroke-width="1.2"/>
<line x1="288.00" y1="805.80" x2="297.00" y2="805.80" stroke="#df382c" stroke-width="2.1"/>
<line x1="297.00" y1="805.80" x2="306.00" y2="805.80" stroke="#8e7d76" stroke-width="1.5"/>
<circle cx="280.90" cy="805.80" r="1.8" fill="#dcecf1"/>
<line x1="292.00" y1="802.70" x2="292.00" y2="808.90" stroke="#b8323f" stroke-width="0.9"/>
<path d="M273.80,803.10 A2.7,2.7 0 0 1 273.80,808.50Z" fill="#c4b2d6"/>
<path d="M273.80,803.10 A2.7,2.7 0 0 0 273.80,808.50Z" fill="#4b1d5c"/>
<path d="M280.70,805.80 L283.50,803.00 L286.30,805.80 L283.50,808.60Z" fill="#4474aa"/>
<circle cx="297.00" cy="805.80" r="2.3" fill="#5a3d33"/>
<line x1="288.00" y1="818.80" x2="297.00" y2="818.80" stroke="#df382c" stroke-width="2.1"/>
<line x1="297.00" y1="818.80" x2="332.00" y2="818.80" stroke="#8e7d76" stroke-width="1.5"/>
<line x1="292.00" y1="815.70" x2="292.00" y2="821.90" stroke="#b8323f" stroke-width="0.9"/>
<circle cx="297.00" cy="818.80" r="2.3" fill="#5a3d33"/>
<circle cx="305.80" cy="818.80" r="2.3" fill="#c8c48a"/>
<line x1="267.00" y1="853.90" x2="277.40" y2="853.90" stroke="#df382c" stroke-width="1.9"/>
<line x1="267.20" y1="851.00" x2="267.20" y2="856.80" stroke="#df382c" stroke-width="1"/>
<line x1="277.20" y1="851.00" x2="277.20" y2="856.80" stroke="#df382c" stroke-width="1"/>
<text x="282.00" y="857.00" font-size="8.6">HPV genome (1 unit)</text>
<line x1="267.00" y1="865.90" x2="277.40" y2="865.90" stroke="#9d9590" stroke-width="1.9"/>
<text x="282.00" y="869.00" font-size="8.6">Host genome</text>
<text x="470.60" y="397.20" font-size="8.7" text-anchor="middle">A9 (<tspan font-style="italic">n</tspan> = 33)</text>
<text x="420.40" y="408.40" font-size="7.9" text-anchor="middle">XD</text>
<text x="431.50" y="408.40" font-size="7.9" text-anchor="middle">5E</text>
<text x="445.00" y="408.40" font-size="7.9" text-anchor="middle">XD</text>
<text x="475.50" y="408.40" font-size="7.9" text-anchor="middle">XD</text>
<text x="493.40" y="408.40" font-size="7.9" text-anchor="middle">XD</text>
<text x="513.80" y="408.40" font-size="7.9" text-anchor="middle">XD</text>
<rect x="421.20" y="411.20" width="5.80" height="4.60" fill="#cdb5d8"/>
<rect x="427.00" y="411.20" width="2.50" height="4.60" fill="#9fd08a"/>
<rect x="429.50" y="411.20" width="3.00" height="4.60" fill="#2f7a35"/>
<rect x="432.50" y="411.20" width="8.70" height="4.60" fill="#dc3434"/>
<rect x="441.20" y="411.20" width="6.80" height="4.60" fill="#cdb5d8"/>
<rect x="448.00" y="411.20" width="24.50" height="4.60" fill="#dc3434"/>
<rect x="472.50" y="411.20" width="7.50" height="4.60" fill="#cdb5d8"/>
<rect x="480.00" y="411.20" width="10.00" height="4.60" fill="#dc3434"/>
<rect x="490.00" y="411.20" width="4.50" height="4.60" fill="#cdb5d8"/>
<rect x="494.50" y="411.20" width="15.00" height="4.60" fill="#dc3434"/>
<rect x="509.50" y="411.20" width="6.70" height="4.60" fill="#cdb5d8"/>
<rect x="516.20" y="411.20" width="3.80" height="4.60" fill="#dc3434"/>
<line x1="451.20" y1="411.40" x2="451.20" y2="415.60" stroke="#a01c1c" stroke-width="0.7"/>
<line x1="462.50" y1="411.40" x2="462.50" y2="415.60" stroke="#a01c1c" stroke-width="0.7"/>
<line x1="501.20" y1="411.40" x2="501.20" y2="415.60" stroke="#a01c1c" stroke-width="0.7"/>
<text x="430.60" y="422.00" font-size="8.5" text-anchor="middle">79</text>
<line x1="420.50" y1="426.50" x2="425.00" y2="426.50" stroke="#9d9590" stroke-width="1.5"/>
<line x1="430.00" y1="426.50" x2="441.00" y2="426.50" stroke="#df382c" stroke-width="2.1"/>
<line x1="441.00" y1="426.50" x2="447.00" y2="426.50" stroke="#b9b6b4" stroke-width="1.2"/>
<line x1="447.00" y1="426.50" x2="472.50" y2="426.50" stroke="#df382c" stroke-width="2.1"/>
<line x1="472.50" y1="426.50" x2="478.00" y2="426.50" stroke="#b9b6b4" stroke-width="1.2"/>
<line x1="481.00" y1="426.50" x2="490.00" y2="426.50" stroke="#df382c" stroke-width="2.1"/>
<line x1="490.00" y1="426.50" x2="498.00" y2="426.50" stroke="#b9b6b4" stroke-width="1.2"/>
<line x1="498.00" y1="426.50" x2="509.50" y2="426.50" stroke="#df382c" stroke-width="2.1"/>
<line x1="509.50" y1="426.50" x2="520.00" y2="426.50" stroke="#b9b6b4" stroke-width="1.2"/>
<circle cx="444.00" cy="426.50" r="1.8" fill="#dcecf1"/>
<circle cx="494.00" cy="426.50" r="1.8" fill="#dcecf1"/>
<circle cx="514.75" cy="426.50" r="1.8" fill="#dcecf1"/>
<line x1="451.20" y1="423.40" x2="451.20" y2="429.60" stroke="#b8323f" stroke-width="0.9"/>
<line x1="462.50" y1="423.40" x2="462.50" y2="429.60" stroke="#b8323f" stroke-width="0.9"/>
<line x1="501.20" y1="423.40" x2="501.20" y2="429.60" stroke="#b8323f" stroke-width="0.9"/>
<circle cx="428.60" cy="426.50" r="2.5" fill="#2f6b35"/>
<circle cx="429.80" cy="426.50" r="2.2" fill="#99d28c"/>
<line x1="431.60" y1="423.50" x2="431.60" y2="429.50" stroke="#d08a4a" stroke-width="0.8"/>
<circle cx="441.00" cy="426.50" r="2.3" fill="#2a2d68"/>
<circle cx="472.50" cy="426.50" r="2.3" fill="#2a2d68"/>
<rect x="477.70" y="424.30" width="3.60" height="4.40" fill="#f4a9b0"/>
<circle cx="490.00" cy="426.50" r="2.3" fill="#2a2d68"/>
<circle cx="509.50" cy="426.50" r="2.3" fill="#2a2d68"/>
<line x1="395.00" y1="435.30" x2="400.50" y2="435.30" stroke="#df382c" stroke-width="2.1"/>
<line x1="400.50" y1="435.30" x2="410.00" y2="435.30" stroke="#b9b6b4" stroke-width="1.2"/>
<line x1="410.00" y1="435.30" x2="420.50" y2="435.30" stroke="#df382c" stroke-width="2.1"/>
<line x1="420.50" y1="435.30" x2="426.00" y2="435.30" stroke="#b9b6b4" stroke-width="1.2"/>
<line x1="431.00" y1="435.30" x2="447.00" y2="435.30" stroke="#df382c" stroke-width="2.1"/>
<circle cx="405.25" cy="435.30" r="1.8" fill="#dcecf1"/>
<line x1="412.50" y1="432.20" x2="412.50" y2="438.40" stroke="#b8323f" stroke-width="0.9"/>
<circle cx="400.50" cy="435.30" r="2.3" fill="#2a2d68"/>
<circle cx="420.50" cy="435.30" r="2.3" fill="#2a2d68"/>
<circle cx="428.60" cy="435.30" r="2.5" fill="#2f6b35"/>
<circle cx="429.80" cy="435.30" r="2.2" fill="#99d28c"/>
<line x1="431.60" y1="432.30" x2="431.60" y2="438.30" stroke="#d08a4a" stroke-width="0.8"/>
<circle cx="441.00" cy="435.30" r="2.3" fill="#2a2d68"/>
<line x1="411.00" y1="443.00" x2="420.50" y2="443.00" stroke="#df382c" stroke-width="2.1"/>
<line x1="420.50" y1="443.00" x2="426.00" y2="443.00" stroke="#b9b6b4" stroke-width="1.2"/>
<line x1="431.00" y1="443.00" x2="441.00" y2="443.00" stroke="#df382c" stroke-width="2.1"/>
<line x1="412.50" y1="439.90" x2="412.50" y2="446.10" stroke="#b8323f" stroke-width="0.9"/>
<circle cx="428.60" cy="443.00" r="2.5" fill="#2f6b35"/>
<circle cx="429.80" cy="443.00" r="2.2" fill="#99d28c"/>
<line x1="431.60" y1="440.00" x2="431.60" y2="446.00" stroke="#d08a4a" stroke-width="0.8"/>
<circle cx="420.50" cy="443.00" r="2.3" fill="#2a2d68"/>
<circle cx="441.00" cy="443.00" r="2.3" fill="#2a2d68"/>
<line x1="415.00" y1="453.30" x2="420.50" y2="453.30" stroke="#df382c" stroke-width="2.1"/>
<line x1="420.50" y1="453.30" x2="426.00" y2="453.30" stroke="#b9b6b4" stroke-width="1.2"/>
<line x1="431.00" y1="453.30" x2="441.00" y2="453.30" stroke="#df382c" stroke-width="2.1"/>
<line x1="441.00" y1="453.30" x2="447.00" y2="453.30" stroke="#b9b6b4" stroke-width="1.2"/>
<circle cx="444.00" cy="453.30" r="1.8" fill="#dcecf1"/>
<circle cx="428.60" cy="453.30" r="2.5" fill="#2f6b35"/>
<circle cx="429.80" cy="453.30" r="2.2" fill="#99d28c"/>
<line x1="431.60" y1="450.30" x2="431.60" y2="456.30" stroke="#d08a4a" stroke-width="0.8"/>
<circle cx="420.50" cy="453.30" r="2.3" fill="#2a2d68"/>
<circle cx="441.00" cy="453.30" r="2.3" fill="#2a2d68"/>
<line x1="421.50" y1="460.50" x2="425.00" y2="460.50" stroke="#9d9590" stroke-width="1.5"/>
<line x1="431.00" y1="460.50" x2="441.00" y2="460.50" stroke="#df382c" stroke-width="2.1"/>
<line x1="441.00" y1="460.50" x2="449.00" y2="460.50" stroke="#b9b6b4" stroke-width="1.2"/>
<line x1="450.50" y1="460.50" x2="455.50" y2="460.50" stroke="#df382c" stroke-width="2.1"/>
<circle cx="445.00" cy="460.50" r="1.8" fill="#dcecf1"/>
<line x1="453.50" y1="457.40" x2="453.50" y2="463.60" stroke="#b8323f" stroke-width="0.9"/>
<circle cx="428.60" cy="460.50" r="2.5" fill="#2f6b35"/>
<circle cx="429.80" cy="460.50" r="2.2" fill="#99d28c"/>
<line x1="431.60" y1="457.50" x2="431.60" y2="463.50" stroke="#d08a4a" stroke-width="0.8"/>
<circle cx="441.00" cy="460.50" r="2.3" fill="#2a2d68"/>
<line x1="431.00" y1="469.30" x2="441.00" y2="469.30" stroke="#df382c" stroke-width="2.1"/>
<line x1="441.00" y1="469.30" x2="447.00" y2="469.30" stroke="#b9b6b4" stroke-width="1.2"/>
<line x1="447.00" y1="469.30" x2="472.50" y2="469.30" stroke="#df382c" stroke-width="2.1"/>
<circle cx="444.00" cy="469.30" r="1.8" fill="#dcecf1"/>
<line x1="451.00" y1="466.20" x2="451.00" y2="472.40" stroke="#b8323f" stroke-width="0.9"/>
<line x1="462.00" y1="466.20" x2="462.00" y2="472.40" stroke="#b8323f" stroke-width="0.9"/>
<circle cx="428.60" cy="469.30" r="2.5" fill="#2f6b35"/>
<circle cx="429.80" cy="469.30" r="2.2" fill="#99d28c"/>
<line x1="431.60" y1="466.30" x2="431.60" y2="472.30" stroke="#d08a4a" stroke-width="0.8"/>
<circle cx="441.00" cy="469.30" r="2.3" fill="#2a2d68"/>
<circle cx="472.50" cy="469.30" r="2.3" fill="#2a2d68"/>
<line x1="431.00" y1="477.30" x2="441.00" y2="477.30" stroke="#df382c" stroke-width="2.1"/>
<line x1="441.00" y1="477.30" x2="447.00" y2="477.30" stroke="#b9b6b4" stroke-width="1.2"/>
<line x1="447.00" y1="477.30" x2="470.80" y2="477.30" stroke="#df382c" stroke-width="2.1"/>
<circle cx="444.00" cy="477.30" r="1.8" fill="#dcecf1"/>
<line x1="451.00" y1="474.20" x2="451.00" y2="480.40" stroke="#b8323f" stroke-width="0.9"/>
<line x1="462.00" y1="474.20" x2="462.00" y2="480.40" stroke="#b8323f" stroke-width="0.9"/>
<circle cx="428.60" cy="477.30" r="2.5" fill="#2f6b35"/>
<circle cx="429.80" cy="477.30" r="2.2" fill="#99d28c"/>
<line x1="431.60" y1="474.30" x2="431.60" y2="480.30" stroke="#d08a4a" stroke-width="0.8"/>
<circle cx="441.00" cy="477.30" r="2.3" fill="#2a2d68"/>
<line x1="431.00" y1="485.50" x2="441.00" y2="485.50" stroke="#df382c" stroke-width="2.1"/>
<line x1="441.00" y1="485.50" x2="447.00" y2="485.50" stroke="#b9b6b4" stroke-width="1.2"/>
<line x1="447.00" y1="485.50" x2="470.80" y2="485.50" stroke="#df382c" stroke-width="2.1"/>
<circle cx="444.00" cy="485.50" r="1.8" fill="#dcecf1"/>
<line x1="451.00" y1="482.40" x2="451.00" y2="488.60" stroke="#b8323f" stroke-width="0.9"/>
<line x1="462.00" y1="482.40" x2="462.00" y2="488.60" stroke="#b8323f" stroke-width="0.9"/>
<circle cx="428.60" cy="485.50" r="2.5" fill="#2f6b35"/>
<circle cx="429.80" cy="485.50" r="2.2" fill="#99d28c"/>
<line x1="431.60" y1="482.50" x2="431.60" y2="488.50" stroke="#d08a4a" stroke-width="0.8"/>
<circle cx="441.00" cy="485.50" r="2.3" fill="#2a2d68"/>
<line x1="421.00" y1="504.50" x2="427.00" y2="504.50" stroke="#df382c" stroke-width="2.1"/>
<line x1="431.00" y1="504.50" x2="441.00" y2="504.50" stroke="#df382c" stroke-width="2.1"/>
<line x1="441.00" y1="504.50" x2="447.00" y2="504.50" stroke="#b9b6b4" stroke-width="1.2"/>
<line x1="447.00" y1="504.50" x2="461.50" y2="504.50" stroke="#df382c" stroke-width="2.1"/>
<circle cx="444.00" cy="504.50" r="1.8" fill="#dcecf1"/>
<line x1="424.00" y1="501.40" x2="424.00" y2="507.60" stroke="#b8323f" stroke-width="0.9"/>
<line x1="451.00" y1="501.40" x2="451.00" y2="507.60" stroke="#b8323f" stroke-width="0.9"/>
<circle cx="428.60" cy="504.50" r="2.5" fill="#2f6b35"/>
<circle cx="429.80" cy="504.50" r="2.2" fill="#99d28c"/>
<line x1="431.60" y1="501.50" x2="431.60" y2="507.50" stroke="#d08a4a" stroke-width="0.8"/>
<circle cx="441.00" cy="504.50" r="2.3" fill="#2a2d68"/>
<circle cx="461.50" cy="504.50" r="2.3" fill="#2a2d68"/>
<line x1="421.00" y1="512.50" x2="427.00" y2="512.50" stroke="#df382c" stroke-width="2.1"/>
<line x1="431.00" y1="512.50" x2="441.00" y2="512.50" stroke="#df382c" stroke-width="2.1"/>
<line x1="441.00" y1="512.50" x2="450.00" y2="512.50" stroke="#b9b6b4" stroke-width="1.2"/>
<line x1="450.00" y1="512.50" x2="460.00" y2="512.50" stroke="#df382c" stroke-width="2.1"/>
<circle cx="445.50" cy="512.50" r="1.8" fill="#dcecf1"/>
<line x1="424.00" y1="509.40" x2="424.00" y2="515.60" stroke="#b8323f" stroke-width="0.9"/>
<line x1="453.00" y1="509.40" x2="453.00" y2="515.60" stroke="#b8323f" stroke-width="0.9"/>
<circle cx="428.60" cy="512.50" r="2.5" fill="#2f6b35"/>
<circle cx="429.80" cy="512.50" r="2.2" fill="#99d28c"/>
<line x1="431.60" y1="509.50" x2="431.60" y2="515.50" stroke="#d08a4a" stroke-width="0.8"/>
<circle cx="441.00" cy="512.50" r="2.3" fill="#2a2d68"/>
<line x1="405.50" y1="529.40" x2="409.20" y2="529.40" stroke="#df382c" stroke-width="2.1"/>
<line x1="409.20" y1="529.40" x2="420.00" y2="529.40" stroke="#b9b6b4" stroke-width="1.2"/>
<line x1="420.00" y1="529.40" x2="426.00" y2="529.40" stroke="#b9b6b4" stroke-width="1.2"/>
<line x1="431.00" y1="529.40" x2="441.00" y2="529.40" stroke="#df382c" stroke-width="2.1"/>
<line x1="441.00" y1="529.40" x2="466.00" y2="529.40" stroke="#b9b6b4" stroke-width="1.2"/>
<line x1="469.00" y1="529.40" x2="480.00" y2="529.40" stroke="#df382c" stroke-width="2.1"/>
<circle cx="414.60" cy="529.40" r="1.8" fill="#dcecf1"/>
<circle cx="423.00" cy="529.40" r="1.8" fill="#dcecf1"/>
<circle cx="453.50" cy="529.40" r="1.8" fill="#dcecf1"/>
<circle cx="409.20" cy="529.40" r="2.3" fill="#2a2d68"/>
<circle cx="420.00" cy="529.40" r="2.3" fill="#2a2d68"/>
<circle cx="428.60" cy="529.40" r="2.5" fill="#2f6b35"/>
<circle cx="429.80" cy="529.40" r="2.2" fill="#99d28c"/>
<line x1="431.60" y1="526.40" x2="431.60" y2="532.40" stroke="#d08a4a" stroke-width="0.8"/>
<circle cx="441.00" cy="529.40" r="2.3" fill="#2a2d68"/>
<circle cx="448.50" cy="529.40" r="2.5" fill="#4fa4b3"/>
<circle cx="450.20" cy="529.40" r="2.2" fill="#c2e4e6"/>
<circle cx="457.10" cy="529.40" r="2.5" fill="#4fa4b3"/>
<circle cx="458.30" cy="529.40" r="2.2" fill="#a7d7e6"/>
<circle cx="467.60" cy="529.40" r="2.5" fill="#2f6b35"/>
<circle cx="468.80" cy="529.40" r="2.2" fill="#99d28c"/>
<line x1="470.60" y1="526.40" x2="470.60" y2="532.40" stroke="#d08a4a" stroke-width="0.8"/>
<circle cx="480.00" cy="529.40" r="2.3" fill="#2a2d68"/>
<line x1="424.60" y1="537.70" x2="427.00" y2="537.70" stroke="#9d9590" stroke-width="1.5"/>
<line x1="431.00" y1="537.70" x2="441.00" y2="537.70" stroke="#df382c" stroke-width="2.1"/>
<line x1="441.00" y1="537.70" x2="466.00" y2="537.70" stroke="#b9b6b4" stroke-width="1.2"/>
<line x1="469.00" y1="537.70" x2="478.50" y2="537.70" stroke="#df382c" stroke-width="2.1"/>
<circle cx="453.50" cy="537.70" r="1.8" fill="#dcecf1"/>
<circle cx="428.60" cy="537.70" r="2.5" fill="#2f6b35"/>
<circle cx="429.80" cy="537.70" r="2.2" fill="#99d28c"/>
<line x1="431.60" y1="534.70" x2="431.60" y2="540.70" stroke="#d08a4a" stroke-width="0.8"/>
<circle cx="441.00" cy="537.70" r="2.3" fill="#2a2d68"/>
<circle cx="448.50" cy="537.70" r="2.5" fill="#4fa4b3"/>
<circle cx="450.20" cy="537.70" r="2.2" fill="#c2e4e6"/>
<circle cx="457.10" cy="537.70" r="2.5" fill="#4fa4b3"/>
<circle cx="458.30" cy="537.70" r="2.2" fill="#a7d7e6"/>
<circle cx="467.60" cy="537.70" r="2.5" fill="#2f6b35"/>
<circle cx="468.80" cy="537.70" r="2.2" fill="#99d28c"/>
<line x1="470.60" y1="534.70" x2="470.60" y2="540.70" stroke="#d08a4a" stroke-width="0.8"/>
<line x1="424.60" y1="544.50" x2="427.00" y2="544.50" stroke="#9d9590" stroke-width="1.5"/>
<line x1="431.00" y1="544.50" x2="441.00" y2="544.50" stroke="#df382c" stroke-width="2.1"/>
<line x1="441.00" y1="544.50" x2="466.00" y2="544.50" stroke="#b9b6b4" stroke-width="1.2"/>
<circle cx="453.50" cy="544.50" r="1.8" fill="#dcecf1"/>
<circle cx="428.60" cy="544.50" r="2.5" fill="#2f6b35"/>
<circle cx="429.80" cy="544.50" r="2.2" fill="#99d28c"/>
<line x1="431.60" y1="541.50" x2="431.60" y2="547.50" stroke="#d08a4a" stroke-width="0.8"/>
<circle cx="441.00" cy="544.50" r="2.3" fill="#2a2d68"/>
<circle cx="448.50" cy="544.50" r="2.5" fill="#4fa4b3"/>
<circle cx="450.20" cy="544.50" r="2.2" fill="#c2e4e6"/>
<circle cx="457.10" cy="544.50" r="2.5" fill="#4fa4b3"/>
<circle cx="458.30" cy="544.50" r="2.2" fill="#a7d7e6"/>
<circle cx="467.60" cy="544.50" r="2.5" fill="#2f6b35"/>
<circle cx="468.80" cy="544.50" r="2.2" fill="#99d28c"/>
<line x1="470.60" y1="541.50" x2="470.60" y2="547.50" stroke="#d08a4a" stroke-width="0.8"/>
<line x1="413.00" y1="565.40" x2="418.50" y2="565.40" stroke="#9d9590" stroke-width="1.5"/>
<line x1="418.50" y1="565.40" x2="426.00" y2="565.40" stroke="#b9b6b4" stroke-width="1.2"/>
<line x1="431.00" y1="565.40" x2="441.00" y2="565.40" stroke="#df382c" stroke-width="2.1"/>
<line x1="441.00" y1="565.40" x2="447.00" y2="565.40" stroke="#b9b6b4" stroke-width="1.2"/>
<line x1="451.00" y1="565.40" x2="461.00" y2="565.40" stroke="#df382c" stroke-width="2.1"/>
<circle cx="422.25" cy="565.40" r="1.8" fill="#dcecf1"/>
<circle cx="444.00" cy="565.40" r="1.8" fill="#dcecf1"/>
<circle cx="417.80" cy="565.40" r="2.5" fill="#4fa4b3"/>
<circle cx="419.50" cy="565.40" r="2.2" fill="#d3ece8"/>
<circle cx="428.60" cy="565.40" r="2.5" fill="#2f6b35"/>
<circle cx="429.80" cy="565.40" r="2.2" fill="#99d28c"/>
<line x1="431.60" y1="562.40" x2="431.60" y2="568.40" stroke="#d08a4a" stroke-width="0.8"/>
<circle cx="441.00" cy="565.40" r="2.3" fill="#2a2d68"/>
<circle cx="449.10" cy="565.40" r="2.5" fill="#2f6b35"/>
<circle cx="450.30" cy="565.40" r="2.2" fill="#99d28c"/>
<line x1="452.10" y1="562.40" x2="452.10" y2="568.40" stroke="#d08a4a" stroke-width="0.8"/>
<circle cx="461.00" cy="565.40" r="2.3" fill="#2a2d68"/>
<line x1="421.00" y1="573.70" x2="426.00" y2="573.70" stroke="#9d9590" stroke-width="1.5"/>
<line x1="431.00" y1="573.70" x2="441.00" y2="573.70" stroke="#df382c" stroke-width="2.1"/>
<line x1="441.00" y1="573.70" x2="447.00" y2="573.70" stroke="#b9b6b4" stroke-width="1.2"/>
<line x1="451.00" y1="573.70" x2="461.00" y2="573.70" stroke="#df382c" stroke-width="2.1"/>
<circle cx="444.00" cy="573.70" r="1.8" fill="#dcecf1"/>
<circle cx="428.60" cy="573.70" r="2.5" fill="#2f6b35"/>
<circle cx="429.80" cy="573.70" r="2.2" fill="#99d28c"/>
<line x1="431.60" y1="570.70" x2="431.60" y2="576.70" stroke="#d08a4a" stroke-width="0.8"/>
<circle cx="441.00" cy="573.70" r="2.3" fill="#2a2d68"/>
<circle cx="449.10" cy="573.70" r="2.5" fill="#2f6b35"/>
<circle cx="450.30" cy="573.70" r="2.2" fill="#99d28c"/>
<line x1="452.10" y1="570.70" x2="452.10" y2="576.70" stroke="#d08a4a" stroke-width="0.8"/>
<line x1="431.00" y1="581.70" x2="441.00" y2="581.70" stroke="#df382c" stroke-width="2.1"/>
<line x1="441.00" y1="581.70" x2="447.00" y2="581.70" stroke="#b9b6b4" stroke-width="1.2"/>
<line x1="451.00" y1="581.70" x2="461.00" y2="581.70" stroke="#df382c" stroke-width="2.1"/>
<line x1="461.00" y1="581.70" x2="468.00" y2="581.70" stroke="#b9b6b4" stroke-width="1.2"/>
<circle cx="444.00" cy="581.70" r="1.8" fill="#dcecf1"/>
<circle cx="464.50" cy="581.70" r="1.8" fill="#dcecf1"/>
<circle cx="428.60" cy="581.70" r="2.5" fill="#2f6b35"/>
<circle cx="429.80" cy="581.70" r="2.2" fill="#99d28c"/>
<line x1="431.60" y1="578.70" x2="431.60" y2="584.70" stroke="#d08a4a" stroke-width="0.8"/>
<circle cx="441.00" cy="581.70" r="2.3" fill="#2a2d68"/>
<circle cx="449.10" cy="581.70" r="2.5" fill="#2f6b35"/>
<circle cx="450.30" cy="581.70" r="2.2" fill="#99d28c"/>
<line x1="452.10" y1="578.70" x2="452.10" y2="584.70" stroke="#d08a4a" stroke-width="0.8"/>
<circle cx="461.00" cy="581.70" r="2.3" fill="#2a2d68"/>
<circle cx="470.70" cy="581.70" r="2.5" fill="#2f6b35"/>
<circle cx="471.90" cy="581.70" r="2.2" fill="#99d28c"/>
<line x1="473.70" y1="578.70" x2="473.70" y2="584.70" stroke="#d08a4a" stroke-width="0.8"/>
<line x1="404.60" y1="599.80" x2="423.00" y2="599.80" stroke="#9d9590" stroke-width="1.5"/>
<line x1="431.00" y1="599.80" x2="437.50" y2="599.80" stroke="#df382c" stroke-width="2.1"/>
<circle cx="422.30" cy="599.80" r="2.5" fill="#d9bde0"/>
<circle cx="424.00" cy="599.80" r="2.2" fill="#efe4f1"/>
<circle cx="428.60" cy="599.80" r="2.5" fill="#2f6b35"/>
<circle cx="429.80" cy="599.80" r="2.2" fill="#99d28c"/>
<line x1="431.60" y1="596.80" x2="431.60" y2="602.80" stroke="#d08a4a" stroke-width="0.8"/>
<line x1="414.80" y1="607.00" x2="423.00" y2="607.00" stroke="#9d9590" stroke-width="1.5"/>
<line x1="431.00" y1="607.00" x2="441.00" y2="607.00" stroke="#df382c" stroke-width="2.1"/>
<circle cx="422.30" cy="607.00" r="2.5" fill="#d9bde0"/>
<circle cx="424.00" cy="607.00" r="2.2" fill="#efe4f1"/>
<circle cx="428.60" cy="607.00" r="2.5" fill="#2f6b35"/>
<circle cx="429.80" cy="607.00" r="2.2" fill="#99d28c"/>
<line x1="431.60" y1="604.00" x2="431.60" y2="610.00" stroke="#d08a4a" stroke-width="0.8"/>
<circle cx="441.00" cy="607.00" r="2.3" fill="#2a2d68"/>
<line x1="431.00" y1="615.50" x2="441.00" y2="615.50" stroke="#df382c" stroke-width="2.1"/>
<line x1="441.00" y1="615.50" x2="447.00" y2="615.50" stroke="#b9b6b4" stroke-width="1.2"/>
<line x1="451.00" y1="615.50" x2="470.80" y2="615.50" stroke="#df382c" stroke-width="2.1"/>
<line x1="470.80" y1="615.50" x2="478.00" y2="615.50" stroke="#b9b6b4" stroke-width="1.2"/>
<line x1="483.00" y1="615.50" x2="486.80" y2="615.50" stroke="#df382c" stroke-width="2.1"/>
<circle cx="444.00" cy="615.50" r="1.8" fill="#dcecf1"/>
<circle cx="474.40" cy="615.50" r="1.8" fill="#dcecf1"/>
<line x1="460.00" y1="612.40" x2="460.00" y2="618.60" stroke="#b8323f" stroke-width="0.9"/>
<circle cx="422.30" cy="615.50" r="2.5" fill="#d9bde0"/>
<circle cx="424.00" cy="615.50" r="2.2" fill="#efe4f1"/>
<circle cx="428.60" cy="615.50" r="2.5" fill="#2f6b35"/>
<circle cx="429.80" cy="615.50" r="2.2" fill="#99d28c"/>
<line x1="431.60" y1="612.50" x2="431.60" y2="618.50" stroke="#d08a4a" stroke-width="0.8"/>
<circle cx="441.00" cy="615.50" r="2.3" fill="#2a2d68"/>
<circle cx="449.10" cy="615.50" r="2.5" fill="#2f6b35"/>
<circle cx="450.30" cy="615.50" r="2.2" fill="#99d28c"/>
<line x1="452.10" y1="612.50" x2="452.10" y2="618.50" stroke="#d08a4a" stroke-width="0.8"/>
<circle cx="470.80" cy="615.50" r="2.3" fill="#2a2d68"/>
<circle cx="480.30" cy="615.50" r="2.5" fill="#2f6b35"/>
<circle cx="481.50" cy="615.50" r="2.2" fill="#99d28c"/>
<line x1="483.30" y1="612.50" x2="483.30" y2="618.50" stroke="#d08a4a" stroke-width="0.8"/>
<line x1="401.50" y1="635.50" x2="409.20" y2="635.50" stroke="#9d9590" stroke-width="1.5"/>
<line x1="409.20" y1="635.50" x2="426.00" y2="635.50" stroke="#b9b6b4" stroke-width="1.2"/>
<line x1="431.00" y1="635.50" x2="441.00" y2="635.50" stroke="#df382c" stroke-width="2.1"/>
<line x1="441.00" y1="635.50" x2="447.00" y2="635.50" stroke="#b9b6b4" stroke-width="1.2"/>
<circle cx="417.60" cy="635.50" r="1.8" fill="#dcecf1"/>
<circle cx="444.00" cy="635.50" r="1.8" fill="#dcecf1"/>
<circle cx="408.50" cy="635.50" r="2.5" fill="#4fa4b3"/>
<circle cx="410.20" cy="635.50" r="2.2" fill="#c2e4e6"/>
<circle cx="418.30" cy="635.50" r="2.5" fill="#4fa4b3"/>
<circle cx="419.50" cy="635.50" r="2.2" fill="#a7d7e6"/>
<circle cx="428.60" cy="635.50" r="2.5" fill="#2f6b35"/>
<circle cx="429.80" cy="635.50" r="2.2" fill="#99d28c"/>
<line x1="431.60" y1="632.50" x2="431.60" y2="638.50" stroke="#d08a4a" stroke-width="0.8"/>
<circle cx="441.00" cy="635.50" r="2.3" fill="#2a2d68"/>
<line x1="404.60" y1="644.80" x2="409.20" y2="644.80" stroke="#9d9590" stroke-width="1.5"/>
<line x1="409.20" y1="644.80" x2="426.00" y2="644.80" stroke="#b9b6b4" stroke-width="1.2"/>
<line x1="431.00" y1="644.80" x2="441.50" y2="644.80" stroke="#df382c" stroke-width="2.1"/>
<circle cx="417.60" cy="644.80" r="1.8" fill="#dcecf1"/>
<circle cx="408.50" cy="644.80" r="2.5" fill="#4fa4b3"/>
<circle cx="410.20" cy="644.80" r="2.2" fill="#c2e4e6"/>
<circle cx="418.30" cy="644.80" r="2.5" fill="#4fa4b3"/>
<circle cx="419.50" cy="644.80" r="2.2" fill="#a7d7e6"/>
<circle cx="428.60" cy="644.80" r="2.5" fill="#2f6b35"/>
<circle cx="429.80" cy="644.80" r="2.2" fill="#99d28c"/>
<line x1="431.60" y1="641.80" x2="431.60" y2="647.80" stroke="#d08a4a" stroke-width="0.8"/>
<line x1="404.60" y1="666.00" x2="413.00" y2="666.00" stroke="#df382c" stroke-width="2.1"/>
<line x1="413.00" y1="666.00" x2="426.00" y2="666.00" stroke="#b9b6b4" stroke-width="1.2"/>
<line x1="431.00" y1="666.00" x2="441.00" y2="666.00" stroke="#df382c" stroke-width="2.1"/>
<line x1="441.00" y1="666.00" x2="447.00" y2="666.00" stroke="#b9b6b4" stroke-width="1.2"/>
<line x1="451.00" y1="666.00" x2="461.00" y2="666.00" stroke="#df382c" stroke-width="2.1"/>
<circle cx="419.50" cy="666.00" r="1.8" fill="#dcecf1"/>
<circle cx="444.00" cy="666.00" r="1.8" fill="#dcecf1"/>
<circle cx="413.00" cy="666.00" r="2.3" fill="#2a2d68"/>
<circle cx="420.80" cy="666.00" r="2.5" fill="#4fa4b3"/>
<circle cx="422.50" cy="666.00" r="2.2" fill="#c2e4e6"/>
<circle cx="428.60" cy="666.00" r="2.5" fill="#2f6b35"/>
<circle cx="429.80" cy="666.00" r="2.2" fill="#99d28c"/>
<line x1="431.60" y1="663.00" x2="431.60" y2="669.00" stroke="#d08a4a" stroke-width="0.8"/>
<circle cx="441.00" cy="666.00" r="2.3" fill="#2a2d68"/>
<circle cx="449.10" cy="666.00" r="2.5" fill="#2f6b35"/>
<circle cx="450.30" cy="666.00" r="2.2" fill="#99d28c"/>
<line x1="452.10" y1="663.00" x2="452.10" y2="669.00" stroke="#d08a4a" stroke-width="0.8"/>
<circle cx="461.00" cy="666.00" r="2.3" fill="#2a2d68"/>
<line x1="402.00" y1="674.60" x2="413.00" y2="674.60" stroke="#df382c" stroke-width="2.1"/>
<line x1="413.00" y1="674.60" x2="426.00" y2="674.60" stroke="#b9b6b4" stroke-width="1.2"/>
<line x1="431.00" y1="674.60" x2="441.00" y2="674.60" stroke="#df382c" stroke-width="2.1"/>
<line x1="441.00" y1="674.60" x2="449.00" y2="674.60" stroke="#b9b6b4" stroke-width="1.2"/>
<line x1="450.00" y1="674.60" x2="452.00" y2="674.60" stroke="#df382c" stroke-width="2.1"/>
<circle cx="419.50" cy="674.60" r="1.8" fill="#dcecf1"/>
<circle cx="445.00" cy="674.60" r="1.8" fill="#dcecf1"/>
<circle cx="400.80" cy="674.60" r="2.5" fill="#2f6b35"/>
<circle cx="402.00" cy="674.60" r="2.2" fill="#99d28c"/>
<line x1="403.80" y1="671.60" x2="403.80" y2="677.60" stroke="#d08a4a" stroke-width="0.8"/>
<circle cx="413.00" cy="674.60" r="2.3" fill="#2a2d68"/>
<circle cx="420.80" cy="674.60" r="2.5" fill="#4fa4b3"/>
<circle cx="422.50" cy="674.60" r="2.2" fill="#c2e4e6"/>
<circle cx="428.60" cy="674.60" r="2.5" fill="#2f6b35"/>
<circle cx="429.80" cy="674.60" r="2.2" fill="#99d28c"/>
<line x1="431.60" y1="671.60" x2="431.60" y2="677.60" stroke="#d08a4a" stroke-width="0.8"/>
<circle cx="441.00" cy="674.60" r="2.3" fill="#2a2d68"/>
<line x1="406.00" y1="692.20" x2="420.60" y2="692.20" stroke="#df382c" stroke-width="2.1"/>
<line x1="420.60" y1="692.20" x2="426.00" y2="692.20" stroke="#b9b6b4" stroke-width="1.2"/>
<line x1="431.00" y1="692.20" x2="450.80" y2="692.20" stroke="#df382c" stroke-width="2.1"/>
<line x1="450.80" y1="692.20" x2="460.00" y2="692.20" stroke="#b9b6b4" stroke-width="1.2"/>
<line x1="460.00" y1="692.20" x2="471.40" y2="692.20" stroke="#df382c" stroke-width="2.1"/>
<line x1="471.40" y1="692.20" x2="477.00" y2="692.20" stroke="#b9b6b4" stroke-width="1.2"/>
<circle cx="455.40" cy="692.20" r="1.8" fill="#dcecf1"/>
<line x1="410.00" y1="689.10" x2="410.00" y2="695.30" stroke="#b8323f" stroke-width="0.9"/>
<line x1="440.00" y1="689.10" x2="440.00" y2="695.30" stroke="#b8323f" stroke-width="0.9"/>
<line x1="463.00" y1="689.10" x2="463.00" y2="695.30" stroke="#b8323f" stroke-width="0.9"/>
<circle cx="420.60" cy="692.20" r="2.3" fill="#2a2d68"/>
<circle cx="428.60" cy="692.20" r="2.5" fill="#2f6b35"/>
<circle cx="429.80" cy="692.20" r="2.2" fill="#99d28c"/>
<line x1="431.60" y1="689.20" x2="431.60" y2="695.20" stroke="#d08a4a" stroke-width="0.8"/>
<circle cx="450.80" cy="692.20" r="2.3" fill="#2a2d68"/>
<circle cx="471.40" cy="692.20" r="2.3" fill="#2a2d68"/>
<line x1="411.70" y1="707.00" x2="420.60" y2="707.00" stroke="#df382c" stroke-width="2.1"/>
<line x1="420.60" y1="707.00" x2="426.00" y2="707.00" stroke="#b9b6b4" stroke-width="1.2"/>
<line x1="431.00" y1="707.00" x2="441.00" y2="707.00" stroke="#df382c" stroke-width="2.1"/>
<line x1="441.00" y1="707.00" x2="455.00" y2="707.00" stroke="#b9b6b4" stroke-width="1.2"/>
<circle cx="448.00" cy="707.00" r="1.8" fill="#dcecf1"/>
<circle cx="420.60" cy="707.00" r="2.3" fill="#2a2d68"/>
<circle cx="428.60" cy="707.00" r="2.5" fill="#2f6b35"/>
<circle cx="429.80" cy="707.00" r="2.2" fill="#99d28c"/>
<line x1="431.60" y1="704.00" x2="431.60" y2="710.00" stroke="#d08a4a" stroke-width="0.8"/>
<circle cx="441.00" cy="707.00" r="2.3" fill="#2a2d68"/>
<circle cx="447.90" cy="707.00" r="2.5" fill="#4fa4b3"/>
<circle cx="449.60" cy="707.00" r="2.2" fill="#c2e4e6"/>
<line x1="413.80" y1="722.30" x2="420.00" y2="722.30" stroke="#b9b6b4" stroke-width="1.2"/>
<line x1="420.00" y1="722.30" x2="427.00" y2="722.30" stroke="#df382c" stroke-width="2.1"/>
<line x1="431.00" y1="722.30" x2="441.00" y2="722.30" stroke="#df382c" stroke-width="2.1"/>
<line x1="441.00" y1="722.30" x2="448.00" y2="722.30" stroke="#b9b6b4" stroke-width="1.2"/>
<circle cx="416.90" cy="722.30" r="1.8" fill="#dcecf1"/>
<circle cx="444.50" cy="722.30" r="1.8" fill="#dcecf1"/>
<line x1="421.00" y1="719.20" x2="421.00" y2="725.40" stroke="#b8323f" stroke-width="0.9"/>
<circle cx="428.60" cy="722.30" r="2.5" fill="#2f6b35"/>
<circle cx="429.80" cy="722.30" r="2.2" fill="#99d28c"/>
<line x1="431.60" y1="719.30" x2="431.60" y2="725.30" stroke="#d08a4a" stroke-width="0.8"/>
<circle cx="441.00" cy="722.30" r="2.3" fill="#2a2d68"/>
<circle cx="447.90" cy="722.30" r="2.5" fill="#4fa4b3"/>
<circle cx="449.60" cy="722.30" r="2.2" fill="#c2e4e6"/>
<line x1="385.00" y1="739.20" x2="389.80" y2="739.20" stroke="#b9b6b4" stroke-width="1.2"/>
<line x1="389.80" y1="739.20" x2="400.00" y2="739.20" stroke="#b9b6b4" stroke-width="1.2"/>
<line x1="400.00" y1="739.20" x2="409.20" y2="739.20" stroke="#df382c" stroke-width="2.1"/>
<line x1="409.20" y1="739.20" x2="418.00" y2="739.20" stroke="#b9b6b4" stroke-width="1.2"/>
<line x1="418.00" y1="739.20" x2="427.00" y2="739.20" stroke="#df382c" stroke-width="2.1"/>
<circle cx="394.90" cy="739.20" r="1.8" fill="#dcecf1"/>
<circle cx="413.60" cy="739.20" r="1.8" fill="#dcecf1"/>
<line x1="405.00" y1="736.10" x2="405.00" y2="742.30" stroke="#b8323f" stroke-width="0.9"/>
<line x1="422.00" y1="736.10" x2="422.00" y2="742.30" stroke="#b8323f" stroke-width="0.9"/>
<circle cx="389.80" cy="739.20" r="2.3" fill="#2a2d68"/>
<circle cx="409.20" cy="739.20" r="2.3" fill="#2a2d68"/>
<circle cx="428.60" cy="739.20" r="2.5" fill="#2f6b35"/>
<circle cx="429.80" cy="739.20" r="2.2" fill="#99d28c"/>
<line x1="431.60" y1="736.20" x2="431.60" y2="742.20" stroke="#d08a4a" stroke-width="0.8"/>
<line x1="361.40" y1="753.90" x2="380.00" y2="753.90" stroke="#df382c" stroke-width="2.1"/>
<line x1="380.00" y1="753.90" x2="390.00" y2="753.90" stroke="#b9b6b4" stroke-width="1.2"/>
<line x1="390.00" y1="753.90" x2="410.50" y2="753.90" stroke="#df382c" stroke-width="2.1"/>
<line x1="410.50" y1="753.90" x2="419.00" y2="753.90" stroke="#b9b6b4" stroke-width="1.2"/>
<line x1="419.00" y1="753.90" x2="427.00" y2="753.90" stroke="#df382c" stroke-width="2.1"/>
<circle cx="385.00" cy="753.90" r="1.8" fill="#dcecf1"/>
<circle cx="414.75" cy="753.90" r="1.8" fill="#dcecf1"/>
<line x1="364.00" y1="750.80" x2="364.00" y2="757.00" stroke="#b8323f" stroke-width="0.9"/>
<line x1="372.00" y1="750.80" x2="372.00" y2="757.00" stroke="#b8323f" stroke-width="0.9"/>
<line x1="395.00" y1="750.80" x2="395.00" y2="757.00" stroke="#b8323f" stroke-width="0.9"/>
<line x1="402.00" y1="750.80" x2="402.00" y2="757.00" stroke="#b8323f" stroke-width="0.9"/>
<line x1="422.00" y1="750.80" x2="422.00" y2="757.00" stroke="#b8323f" stroke-width="0.9"/>
<circle cx="380.00" cy="753.90" r="2.3" fill="#2a2d68"/>
<circle cx="410.50" cy="753.90" r="2.3" fill="#2a2d68"/>
<circle cx="428.60" cy="753.90" r="2.5" fill="#2f6b35"/>
<circle cx="429.80" cy="753.90" r="2.2" fill="#99d28c"/>
<line x1="431.60" y1="750.90" x2="431.60" y2="756.90" stroke="#d08a4a" stroke-width="0.8"/>
<text x="472.60" y="784.00" font-size="8.7" text-anchor="middle">A10 (<tspan font-style="italic">n</tspan> = 10)</text>
<text x="448.10" y="793.60" font-size="8.2" text-anchor="middle">XD</text>
<text x="464.40" y="793.60" font-size="8.2" text-anchor="middle">5G</text>
<text x="487.30" y="793.60" font-size="8.2" text-anchor="middle">XD</text>
<rect x="434.30" y="796.40" width="13.70" height="4.60" fill="#dc3434"/>
<rect x="448.00" y="796.40" width="6.00" height="4.60" fill="#cdb5d8"/>
<rect x="454.00" y="796.40" width="18.60" height="4.60" fill="#9a5e34"/>
<rect x="472.60" y="796.40" width="11.40" height="4.60" fill="#dc3434"/>
<rect x="484.00" y="796.40" width="6.00" height="4.60" fill="#cdb5d8"/>
<rect x="490.00" y="796.40" width="22.80" height="4.60" fill="#dc3434"/>
<line x1="438.20" y1="796.60" x2="438.20" y2="800.80" stroke="#a01c1c" stroke-width="0.7"/>
<line x1="495.00" y1="796.60" x2="495.00" y2="800.80" stroke="#a01c1c" stroke-width="0.7"/>
<line x1="505.00" y1="796.60" x2="505.00" y2="800.80" stroke="#a01c1c" stroke-width="0.7"/>
<text x="456.50" y="807.60" font-size="8.5" text-anchor="middle">10</text>
<text x="471.00" y="807.60" font-size="8.5" text-anchor="middle">11</text>
<line x1="434.30" y1="812.60" x2="447.40" y2="812.60" stroke="#df382c" stroke-width="2.1"/>
<line x1="447.40" y1="812.60" x2="456.20" y2="812.60" stroke="#b9b6b4" stroke-width="1.2"/>
<line x1="456.20" y1="812.60" x2="470.50" y2="812.60" stroke="#9d9590" stroke-width="1.5"/>
<line x1="470.50" y1="812.60" x2="484.00" y2="812.60" stroke="#df382c" stroke-width="2.1"/>
<line x1="484.00" y1="812.60" x2="488.00" y2="812.60" stroke="#b9b6b4" stroke-width="1.2"/>
<line x1="488.00" y1="812.60" x2="511.80" y2="812.60" stroke="#df382c" stroke-width="2.1"/>
<circle cx="451.80" cy="812.60" r="1.8" fill="#dcecf1"/>
<line x1="438.20" y1="809.50" x2="438.20" y2="815.70" stroke="#b8323f" stroke-width="0.9"/>
<line x1="495.00" y1="809.50" x2="495.00" y2="815.70" stroke="#b8323f" stroke-width="0.9"/>
<line x1="505.00" y1="809.50" x2="505.00" y2="815.70" stroke="#b8323f" stroke-width="0.9"/>
<line x1="511.80" y1="809.50" x2="511.80" y2="815.70" stroke="#b8323f" stroke-width="0.9"/>
<circle cx="447.40" cy="812.60" r="2.3" fill="#2a2d68"/>
<circle cx="456.20" cy="812.60" r="2.3" fill="#5f8058"/>
<circle cx="470.50" cy="812.60" r="2.3" fill="#a9c47c"/>
<circle cx="484.00" cy="812.60" r="2.3" fill="#2a2d68"/>
<line x1="431.00" y1="821.10" x2="447.40" y2="821.10" stroke="#df382c" stroke-width="2.1"/>
<line x1="447.40" y1="821.10" x2="456.20" y2="821.10" stroke="#b9b6b4" stroke-width="1.2"/>
<line x1="456.20" y1="821.10" x2="470.50" y2="821.10" stroke="#9d9590" stroke-width="1.5"/>
<line x1="471.00" y1="821.10" x2="484.00" y2="821.10" stroke="#df382c" stroke-width="2.1"/>
<line x1="484.00" y1="821.10" x2="488.00" y2="821.10" stroke="#b9b6b4" stroke-width="1.2"/>
<line x1="488.00" y1="821.10" x2="495.50" y2="821.10" stroke="#df382c" stroke-width="2.1"/>
<circle cx="451.80" cy="821.10" r="1.8" fill="#dcecf1"/>
<line x1="438.20" y1="818.00" x2="438.20" y2="824.20" stroke="#b8323f" stroke-width="0.9"/>
<line x1="492.00" y1="818.00" x2="492.00" y2="824.20" stroke="#b8323f" stroke-width="0.9"/>
<circle cx="447.40" cy="821.10" r="2.3" fill="#2a2d68"/>
<circle cx="456.20" cy="821.10" r="2.3" fill="#5f8058"/>
<circle cx="470.50" cy="821.10" r="2.3" fill="#a9c47c"/>
<circle cx="484.00" cy="821.10" r="2.3" fill="#2a2d68"/>
<line x1="432.70" y1="829.50" x2="447.40" y2="829.50" stroke="#df382c" stroke-width="2.1"/>
<line x1="447.40" y1="829.50" x2="456.20" y2="829.50" stroke="#b9b6b4" stroke-width="1.2"/>
<line x1="456.20" y1="829.50" x2="470.50" y2="829.50" stroke="#9d9590" stroke-width="1.5"/>
<line x1="471.00" y1="829.50" x2="474.00" y2="829.50" stroke="#df382c" stroke-width="2.1"/>
<circle cx="451.80" cy="829.50" r="1.8" fill="#dcecf1"/>
<line x1="438.20" y1="826.40" x2="438.20" y2="832.60" stroke="#b8323f" stroke-width="0.9"/>
<circle cx="447.40" cy="829.50" r="2.3" fill="#2a2d68"/>
<circle cx="456.20" cy="829.50" r="2.3" fill="#5f8058"/>
<circle cx="470.50" cy="829.50" r="2.3" fill="#a9c47c"/>
<line x1="420.30" y1="837.70" x2="428.00" y2="837.70" stroke="#b9b6b4" stroke-width="1.2"/>
<line x1="428.00" y1="837.70" x2="447.40" y2="837.70" stroke="#df382c" stroke-width="2.1"/>
<line x1="447.40" y1="837.70" x2="456.20" y2="837.70" stroke="#b9b6b4" stroke-width="1.2"/>
<line x1="456.20" y1="837.70" x2="470.50" y2="837.70" stroke="#9d9590" stroke-width="1.5"/>
<circle cx="424.15" cy="837.70" r="1.8" fill="#dcecf1"/>
<circle cx="451.80" cy="837.70" r="1.8" fill="#dcecf1"/>
<line x1="428.20" y1="834.60" x2="428.20" y2="840.80" stroke="#b8323f" stroke-width="0.9"/>
<line x1="438.20" y1="834.60" x2="438.20" y2="840.80" stroke="#b8323f" stroke-width="0.9"/>
<circle cx="447.40" cy="837.70" r="2.3" fill="#2a2d68"/>
<circle cx="456.20" cy="837.70" r="2.3" fill="#5f8058"/>
<circle cx="470.50" cy="837.70" r="2.3" fill="#a9c47c"/>
<line x1="416.90" y1="845.40" x2="426.00" y2="845.40" stroke="#b9b6b4" stroke-width="1.2"/>
<line x1="426.00" y1="845.40" x2="447.40" y2="845.40" stroke="#df382c" stroke-width="2.1"/>
<line x1="447.40" y1="845.40" x2="456.20" y2="845.40" stroke="#b9b6b4" stroke-width="1.2"/>
<line x1="456.20" y1="845.40" x2="470.50" y2="845.40" stroke="#9d9590" stroke-width="1.5"/>
<line x1="471.00" y1="845.40" x2="483.40" y2="845.40" stroke="#df382c" stroke-width="2.1"/>
<circle cx="421.45" cy="845.40" r="1.8" fill="#dcecf1"/>
<circle cx="451.80" cy="845.40" r="1.8" fill="#dcecf1"/>
<line x1="428.20" y1="842.30" x2="428.20" y2="848.50" stroke="#b8323f" stroke-width="0.9"/>
<line x1="438.20" y1="842.30" x2="438.20" y2="848.50" stroke="#b8323f" stroke-width="0.9"/>
<line x1="474.00" y1="842.30" x2="474.00" y2="848.50" stroke="#b8323f" stroke-width="0.9"/>
<circle cx="416.90" cy="845.40" r="2.3" fill="#2a2d68"/>
<circle cx="447.40" cy="845.40" r="2.3" fill="#2a2d68"/>
<circle cx="456.20" cy="845.40" r="2.3" fill="#5f8058"/>
<circle cx="470.50" cy="845.40" r="2.3" fill="#a9c47c"/>
<line x1="409.20" y1="854.20" x2="416.90" y2="854.20" stroke="#df382c" stroke-width="2.1"/>
<line x1="416.90" y1="854.20" x2="426.00" y2="854.20" stroke="#b9b6b4" stroke-width="1.2"/>
<line x1="426.00" y1="854.20" x2="447.40" y2="854.20" stroke="#df382c" stroke-width="2.1"/>
<line x1="447.40" y1="854.20" x2="456.20" y2="854.20" stroke="#b9b6b4" stroke-width="1.2"/>
<line x1="456.20" y1="854.20" x2="464.40" y2="854.20" stroke="#9d9590" stroke-width="1.5"/>
<circle cx="421.45" cy="854.20" r="1.8" fill="#dcecf1"/>
<circle cx="451.80" cy="854.20" r="1.8" fill="#dcecf1"/>
<line x1="410.00" y1="851.10" x2="410.00" y2="857.30" stroke="#b8323f" stroke-width="0.9"/>
<line x1="428.20" y1="851.10" x2="428.20" y2="857.30" stroke="#b8323f" stroke-width="0.9"/>
<line x1="438.20" y1="851.10" x2="438.20" y2="857.30" stroke="#b8323f" stroke-width="0.9"/>
<circle cx="416.90" cy="854.20" r="2.3" fill="#2a2d68"/>
<circle cx="447.40" cy="854.20" r="2.3" fill="#2a2d68"/>
<circle cx="456.20" cy="854.20" r="2.3" fill="#5f8058"/>
<line x1="403.00" y1="862.00" x2="416.90" y2="862.00" stroke="#df382c" stroke-width="2.1"/>
<line x1="416.90" y1="862.00" x2="426.00" y2="862.00" stroke="#b9b6b4" stroke-width="1.2"/>
<line x1="426.00" y1="862.00" x2="447.40" y2="862.00" stroke="#df382c" stroke-width="2.1"/>
<line x1="447.40" y1="862.00" x2="456.20" y2="862.00" stroke="#b9b6b4" stroke-width="1.2"/>
<circle cx="421.45" cy="862.00" r="1.8" fill="#dcecf1"/>
<circle cx="451.80" cy="862.00" r="1.8" fill="#dcecf1"/>
<line x1="408.50" y1="858.90" x2="408.50" y2="865.10" stroke="#b8323f" stroke-width="0.9"/>
<line x1="428.20" y1="858.90" x2="428.20" y2="865.10" stroke="#b8323f" stroke-width="0.9"/>
<line x1="438.20" y1="858.90" x2="438.20" y2="865.10" stroke="#b8323f" stroke-width="0.9"/>
<circle cx="416.90" cy="862.00" r="2.3" fill="#2a2d68"/>
<circle cx="447.40" cy="862.00" r="2.3" fill="#2a2d68"/>
<circle cx="456.20" cy="862.00" r="2.3" fill="#5f8058"/>
<line x1="374.60" y1="870.80" x2="386.70" y2="870.80" stroke="#b9b6b4" stroke-width="1.2"/>
<line x1="386.70" y1="870.80" x2="390.00" y2="870.80" stroke="#b9b6b4" stroke-width="1.2"/>
<line x1="390.00" y1="870.80" x2="416.90" y2="870.80" stroke="#df382c" stroke-width="2.1"/>
<line x1="416.90" y1="870.80" x2="426.00" y2="870.80" stroke="#b9b6b4" stroke-width="1.2"/>
<line x1="426.00" y1="870.80" x2="447.40" y2="870.80" stroke="#df382c" stroke-width="2.1"/>
<line x1="447.40" y1="870.80" x2="456.20" y2="870.80" stroke="#b9b6b4" stroke-width="1.2"/>
<circle cx="380.65" cy="870.80" r="1.8" fill="#dcecf1"/>
<circle cx="421.45" cy="870.80" r="1.8" fill="#dcecf1"/>
<circle cx="451.80" cy="870.80" r="1.8" fill="#dcecf1"/>
<line x1="394.00" y1="867.70" x2="394.00" y2="873.90" stroke="#b8323f" stroke-width="0.9"/>
<line x1="408.50" y1="867.70" x2="408.50" y2="873.90" stroke="#b8323f" stroke-width="0.9"/>
<line x1="428.20" y1="867.70" x2="428.20" y2="873.90" stroke="#b8323f" stroke-width="0.9"/>
<line x1="438.20" y1="867.70" x2="438.20" y2="873.90" stroke="#b8323f" stroke-width="0.9"/>
<circle cx="374.60" cy="870.80" r="2.3" fill="#f4a9b0"/>
<circle cx="386.70" cy="870.80" r="2.3" fill="#2a2d68"/>
<circle cx="416.90" cy="870.80" r="2.3" fill="#2a2d68"/>
<circle cx="447.40" cy="870.80" r="2.3" fill="#2a2d68"/>
<circle cx="456.20" cy="870.80" r="2.3" fill="#5f8058"/>
<text x="260.60" y="888.50" font-size="8.6" text-anchor="middle">Breakpoints</text>
<line x1="86.50" y1="894.00" x2="86.50" y2="932.00" stroke="#444" stroke-width="0.7"/>
<line x1="159.10" y1="894.00" x2="159.10" y2="932.00" stroke="#444" stroke-width="0.7"/>
<line x1="243.20" y1="894.00" x2="243.20" y2="932.00" stroke="#444" stroke-width="0.7"/>
<line x1="311.20" y1="894.00" x2="311.20" y2="932.00" stroke="#444" stroke-width="0.7"/>
<line x1="440.90" y1="894.00" x2="440.90" y2="932.00" stroke="#444" stroke-width="0.7"/>
<circle cx="46.60" cy="905.40" r="2.75" fill="#c8c48a" stroke="rgba(0,0,0,0.18)" stroke-width="0.6"/>
<text x="56.30" y="908.40" font-size="8.4" text-anchor="middle">1</text>
<circle cx="106.70" cy="899.50" r="2.75" fill="#d5a982" stroke="rgba(0,0,0,0.18)" stroke-width="0.6"/>
<text x="116.40" y="902.50" font-size="8.4" text-anchor="middle">2</text>
<circle cx="130.30" cy="899.50" r="2.75" fill="#f2c21e" stroke="rgba(0,0,0,0.18)" stroke-width="0.6"/>
<text x="140.00" y="902.50" font-size="8.4" text-anchor="middle">4</text>
<circle cx="106.70" cy="912.00" r="2.75" fill="#5a3d33" stroke="rgba(0,0,0,0.18)" stroke-width="0.6"/>
<text x="116.40" y="915.00" font-size="8.4" text-anchor="middle">3</text>
<circle cx="181.00" cy="898.80" r="2.75" fill="#b07ec4" stroke="rgba(0,0,0,0.18)" stroke-width="0.6"/>
<text x="190.70" y="901.80" font-size="8.4" text-anchor="middle">5</text>
<circle cx="208.50" cy="898.80" r="2.75" fill="#d9bde0" stroke="rgba(0,0,0,0.18)" stroke-width="0.6"/>
<text x="218.20" y="901.80" font-size="8.4" text-anchor="middle">8</text>
<circle cx="181.00" cy="912.00" r="2.75" fill="#4b1d5c" stroke="rgba(0,0,0,0.18)" stroke-width="0.6"/>
<text x="190.70" y="915.00" font-size="8.4" text-anchor="middle">6</text>
<circle cx="208.50" cy="912.00" r="2.75" fill="#8d5aa6" stroke="rgba(0,0,0,0.18)" stroke-width="0.6"/>
<text x="218.20" y="915.00" font-size="8.4" text-anchor="middle">12</text>
<circle cx="256.00" cy="898.80" r="2.75" fill="#2f6b35" stroke="rgba(0,0,0,0.18)" stroke-width="0.6"/>
<text x="265.70" y="901.80" font-size="8.4" text-anchor="middle">7</text>
<circle cx="282.30" cy="898.80" r="2.75" fill="#5f8058" stroke="rgba(0,0,0,0.18)" stroke-width="0.6"/>
<text x="292.00" y="901.80" font-size="8.4" text-anchor="middle">10</text>
<circle cx="256.00" cy="912.00" r="2.75" fill="#99d28c" stroke="rgba(0,0,0,0.18)" stroke-width="0.6"/>
<text x="265.70" y="915.00" font-size="8.4" text-anchor="middle">9</text>
<circle cx="282.30" cy="912.00" r="2.75" fill="#a9c47c" stroke="rgba(0,0,0,0.18)" stroke-width="0.6"/>
<text x="292.00" y="915.00" font-size="8.4" text-anchor="middle">11</text>
<circle cx="322.00" cy="899.60" r="2.75" fill="#4474aa" stroke="rgba(0,0,0,0.18)" stroke-width="0.6"/>
<text x="331.70" y="902.60" font-size="8.4" text-anchor="middle">13</text>
<circle cx="351.60" cy="899.60" r="2.75" fill="#a7d7e6" stroke="rgba(0,0,0,0.18)" stroke-width="0.6"/>
<text x="361.30" y="902.60" font-size="8.4" text-anchor="middle">15</text>
<circle cx="382.50" cy="899.60" r="2.75" fill="#3f70a4" stroke="rgba(0,0,0,0.18)" stroke-width="0.6"/>
<text x="392.20" y="902.60" font-size="8.4" text-anchor="middle">17</text>
<circle cx="414.20" cy="899.60" r="2.75" fill="#cfe8f1" stroke="rgba(0,0,0,0.18)" stroke-width="0.6"/>
<text x="423.90" y="902.60" font-size="8.4" text-anchor="middle">19</text>
<circle cx="322.00" cy="912.30" r="2.75" fill="#2a2d68" stroke="rgba(0,0,0,0.18)" stroke-width="0.6"/>
<text x="331.70" y="915.30" font-size="8.4" text-anchor="middle">14</text>
<circle cx="351.60" cy="912.30" r="2.75" fill="#4fa4b3" stroke="rgba(0,0,0,0.18)" stroke-width="0.6"/>
<text x="361.30" y="915.30" font-size="8.4" text-anchor="middle">16</text>
<circle cx="382.50" cy="912.30" r="2.75" fill="#aeb0d6" stroke="rgba(0,0,0,0.18)" stroke-width="0.6"/>
<text x="392.20" y="915.30" font-size="8.4" text-anchor="middle">18</text>
<circle cx="450.20" cy="899.60" r="2.75" fill="#e0323f" stroke="rgba(0,0,0,0.18)" stroke-width="0.6"/>
<text x="459.90" y="902.60" font-size="8.4" text-anchor="middle">20</text>
<circle cx="482.00" cy="899.60" r="2.75" fill="#f4a9b0" stroke="rgba(0,0,0,0.18)" stroke-width="0.6"/>
<text x="491.70" y="902.60" font-size="8.4" text-anchor="middle">22</text>
<circle cx="450.20" cy="912.30" r="2.75" fill="#e8707a" stroke="rgba(0,0,0,0.18)" stroke-width="0.6"/>
<text x="459.90" y="915.30" font-size="8.4" text-anchor="middle">21</text>
<text x="55.40" y="929.30" font-size="8.6" text-anchor="middle">5p host–host</text>
<text x="123.00" y="929.30" font-size="8.6" text-anchor="middle">5p host–virus</text>
<text x="201.50" y="929.30" font-size="8.6" text-anchor="middle">Chr. 5-X host–host</text>
<text x="277.20" y="929.30" font-size="8.6" text-anchor="middle">5q host–virus</text>
<text x="375.80" y="929.30" font-size="8.6" text-anchor="middle">Xp host–virus</text>
<text x="473.90" y="929.30" font-size="8.6" text-anchor="middle">Virus–virus</text>
</svg></body></html>
